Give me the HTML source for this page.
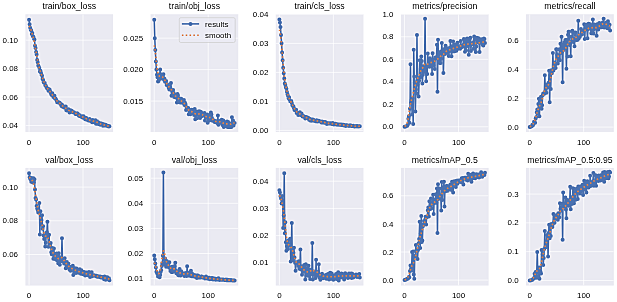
<!DOCTYPE html>
<html lang="en"><head><meta charset="utf-8"><title>results</title>
<style>html,body{margin:0;padding:0;background:#fff}svg{display:block}</style></head>
<body>
<svg width="617" height="302" viewBox="0 0 617 302" font-family="'Liberation Sans', Arial, sans-serif" fill="#303030">
<filter id="sh" x="0" y="0" width="617" height="302" filterUnits="userSpaceOnUse" color-interpolation-filters="sRGB"><feGaussianBlur in="SourceGraphic" stdDeviation="0.9" result="b"/><feComposite in="SourceGraphic" in2="b" operator="arithmetic" k1="0" k2="1.55" k3="-0.55" k4="0"/></filter>
<g filter="url(#sh)">
<rect width="617" height="302" fill="#fff"/>
<clipPath id="c0"><rect x="25.4" y="14.25" width="87.75" height="117.7"/></clipPath>
<rect x="25.4" y="14.25" width="87.75" height="117.7" fill="#eaeaf2"/>
<path d="M29.08 14.25V131.95M83.03 14.25V131.95M25.4 40.15H113.15M25.4 68.59H113.15M25.4 97.03H113.15M25.4 125.47H113.15" stroke="#fff" stroke-width="0.6" fill="none" clip-path="url(#c0)"/>
<polyline points="29.08,19.82 29.62,24.16 30.16,27.67 30.7,29.81 31.24,30.17 31.78,34.03 32.32,32.96 32.86,36.2 33.4,36.77 33.94,38.75 34.48,39.51 35.01,45.75 35.55,48.12 36.09,52.1 36.63,54.52 37.17,60.1 37.71,62.33 38.25,65.41 38.79,66.64 39.33,68.02 39.87,71.46 40.41,70.87 40.95,72.68 41.49,74.63 42.03,75.85 42.57,79.05 43.11,80.06 43.65,82.27 44.19,82.79 44.73,83.07 45.27,85.25 45.81,85.87 46.34,87.02 46.88,88 47.42,88.64 47.96,88.81 48.5,90.71 49.04,90.2 49.58,89.6 50.12,91.26 50.66,92.93 51.2,94.35 51.74,94.95 52.28,93.31 52.82,95.63 53.36,97.01 53.9,96.93 54.44,95.81 54.98,98.42 55.52,98.62 56.06,99.57 56.6,100.79 57.14,102.14 57.68,101.96 58.21,102.39 58.75,102.19 59.29,102.5 59.83,102.95 60.37,104.08 60.91,104.02 61.45,106.07 61.99,104.63 62.53,105.79 63.07,106.99 63.61,106.66 64.15,107.58 64.69,106.81 65.23,106.79 65.77,106.49 66.31,110.18 66.85,110.52 67.39,109.93 67.93,109.59 68.47,109.19 69.01,109.98 69.54,112.43 70.08,111.08 70.62,110.28 71.16,111.1 71.7,110.87 72.24,112.04 72.78,112.29 73.32,112.21 73.86,112.28 74.4,112.76 74.94,113.11 75.48,114.12 76.02,113.44 76.56,113.96 77.1,113.31 77.64,113.53 78.18,114.74 78.72,115.53 79.26,116.04 79.8,115.34 80.34,115.92 80.87,116.56 81.41,116.47 81.95,117.32 82.49,116.37 83.03,117.65 83.57,116.37 84.11,117.34 84.65,117.4 85.19,119.14 85.73,118.21 86.27,117.91 86.81,119.64 87.35,119.23 87.89,119.16 88.43,120.62 88.97,119.31 89.51,119.04 90.05,120.76 90.59,119.88 91.13,121.56 91.67,120.63 92.21,122.23 92.74,120 93.28,120.83 93.82,121.41 94.36,122.27 94.9,120.66 95.44,120.25 95.98,123.81 96.52,121.28 97.06,121.14 97.6,122.46 98.14,124 98.68,122.39 99.22,123.49 99.76,124.05 100.3,124.79 100.84,123.43 101.38,123.41 101.92,124.83 102.46,124.03 103,125.66 103.54,124.16 104.07,125 104.61,125.39 105.15,125.5 105.69,124.86 106.23,125.14 106.77,125.52 107.31,126.04 107.85,126.28 108.39,126 108.93,126.51 109.47,126.31" fill="none" stroke="#4c72b0" stroke-width="1.5" stroke-linejoin="round"/>
<path d="M27.08 19.82a2.0 2.0 0 1 0 4.0 0a2.0 2.0 0 1 0 -4.0 0zM27.62 24.16a2.0 2.0 0 1 0 4.0 0a2.0 2.0 0 1 0 -4.0 0zM28.16 27.67a2.0 2.0 0 1 0 4.0 0a2.0 2.0 0 1 0 -4.0 0zM28.7 29.81a2.0 2.0 0 1 0 4.0 0a2.0 2.0 0 1 0 -4.0 0zM29.24 30.17a2.0 2.0 0 1 0 4.0 0a2.0 2.0 0 1 0 -4.0 0zM29.78 34.03a2.0 2.0 0 1 0 4.0 0a2.0 2.0 0 1 0 -4.0 0zM30.32 32.96a2.0 2.0 0 1 0 4.0 0a2.0 2.0 0 1 0 -4.0 0zM30.86 36.2a2.0 2.0 0 1 0 4.0 0a2.0 2.0 0 1 0 -4.0 0zM31.4 36.77a2.0 2.0 0 1 0 4.0 0a2.0 2.0 0 1 0 -4.0 0zM31.94 38.75a2.0 2.0 0 1 0 4.0 0a2.0 2.0 0 1 0 -4.0 0zM32.48 39.51a2.0 2.0 0 1 0 4.0 0a2.0 2.0 0 1 0 -4.0 0zM33.01 45.75a2.0 2.0 0 1 0 4.0 0a2.0 2.0 0 1 0 -4.0 0zM33.55 48.12a2.0 2.0 0 1 0 4.0 0a2.0 2.0 0 1 0 -4.0 0zM34.09 52.1a2.0 2.0 0 1 0 4.0 0a2.0 2.0 0 1 0 -4.0 0zM34.63 54.52a2.0 2.0 0 1 0 4.0 0a2.0 2.0 0 1 0 -4.0 0zM35.17 60.1a2.0 2.0 0 1 0 4.0 0a2.0 2.0 0 1 0 -4.0 0zM35.71 62.33a2.0 2.0 0 1 0 4.0 0a2.0 2.0 0 1 0 -4.0 0zM36.25 65.41a2.0 2.0 0 1 0 4.0 0a2.0 2.0 0 1 0 -4.0 0zM36.79 66.64a2.0 2.0 0 1 0 4.0 0a2.0 2.0 0 1 0 -4.0 0zM37.33 68.02a2.0 2.0 0 1 0 4.0 0a2.0 2.0 0 1 0 -4.0 0zM37.87 71.46a2.0 2.0 0 1 0 4.0 0a2.0 2.0 0 1 0 -4.0 0zM38.41 70.87a2.0 2.0 0 1 0 4.0 0a2.0 2.0 0 1 0 -4.0 0zM38.95 72.68a2.0 2.0 0 1 0 4.0 0a2.0 2.0 0 1 0 -4.0 0zM39.49 74.63a2.0 2.0 0 1 0 4.0 0a2.0 2.0 0 1 0 -4.0 0zM40.03 75.85a2.0 2.0 0 1 0 4.0 0a2.0 2.0 0 1 0 -4.0 0zM40.57 79.05a2.0 2.0 0 1 0 4.0 0a2.0 2.0 0 1 0 -4.0 0zM41.11 80.06a2.0 2.0 0 1 0 4.0 0a2.0 2.0 0 1 0 -4.0 0zM41.65 82.27a2.0 2.0 0 1 0 4.0 0a2.0 2.0 0 1 0 -4.0 0zM42.19 82.79a2.0 2.0 0 1 0 4.0 0a2.0 2.0 0 1 0 -4.0 0zM42.73 83.07a2.0 2.0 0 1 0 4.0 0a2.0 2.0 0 1 0 -4.0 0zM43.27 85.25a2.0 2.0 0 1 0 4.0 0a2.0 2.0 0 1 0 -4.0 0zM43.81 85.87a2.0 2.0 0 1 0 4.0 0a2.0 2.0 0 1 0 -4.0 0zM44.34 87.02a2.0 2.0 0 1 0 4.0 0a2.0 2.0 0 1 0 -4.0 0zM44.88 88a2.0 2.0 0 1 0 4.0 0a2.0 2.0 0 1 0 -4.0 0zM45.42 88.64a2.0 2.0 0 1 0 4.0 0a2.0 2.0 0 1 0 -4.0 0zM45.96 88.81a2.0 2.0 0 1 0 4.0 0a2.0 2.0 0 1 0 -4.0 0zM46.5 90.71a2.0 2.0 0 1 0 4.0 0a2.0 2.0 0 1 0 -4.0 0zM47.04 90.2a2.0 2.0 0 1 0 4.0 0a2.0 2.0 0 1 0 -4.0 0zM47.58 89.6a2.0 2.0 0 1 0 4.0 0a2.0 2.0 0 1 0 -4.0 0zM48.12 91.26a2.0 2.0 0 1 0 4.0 0a2.0 2.0 0 1 0 -4.0 0zM48.66 92.93a2.0 2.0 0 1 0 4.0 0a2.0 2.0 0 1 0 -4.0 0zM49.2 94.35a2.0 2.0 0 1 0 4.0 0a2.0 2.0 0 1 0 -4.0 0zM49.74 94.95a2.0 2.0 0 1 0 4.0 0a2.0 2.0 0 1 0 -4.0 0zM50.28 93.31a2.0 2.0 0 1 0 4.0 0a2.0 2.0 0 1 0 -4.0 0zM50.82 95.63a2.0 2.0 0 1 0 4.0 0a2.0 2.0 0 1 0 -4.0 0zM51.36 97.01a2.0 2.0 0 1 0 4.0 0a2.0 2.0 0 1 0 -4.0 0zM51.9 96.93a2.0 2.0 0 1 0 4.0 0a2.0 2.0 0 1 0 -4.0 0zM52.44 95.81a2.0 2.0 0 1 0 4.0 0a2.0 2.0 0 1 0 -4.0 0zM52.98 98.42a2.0 2.0 0 1 0 4.0 0a2.0 2.0 0 1 0 -4.0 0zM53.52 98.62a2.0 2.0 0 1 0 4.0 0a2.0 2.0 0 1 0 -4.0 0zM54.06 99.57a2.0 2.0 0 1 0 4.0 0a2.0 2.0 0 1 0 -4.0 0zM54.6 100.79a2.0 2.0 0 1 0 4.0 0a2.0 2.0 0 1 0 -4.0 0zM55.14 102.14a2.0 2.0 0 1 0 4.0 0a2.0 2.0 0 1 0 -4.0 0zM55.68 101.96a2.0 2.0 0 1 0 4.0 0a2.0 2.0 0 1 0 -4.0 0zM56.21 102.39a2.0 2.0 0 1 0 4.0 0a2.0 2.0 0 1 0 -4.0 0zM56.75 102.19a2.0 2.0 0 1 0 4.0 0a2.0 2.0 0 1 0 -4.0 0zM57.29 102.5a2.0 2.0 0 1 0 4.0 0a2.0 2.0 0 1 0 -4.0 0zM57.83 102.95a2.0 2.0 0 1 0 4.0 0a2.0 2.0 0 1 0 -4.0 0zM58.37 104.08a2.0 2.0 0 1 0 4.0 0a2.0 2.0 0 1 0 -4.0 0zM58.91 104.02a2.0 2.0 0 1 0 4.0 0a2.0 2.0 0 1 0 -4.0 0zM59.45 106.07a2.0 2.0 0 1 0 4.0 0a2.0 2.0 0 1 0 -4.0 0zM59.99 104.63a2.0 2.0 0 1 0 4.0 0a2.0 2.0 0 1 0 -4.0 0zM60.53 105.79a2.0 2.0 0 1 0 4.0 0a2.0 2.0 0 1 0 -4.0 0zM61.07 106.99a2.0 2.0 0 1 0 4.0 0a2.0 2.0 0 1 0 -4.0 0zM61.61 106.66a2.0 2.0 0 1 0 4.0 0a2.0 2.0 0 1 0 -4.0 0zM62.15 107.58a2.0 2.0 0 1 0 4.0 0a2.0 2.0 0 1 0 -4.0 0zM62.69 106.81a2.0 2.0 0 1 0 4.0 0a2.0 2.0 0 1 0 -4.0 0zM63.23 106.79a2.0 2.0 0 1 0 4.0 0a2.0 2.0 0 1 0 -4.0 0zM63.77 106.49a2.0 2.0 0 1 0 4.0 0a2.0 2.0 0 1 0 -4.0 0zM64.31 110.18a2.0 2.0 0 1 0 4.0 0a2.0 2.0 0 1 0 -4.0 0zM64.85 110.52a2.0 2.0 0 1 0 4.0 0a2.0 2.0 0 1 0 -4.0 0zM65.39 109.93a2.0 2.0 0 1 0 4.0 0a2.0 2.0 0 1 0 -4.0 0zM65.93 109.59a2.0 2.0 0 1 0 4.0 0a2.0 2.0 0 1 0 -4.0 0zM66.47 109.19a2.0 2.0 0 1 0 4.0 0a2.0 2.0 0 1 0 -4.0 0zM67.01 109.98a2.0 2.0 0 1 0 4.0 0a2.0 2.0 0 1 0 -4.0 0zM67.54 112.43a2.0 2.0 0 1 0 4.0 0a2.0 2.0 0 1 0 -4.0 0zM68.08 111.08a2.0 2.0 0 1 0 4.0 0a2.0 2.0 0 1 0 -4.0 0zM68.62 110.28a2.0 2.0 0 1 0 4.0 0a2.0 2.0 0 1 0 -4.0 0zM69.16 111.1a2.0 2.0 0 1 0 4.0 0a2.0 2.0 0 1 0 -4.0 0zM69.7 110.87a2.0 2.0 0 1 0 4.0 0a2.0 2.0 0 1 0 -4.0 0zM70.24 112.04a2.0 2.0 0 1 0 4.0 0a2.0 2.0 0 1 0 -4.0 0zM70.78 112.29a2.0 2.0 0 1 0 4.0 0a2.0 2.0 0 1 0 -4.0 0zM71.32 112.21a2.0 2.0 0 1 0 4.0 0a2.0 2.0 0 1 0 -4.0 0zM71.86 112.28a2.0 2.0 0 1 0 4.0 0a2.0 2.0 0 1 0 -4.0 0zM72.4 112.76a2.0 2.0 0 1 0 4.0 0a2.0 2.0 0 1 0 -4.0 0zM72.94 113.11a2.0 2.0 0 1 0 4.0 0a2.0 2.0 0 1 0 -4.0 0zM73.48 114.12a2.0 2.0 0 1 0 4.0 0a2.0 2.0 0 1 0 -4.0 0zM74.02 113.44a2.0 2.0 0 1 0 4.0 0a2.0 2.0 0 1 0 -4.0 0zM74.56 113.96a2.0 2.0 0 1 0 4.0 0a2.0 2.0 0 1 0 -4.0 0zM75.1 113.31a2.0 2.0 0 1 0 4.0 0a2.0 2.0 0 1 0 -4.0 0zM75.64 113.53a2.0 2.0 0 1 0 4.0 0a2.0 2.0 0 1 0 -4.0 0zM76.18 114.74a2.0 2.0 0 1 0 4.0 0a2.0 2.0 0 1 0 -4.0 0zM76.72 115.53a2.0 2.0 0 1 0 4.0 0a2.0 2.0 0 1 0 -4.0 0zM77.26 116.04a2.0 2.0 0 1 0 4.0 0a2.0 2.0 0 1 0 -4.0 0zM77.8 115.34a2.0 2.0 0 1 0 4.0 0a2.0 2.0 0 1 0 -4.0 0zM78.34 115.92a2.0 2.0 0 1 0 4.0 0a2.0 2.0 0 1 0 -4.0 0zM78.87 116.56a2.0 2.0 0 1 0 4.0 0a2.0 2.0 0 1 0 -4.0 0zM79.41 116.47a2.0 2.0 0 1 0 4.0 0a2.0 2.0 0 1 0 -4.0 0zM79.95 117.32a2.0 2.0 0 1 0 4.0 0a2.0 2.0 0 1 0 -4.0 0zM80.49 116.37a2.0 2.0 0 1 0 4.0 0a2.0 2.0 0 1 0 -4.0 0zM81.03 117.65a2.0 2.0 0 1 0 4.0 0a2.0 2.0 0 1 0 -4.0 0zM81.57 116.37a2.0 2.0 0 1 0 4.0 0a2.0 2.0 0 1 0 -4.0 0zM82.11 117.34a2.0 2.0 0 1 0 4.0 0a2.0 2.0 0 1 0 -4.0 0zM82.65 117.4a2.0 2.0 0 1 0 4.0 0a2.0 2.0 0 1 0 -4.0 0zM83.19 119.14a2.0 2.0 0 1 0 4.0 0a2.0 2.0 0 1 0 -4.0 0zM83.73 118.21a2.0 2.0 0 1 0 4.0 0a2.0 2.0 0 1 0 -4.0 0zM84.27 117.91a2.0 2.0 0 1 0 4.0 0a2.0 2.0 0 1 0 -4.0 0zM84.81 119.64a2.0 2.0 0 1 0 4.0 0a2.0 2.0 0 1 0 -4.0 0zM85.35 119.23a2.0 2.0 0 1 0 4.0 0a2.0 2.0 0 1 0 -4.0 0zM85.89 119.16a2.0 2.0 0 1 0 4.0 0a2.0 2.0 0 1 0 -4.0 0zM86.43 120.62a2.0 2.0 0 1 0 4.0 0a2.0 2.0 0 1 0 -4.0 0zM86.97 119.31a2.0 2.0 0 1 0 4.0 0a2.0 2.0 0 1 0 -4.0 0zM87.51 119.04a2.0 2.0 0 1 0 4.0 0a2.0 2.0 0 1 0 -4.0 0zM88.05 120.76a2.0 2.0 0 1 0 4.0 0a2.0 2.0 0 1 0 -4.0 0zM88.59 119.88a2.0 2.0 0 1 0 4.0 0a2.0 2.0 0 1 0 -4.0 0zM89.13 121.56a2.0 2.0 0 1 0 4.0 0a2.0 2.0 0 1 0 -4.0 0zM89.67 120.63a2.0 2.0 0 1 0 4.0 0a2.0 2.0 0 1 0 -4.0 0zM90.21 122.23a2.0 2.0 0 1 0 4.0 0a2.0 2.0 0 1 0 -4.0 0zM90.74 120a2.0 2.0 0 1 0 4.0 0a2.0 2.0 0 1 0 -4.0 0zM91.28 120.83a2.0 2.0 0 1 0 4.0 0a2.0 2.0 0 1 0 -4.0 0zM91.82 121.41a2.0 2.0 0 1 0 4.0 0a2.0 2.0 0 1 0 -4.0 0zM92.36 122.27a2.0 2.0 0 1 0 4.0 0a2.0 2.0 0 1 0 -4.0 0zM92.9 120.66a2.0 2.0 0 1 0 4.0 0a2.0 2.0 0 1 0 -4.0 0zM93.44 120.25a2.0 2.0 0 1 0 4.0 0a2.0 2.0 0 1 0 -4.0 0zM93.98 123.81a2.0 2.0 0 1 0 4.0 0a2.0 2.0 0 1 0 -4.0 0zM94.52 121.28a2.0 2.0 0 1 0 4.0 0a2.0 2.0 0 1 0 -4.0 0zM95.06 121.14a2.0 2.0 0 1 0 4.0 0a2.0 2.0 0 1 0 -4.0 0zM95.6 122.46a2.0 2.0 0 1 0 4.0 0a2.0 2.0 0 1 0 -4.0 0zM96.14 124a2.0 2.0 0 1 0 4.0 0a2.0 2.0 0 1 0 -4.0 0zM96.68 122.39a2.0 2.0 0 1 0 4.0 0a2.0 2.0 0 1 0 -4.0 0zM97.22 123.49a2.0 2.0 0 1 0 4.0 0a2.0 2.0 0 1 0 -4.0 0zM97.76 124.05a2.0 2.0 0 1 0 4.0 0a2.0 2.0 0 1 0 -4.0 0zM98.3 124.79a2.0 2.0 0 1 0 4.0 0a2.0 2.0 0 1 0 -4.0 0zM98.84 123.43a2.0 2.0 0 1 0 4.0 0a2.0 2.0 0 1 0 -4.0 0zM99.38 123.41a2.0 2.0 0 1 0 4.0 0a2.0 2.0 0 1 0 -4.0 0zM99.92 124.83a2.0 2.0 0 1 0 4.0 0a2.0 2.0 0 1 0 -4.0 0zM100.46 124.03a2.0 2.0 0 1 0 4.0 0a2.0 2.0 0 1 0 -4.0 0zM101 125.66a2.0 2.0 0 1 0 4.0 0a2.0 2.0 0 1 0 -4.0 0zM101.54 124.16a2.0 2.0 0 1 0 4.0 0a2.0 2.0 0 1 0 -4.0 0zM102.07 125a2.0 2.0 0 1 0 4.0 0a2.0 2.0 0 1 0 -4.0 0zM102.61 125.39a2.0 2.0 0 1 0 4.0 0a2.0 2.0 0 1 0 -4.0 0zM103.15 125.5a2.0 2.0 0 1 0 4.0 0a2.0 2.0 0 1 0 -4.0 0zM103.69 124.86a2.0 2.0 0 1 0 4.0 0a2.0 2.0 0 1 0 -4.0 0zM104.23 125.14a2.0 2.0 0 1 0 4.0 0a2.0 2.0 0 1 0 -4.0 0zM104.77 125.52a2.0 2.0 0 1 0 4.0 0a2.0 2.0 0 1 0 -4.0 0zM105.31 126.04a2.0 2.0 0 1 0 4.0 0a2.0 2.0 0 1 0 -4.0 0zM105.85 126.28a2.0 2.0 0 1 0 4.0 0a2.0 2.0 0 1 0 -4.0 0zM106.39 126a2.0 2.0 0 1 0 4.0 0a2.0 2.0 0 1 0 -4.0 0zM106.93 126.51a2.0 2.0 0 1 0 4.0 0a2.0 2.0 0 1 0 -4.0 0zM107.47 126.31a2.0 2.0 0 1 0 4.0 0a2.0 2.0 0 1 0 -4.0 0z" fill="#4c72b0"/>
<polyline points="29.08,25.99 29.62,26.57 30.16,27.64 30.7,29.05 31.24,30.68 31.78,32.41 32.32,34.22 32.86,36.12 33.4,38.19 33.94,40.47 34.48,43.01 35.01,45.79 35.55,48.77 36.09,51.86 36.63,54.96 37.17,57.95 37.71,60.76 38.25,63.34 38.79,65.66 39.33,67.74 39.87,69.65 40.41,71.43 40.95,73.13 41.49,74.79 42.03,76.42 42.57,78.01 43.11,79.53 43.65,80.95 44.19,82.27 44.73,83.49 45.27,84.61 45.81,85.64 46.34,86.58 46.88,87.45 47.42,88.25 47.96,88.99 48.5,89.69 49.04,90.39 49.58,91.09 50.12,91.82 50.66,92.57 51.2,93.31 51.74,94.04 52.28,94.74 52.82,95.41 53.36,96.08 53.9,96.75 54.44,97.44 54.98,98.15 55.52,98.88 56.06,99.61 56.6,100.31 57.14,100.94 57.68,101.51 58.21,102.02 58.75,102.49 59.29,102.95 59.83,103.42 60.37,103.89 60.91,104.38 61.45,104.87 61.99,105.34 62.53,105.79 63.07,106.2 63.61,106.59 64.15,106.97 64.69,107.36 65.23,107.77 65.77,108.21 66.31,108.66 66.85,109.08 67.39,109.47 67.93,109.81 68.47,110.11 69.01,110.38 69.54,110.61 70.08,110.84 70.62,111.05 71.16,111.27 71.7,111.49 72.24,111.74 72.78,112 73.32,112.28 73.86,112.55 74.4,112.82 74.94,113.08 75.48,113.32 76.02,113.56 76.56,113.81 77.1,114.08 77.64,114.37 78.18,114.7 78.72,115.03 79.26,115.37 79.8,115.68 80.34,115.97 80.87,116.23 81.41,116.47 81.95,116.68 82.49,116.89 83.03,117.09 83.57,117.31 84.11,117.55 84.65,117.81 85.19,118.09 85.73,118.37 86.27,118.65 86.81,118.91 87.35,119.15 87.89,119.38 88.43,119.59 88.97,119.79 89.51,120 90.05,120.21 90.59,120.42 91.13,120.61 91.67,120.78 92.21,120.92 92.74,121.04 93.28,121.15 93.82,121.25 94.36,121.36 94.9,121.49 95.44,121.64 95.98,121.82 96.52,122.04 97.06,122.28 97.6,122.55 98.14,122.83 98.68,123.1 99.22,123.36 99.76,123.6 100.3,123.8 100.84,123.98 101.38,124.15 101.92,124.32 102.46,124.48 103,124.64 103.54,124.8 104.07,124.94 104.61,125.07 105.15,125.21 105.69,125.34 106.23,125.48 106.77,125.64 107.31,125.79 107.85,125.93 108.39,126.05 108.93,126.13 109.47,126.17" fill="none" stroke="#dd8452" stroke-width="1.6" stroke-dasharray="1.5 2.33"/>
<clipPath id="c1"><rect x="150.56" y="14.25" width="87.75" height="117.7"/></clipPath>
<rect x="150.56" y="14.25" width="87.75" height="117.7" fill="#eaeaf2"/>
<path d="M154.24 14.25V131.95M208.19 14.25V131.95M150.56 38.15H238.31M150.56 69.6H238.31M150.56 101.05H238.31" stroke="#fff" stroke-width="0.6" fill="none" clip-path="url(#c1)"/>
<polyline points="154.24,19.66 154.78,38.15 155.32,50.1 155.86,61.42 156.4,69.6 156.94,74.63 157.48,77.14 158.02,81.38 158.56,81.07 159.1,79.54 159.64,74.52 160.17,69.51 160.71,75.26 161.25,78.4 161.79,74.54 162.33,77.71 162.87,76.68 163.41,74.22 163.95,79.72 164.49,78.72 165.03,81.85 165.57,81 166.11,80.98 166.65,85.04 167.19,84.28 167.73,84.71 168.27,86.3 168.81,88.22 169.35,89.39 169.89,86.96 170.43,88.14 170.97,83.05 171.5,95.74 172.04,90.7 172.58,91.28 173.12,89.98 173.66,93.05 174.2,97.11 174.74,95.7 175.28,94.97 175.82,97.61 176.36,95.47 176.9,102.4 177.44,94.09 177.98,95.2 178.52,100.04 179.06,98.17 179.6,99.93 180.14,102.44 180.68,100.57 181.22,98.72 181.76,102.42 182.3,102.78 182.84,102.43 183.37,101.61 183.91,100.01 184.45,105.09 184.99,102.87 185.53,104.22 186.07,109.95 186.61,107.31 187.15,107.46 187.69,108.06 188.23,107.97 188.77,114.33 189.31,109.94 189.85,112.1 190.39,114.25 190.93,109.88 191.47,109.65 192.01,113.21 192.55,109.89 193.09,113.01 193.63,112.15 194.17,115.1 194.7,108.93 195.24,119.15 195.78,113.26 196.32,111.59 196.86,118.22 197.4,114.08 197.94,114.02 198.48,112.11 199.02,111.33 199.56,115.41 200.1,117.91 200.64,111.67 201.18,112.22 201.72,116.35 202.26,114.65 202.8,114.78 203.34,114.54 203.88,115.58 204.42,112.98 204.96,120.49 205.5,114.23 206.03,115.95 206.57,117.53 207.11,114.51 207.65,122.83 208.19,114.92 208.73,116.91 209.27,120.6 209.81,117.18 210.35,119.07 210.89,112.62 211.43,114.55 211.97,117.95 212.51,120.81 213.05,120.71 213.59,120.33 214.13,121.08 214.67,122.08 215.21,121.58 215.75,121.08 216.29,121.85 216.83,122.48 217.37,123.22 217.9,115.53 218.44,124.87 218.98,124.04 219.52,120.95 220.06,122.85 220.6,121.35 221.14,120.68 221.68,119.81 222.22,121.12 222.76,125.19 223.3,120.6 223.84,126.96 224.38,123.59 224.92,124.54 225.46,125.9 226,122.3 226.54,124.12 227.08,121.53 227.62,126.96 228.16,122.09 228.7,122.95 229.23,123.86 229.77,126.96 230.31,124.84 230.85,126.96 231.39,126.96 231.93,117.21 232.47,122.37 233.01,120.6 233.55,125.53 234.09,123.08 234.63,123.1" fill="none" stroke="#4c72b0" stroke-width="1.5" stroke-linejoin="round"/>
<path d="M152.24 19.66a2.0 2.0 0 1 0 4.0 0a2.0 2.0 0 1 0 -4.0 0zM152.78 38.15a2.0 2.0 0 1 0 4.0 0a2.0 2.0 0 1 0 -4.0 0zM153.32 50.1a2.0 2.0 0 1 0 4.0 0a2.0 2.0 0 1 0 -4.0 0zM153.86 61.42a2.0 2.0 0 1 0 4.0 0a2.0 2.0 0 1 0 -4.0 0zM154.4 69.6a2.0 2.0 0 1 0 4.0 0a2.0 2.0 0 1 0 -4.0 0zM154.94 74.63a2.0 2.0 0 1 0 4.0 0a2.0 2.0 0 1 0 -4.0 0zM155.48 77.14a2.0 2.0 0 1 0 4.0 0a2.0 2.0 0 1 0 -4.0 0zM156.02 81.38a2.0 2.0 0 1 0 4.0 0a2.0 2.0 0 1 0 -4.0 0zM156.56 81.07a2.0 2.0 0 1 0 4.0 0a2.0 2.0 0 1 0 -4.0 0zM157.1 79.54a2.0 2.0 0 1 0 4.0 0a2.0 2.0 0 1 0 -4.0 0zM157.64 74.52a2.0 2.0 0 1 0 4.0 0a2.0 2.0 0 1 0 -4.0 0zM158.17 69.51a2.0 2.0 0 1 0 4.0 0a2.0 2.0 0 1 0 -4.0 0zM158.71 75.26a2.0 2.0 0 1 0 4.0 0a2.0 2.0 0 1 0 -4.0 0zM159.25 78.4a2.0 2.0 0 1 0 4.0 0a2.0 2.0 0 1 0 -4.0 0zM159.79 74.54a2.0 2.0 0 1 0 4.0 0a2.0 2.0 0 1 0 -4.0 0zM160.33 77.71a2.0 2.0 0 1 0 4.0 0a2.0 2.0 0 1 0 -4.0 0zM160.87 76.68a2.0 2.0 0 1 0 4.0 0a2.0 2.0 0 1 0 -4.0 0zM161.41 74.22a2.0 2.0 0 1 0 4.0 0a2.0 2.0 0 1 0 -4.0 0zM161.95 79.72a2.0 2.0 0 1 0 4.0 0a2.0 2.0 0 1 0 -4.0 0zM162.49 78.72a2.0 2.0 0 1 0 4.0 0a2.0 2.0 0 1 0 -4.0 0zM163.03 81.85a2.0 2.0 0 1 0 4.0 0a2.0 2.0 0 1 0 -4.0 0zM163.57 81a2.0 2.0 0 1 0 4.0 0a2.0 2.0 0 1 0 -4.0 0zM164.11 80.98a2.0 2.0 0 1 0 4.0 0a2.0 2.0 0 1 0 -4.0 0zM164.65 85.04a2.0 2.0 0 1 0 4.0 0a2.0 2.0 0 1 0 -4.0 0zM165.19 84.28a2.0 2.0 0 1 0 4.0 0a2.0 2.0 0 1 0 -4.0 0zM165.73 84.71a2.0 2.0 0 1 0 4.0 0a2.0 2.0 0 1 0 -4.0 0zM166.27 86.3a2.0 2.0 0 1 0 4.0 0a2.0 2.0 0 1 0 -4.0 0zM166.81 88.22a2.0 2.0 0 1 0 4.0 0a2.0 2.0 0 1 0 -4.0 0zM167.35 89.39a2.0 2.0 0 1 0 4.0 0a2.0 2.0 0 1 0 -4.0 0zM167.89 86.96a2.0 2.0 0 1 0 4.0 0a2.0 2.0 0 1 0 -4.0 0zM168.43 88.14a2.0 2.0 0 1 0 4.0 0a2.0 2.0 0 1 0 -4.0 0zM168.97 83.05a2.0 2.0 0 1 0 4.0 0a2.0 2.0 0 1 0 -4.0 0zM169.5 95.74a2.0 2.0 0 1 0 4.0 0a2.0 2.0 0 1 0 -4.0 0zM170.04 90.7a2.0 2.0 0 1 0 4.0 0a2.0 2.0 0 1 0 -4.0 0zM170.58 91.28a2.0 2.0 0 1 0 4.0 0a2.0 2.0 0 1 0 -4.0 0zM171.12 89.98a2.0 2.0 0 1 0 4.0 0a2.0 2.0 0 1 0 -4.0 0zM171.66 93.05a2.0 2.0 0 1 0 4.0 0a2.0 2.0 0 1 0 -4.0 0zM172.2 97.11a2.0 2.0 0 1 0 4.0 0a2.0 2.0 0 1 0 -4.0 0zM172.74 95.7a2.0 2.0 0 1 0 4.0 0a2.0 2.0 0 1 0 -4.0 0zM173.28 94.97a2.0 2.0 0 1 0 4.0 0a2.0 2.0 0 1 0 -4.0 0zM173.82 97.61a2.0 2.0 0 1 0 4.0 0a2.0 2.0 0 1 0 -4.0 0zM174.36 95.47a2.0 2.0 0 1 0 4.0 0a2.0 2.0 0 1 0 -4.0 0zM174.9 102.4a2.0 2.0 0 1 0 4.0 0a2.0 2.0 0 1 0 -4.0 0zM175.44 94.09a2.0 2.0 0 1 0 4.0 0a2.0 2.0 0 1 0 -4.0 0zM175.98 95.2a2.0 2.0 0 1 0 4.0 0a2.0 2.0 0 1 0 -4.0 0zM176.52 100.04a2.0 2.0 0 1 0 4.0 0a2.0 2.0 0 1 0 -4.0 0zM177.06 98.17a2.0 2.0 0 1 0 4.0 0a2.0 2.0 0 1 0 -4.0 0zM177.6 99.93a2.0 2.0 0 1 0 4.0 0a2.0 2.0 0 1 0 -4.0 0zM178.14 102.44a2.0 2.0 0 1 0 4.0 0a2.0 2.0 0 1 0 -4.0 0zM178.68 100.57a2.0 2.0 0 1 0 4.0 0a2.0 2.0 0 1 0 -4.0 0zM179.22 98.72a2.0 2.0 0 1 0 4.0 0a2.0 2.0 0 1 0 -4.0 0zM179.76 102.42a2.0 2.0 0 1 0 4.0 0a2.0 2.0 0 1 0 -4.0 0zM180.3 102.78a2.0 2.0 0 1 0 4.0 0a2.0 2.0 0 1 0 -4.0 0zM180.84 102.43a2.0 2.0 0 1 0 4.0 0a2.0 2.0 0 1 0 -4.0 0zM181.37 101.61a2.0 2.0 0 1 0 4.0 0a2.0 2.0 0 1 0 -4.0 0zM181.91 100.01a2.0 2.0 0 1 0 4.0 0a2.0 2.0 0 1 0 -4.0 0zM182.45 105.09a2.0 2.0 0 1 0 4.0 0a2.0 2.0 0 1 0 -4.0 0zM182.99 102.87a2.0 2.0 0 1 0 4.0 0a2.0 2.0 0 1 0 -4.0 0zM183.53 104.22a2.0 2.0 0 1 0 4.0 0a2.0 2.0 0 1 0 -4.0 0zM184.07 109.95a2.0 2.0 0 1 0 4.0 0a2.0 2.0 0 1 0 -4.0 0zM184.61 107.31a2.0 2.0 0 1 0 4.0 0a2.0 2.0 0 1 0 -4.0 0zM185.15 107.46a2.0 2.0 0 1 0 4.0 0a2.0 2.0 0 1 0 -4.0 0zM185.69 108.06a2.0 2.0 0 1 0 4.0 0a2.0 2.0 0 1 0 -4.0 0zM186.23 107.97a2.0 2.0 0 1 0 4.0 0a2.0 2.0 0 1 0 -4.0 0zM186.77 114.33a2.0 2.0 0 1 0 4.0 0a2.0 2.0 0 1 0 -4.0 0zM187.31 109.94a2.0 2.0 0 1 0 4.0 0a2.0 2.0 0 1 0 -4.0 0zM187.85 112.1a2.0 2.0 0 1 0 4.0 0a2.0 2.0 0 1 0 -4.0 0zM188.39 114.25a2.0 2.0 0 1 0 4.0 0a2.0 2.0 0 1 0 -4.0 0zM188.93 109.88a2.0 2.0 0 1 0 4.0 0a2.0 2.0 0 1 0 -4.0 0zM189.47 109.65a2.0 2.0 0 1 0 4.0 0a2.0 2.0 0 1 0 -4.0 0zM190.01 113.21a2.0 2.0 0 1 0 4.0 0a2.0 2.0 0 1 0 -4.0 0zM190.55 109.89a2.0 2.0 0 1 0 4.0 0a2.0 2.0 0 1 0 -4.0 0zM191.09 113.01a2.0 2.0 0 1 0 4.0 0a2.0 2.0 0 1 0 -4.0 0zM191.63 112.15a2.0 2.0 0 1 0 4.0 0a2.0 2.0 0 1 0 -4.0 0zM192.17 115.1a2.0 2.0 0 1 0 4.0 0a2.0 2.0 0 1 0 -4.0 0zM192.7 108.93a2.0 2.0 0 1 0 4.0 0a2.0 2.0 0 1 0 -4.0 0zM193.24 119.15a2.0 2.0 0 1 0 4.0 0a2.0 2.0 0 1 0 -4.0 0zM193.78 113.26a2.0 2.0 0 1 0 4.0 0a2.0 2.0 0 1 0 -4.0 0zM194.32 111.59a2.0 2.0 0 1 0 4.0 0a2.0 2.0 0 1 0 -4.0 0zM194.86 118.22a2.0 2.0 0 1 0 4.0 0a2.0 2.0 0 1 0 -4.0 0zM195.4 114.08a2.0 2.0 0 1 0 4.0 0a2.0 2.0 0 1 0 -4.0 0zM195.94 114.02a2.0 2.0 0 1 0 4.0 0a2.0 2.0 0 1 0 -4.0 0zM196.48 112.11a2.0 2.0 0 1 0 4.0 0a2.0 2.0 0 1 0 -4.0 0zM197.02 111.33a2.0 2.0 0 1 0 4.0 0a2.0 2.0 0 1 0 -4.0 0zM197.56 115.41a2.0 2.0 0 1 0 4.0 0a2.0 2.0 0 1 0 -4.0 0zM198.1 117.91a2.0 2.0 0 1 0 4.0 0a2.0 2.0 0 1 0 -4.0 0zM198.64 111.67a2.0 2.0 0 1 0 4.0 0a2.0 2.0 0 1 0 -4.0 0zM199.18 112.22a2.0 2.0 0 1 0 4.0 0a2.0 2.0 0 1 0 -4.0 0zM199.72 116.35a2.0 2.0 0 1 0 4.0 0a2.0 2.0 0 1 0 -4.0 0zM200.26 114.65a2.0 2.0 0 1 0 4.0 0a2.0 2.0 0 1 0 -4.0 0zM200.8 114.78a2.0 2.0 0 1 0 4.0 0a2.0 2.0 0 1 0 -4.0 0zM201.34 114.54a2.0 2.0 0 1 0 4.0 0a2.0 2.0 0 1 0 -4.0 0zM201.88 115.58a2.0 2.0 0 1 0 4.0 0a2.0 2.0 0 1 0 -4.0 0zM202.42 112.98a2.0 2.0 0 1 0 4.0 0a2.0 2.0 0 1 0 -4.0 0zM202.96 120.49a2.0 2.0 0 1 0 4.0 0a2.0 2.0 0 1 0 -4.0 0zM203.5 114.23a2.0 2.0 0 1 0 4.0 0a2.0 2.0 0 1 0 -4.0 0zM204.03 115.95a2.0 2.0 0 1 0 4.0 0a2.0 2.0 0 1 0 -4.0 0zM204.57 117.53a2.0 2.0 0 1 0 4.0 0a2.0 2.0 0 1 0 -4.0 0zM205.11 114.51a2.0 2.0 0 1 0 4.0 0a2.0 2.0 0 1 0 -4.0 0zM205.65 122.83a2.0 2.0 0 1 0 4.0 0a2.0 2.0 0 1 0 -4.0 0zM206.19 114.92a2.0 2.0 0 1 0 4.0 0a2.0 2.0 0 1 0 -4.0 0zM206.73 116.91a2.0 2.0 0 1 0 4.0 0a2.0 2.0 0 1 0 -4.0 0zM207.27 120.6a2.0 2.0 0 1 0 4.0 0a2.0 2.0 0 1 0 -4.0 0zM207.81 117.18a2.0 2.0 0 1 0 4.0 0a2.0 2.0 0 1 0 -4.0 0zM208.35 119.07a2.0 2.0 0 1 0 4.0 0a2.0 2.0 0 1 0 -4.0 0zM208.89 112.62a2.0 2.0 0 1 0 4.0 0a2.0 2.0 0 1 0 -4.0 0zM209.43 114.55a2.0 2.0 0 1 0 4.0 0a2.0 2.0 0 1 0 -4.0 0zM209.97 117.95a2.0 2.0 0 1 0 4.0 0a2.0 2.0 0 1 0 -4.0 0zM210.51 120.81a2.0 2.0 0 1 0 4.0 0a2.0 2.0 0 1 0 -4.0 0zM211.05 120.71a2.0 2.0 0 1 0 4.0 0a2.0 2.0 0 1 0 -4.0 0zM211.59 120.33a2.0 2.0 0 1 0 4.0 0a2.0 2.0 0 1 0 -4.0 0zM212.13 121.08a2.0 2.0 0 1 0 4.0 0a2.0 2.0 0 1 0 -4.0 0zM212.67 122.08a2.0 2.0 0 1 0 4.0 0a2.0 2.0 0 1 0 -4.0 0zM213.21 121.58a2.0 2.0 0 1 0 4.0 0a2.0 2.0 0 1 0 -4.0 0zM213.75 121.08a2.0 2.0 0 1 0 4.0 0a2.0 2.0 0 1 0 -4.0 0zM214.29 121.85a2.0 2.0 0 1 0 4.0 0a2.0 2.0 0 1 0 -4.0 0zM214.83 122.48a2.0 2.0 0 1 0 4.0 0a2.0 2.0 0 1 0 -4.0 0zM215.37 123.22a2.0 2.0 0 1 0 4.0 0a2.0 2.0 0 1 0 -4.0 0zM215.9 115.53a2.0 2.0 0 1 0 4.0 0a2.0 2.0 0 1 0 -4.0 0zM216.44 124.87a2.0 2.0 0 1 0 4.0 0a2.0 2.0 0 1 0 -4.0 0zM216.98 124.04a2.0 2.0 0 1 0 4.0 0a2.0 2.0 0 1 0 -4.0 0zM217.52 120.95a2.0 2.0 0 1 0 4.0 0a2.0 2.0 0 1 0 -4.0 0zM218.06 122.85a2.0 2.0 0 1 0 4.0 0a2.0 2.0 0 1 0 -4.0 0zM218.6 121.35a2.0 2.0 0 1 0 4.0 0a2.0 2.0 0 1 0 -4.0 0zM219.14 120.68a2.0 2.0 0 1 0 4.0 0a2.0 2.0 0 1 0 -4.0 0zM219.68 119.81a2.0 2.0 0 1 0 4.0 0a2.0 2.0 0 1 0 -4.0 0zM220.22 121.12a2.0 2.0 0 1 0 4.0 0a2.0 2.0 0 1 0 -4.0 0zM220.76 125.19a2.0 2.0 0 1 0 4.0 0a2.0 2.0 0 1 0 -4.0 0zM221.3 120.6a2.0 2.0 0 1 0 4.0 0a2.0 2.0 0 1 0 -4.0 0zM221.84 126.96a2.0 2.0 0 1 0 4.0 0a2.0 2.0 0 1 0 -4.0 0zM222.38 123.59a2.0 2.0 0 1 0 4.0 0a2.0 2.0 0 1 0 -4.0 0zM222.92 124.54a2.0 2.0 0 1 0 4.0 0a2.0 2.0 0 1 0 -4.0 0zM223.46 125.9a2.0 2.0 0 1 0 4.0 0a2.0 2.0 0 1 0 -4.0 0zM224 122.3a2.0 2.0 0 1 0 4.0 0a2.0 2.0 0 1 0 -4.0 0zM224.54 124.12a2.0 2.0 0 1 0 4.0 0a2.0 2.0 0 1 0 -4.0 0zM225.08 121.53a2.0 2.0 0 1 0 4.0 0a2.0 2.0 0 1 0 -4.0 0zM225.62 126.96a2.0 2.0 0 1 0 4.0 0a2.0 2.0 0 1 0 -4.0 0zM226.16 122.09a2.0 2.0 0 1 0 4.0 0a2.0 2.0 0 1 0 -4.0 0zM226.7 122.95a2.0 2.0 0 1 0 4.0 0a2.0 2.0 0 1 0 -4.0 0zM227.23 123.86a2.0 2.0 0 1 0 4.0 0a2.0 2.0 0 1 0 -4.0 0zM227.77 126.96a2.0 2.0 0 1 0 4.0 0a2.0 2.0 0 1 0 -4.0 0zM228.31 124.84a2.0 2.0 0 1 0 4.0 0a2.0 2.0 0 1 0 -4.0 0zM228.85 126.96a2.0 2.0 0 1 0 4.0 0a2.0 2.0 0 1 0 -4.0 0zM229.39 126.96a2.0 2.0 0 1 0 4.0 0a2.0 2.0 0 1 0 -4.0 0zM229.93 117.21a2.0 2.0 0 1 0 4.0 0a2.0 2.0 0 1 0 -4.0 0zM230.47 122.37a2.0 2.0 0 1 0 4.0 0a2.0 2.0 0 1 0 -4.0 0zM231.01 120.6a2.0 2.0 0 1 0 4.0 0a2.0 2.0 0 1 0 -4.0 0zM231.55 125.53a2.0 2.0 0 1 0 4.0 0a2.0 2.0 0 1 0 -4.0 0zM232.09 123.08a2.0 2.0 0 1 0 4.0 0a2.0 2.0 0 1 0 -4.0 0zM232.63 123.1a2.0 2.0 0 1 0 4.0 0a2.0 2.0 0 1 0 -4.0 0z" fill="#4c72b0"/>
<polyline points="154.24,45.31 154.78,47.6 155.32,51.73 155.86,56.9 156.4,62.28 156.94,67.12 157.48,70.97 158.02,73.64 158.56,75.21 159.1,75.92 159.64,76.1 160.17,76.05 160.71,76 161.25,76.07 161.79,76.3 162.33,76.69 162.87,77.22 163.41,77.87 163.95,78.64 164.49,79.51 165.03,80.45 165.57,81.42 166.11,82.4 166.65,83.36 167.19,84.3 167.73,85.17 168.27,85.97 168.81,86.69 169.35,87.34 169.89,87.96 170.43,88.6 170.97,89.28 171.5,90.02 172.04,90.82 172.58,91.67 173.12,92.54 173.66,93.41 174.2,94.25 174.74,95.03 175.28,95.71 175.82,96.28 176.36,96.77 176.9,97.19 177.44,97.6 177.98,98.03 178.52,98.51 179.06,99.03 179.6,99.56 180.14,100.07 180.68,100.54 181.22,100.96 181.76,101.34 182.3,101.72 182.84,102.11 183.37,102.58 183.91,103.14 184.45,103.82 184.99,104.61 185.53,105.46 186.07,106.34 186.61,107.2 187.15,108.04 187.69,108.82 188.23,109.54 188.77,110.17 189.31,110.68 189.85,111.05 190.39,111.31 190.93,111.48 191.47,111.63 192.01,111.81 192.55,112.04 193.09,112.34 193.63,112.69 194.17,113.05 194.7,113.4 195.24,113.7 195.78,113.93 196.32,114.06 196.86,114.1 197.4,114.08 197.94,114.03 198.48,113.99 199.02,113.99 199.56,114.03 200.1,114.12 200.64,114.23 201.18,114.36 201.72,114.51 202.26,114.68 202.8,114.89 203.34,115.12 203.88,115.38 204.42,115.66 204.96,115.95 205.5,116.25 206.03,116.55 206.57,116.84 207.11,117.1 207.65,117.31 208.19,117.44 208.73,117.49 209.27,117.47 209.81,117.43 210.35,117.43 210.89,117.55 211.43,117.86 211.97,118.33 212.51,118.92 213.05,119.55 213.59,120.14 214.13,120.62 214.67,121 215.21,121.26 215.75,121.42 216.29,121.53 216.83,121.6 217.37,121.67 217.9,121.73 218.44,121.78 218.98,121.82 219.52,121.82 220.06,121.81 220.6,121.82 221.14,121.89 221.68,122.08 222.22,122.37 222.76,122.75 223.3,123.14 223.84,123.49 224.38,123.76 224.92,123.91 225.46,123.96 226,123.94 226.54,123.92 227.08,123.91 227.62,123.96 228.16,124.07 228.7,124.21 229.23,124.33 229.77,124.37 230.31,124.29 230.85,124.07 231.39,123.76 231.93,123.43 232.47,123.17 233.01,123.02 233.55,122.98 234.09,122.99 234.63,123.02" fill="none" stroke="#dd8452" stroke-width="1.6" stroke-dasharray="1.5 2.33"/>
<clipPath id="c2"><rect x="275.72" y="14.25" width="87.75" height="117.7"/></clipPath>
<rect x="275.72" y="14.25" width="87.75" height="117.7" fill="#eaeaf2"/>
<path d="M279.4 14.25V131.95M333.35 14.25V131.95M275.72 14.4H363.47M275.72 43.4H363.47M275.72 72.4H363.47M275.72 101.4H363.47M275.72 130.4H363.47" stroke="#fff" stroke-width="0.6" fill="none" clip-path="url(#c2)"/>
<polyline points="279.4,19.62 279.94,22.44 280.48,27.12 281.02,34.99 281.56,43.14 282.1,52.38 282.64,60.16 283.18,67.64 283.72,73.32 284.26,78.62 284.8,83.5 285.33,84.98 285.87,87.5 286.41,88.8 286.95,92.12 287.49,94.26 288.03,95.95 288.57,98.18 289.11,97.16 289.65,100.06 290.19,101.16 290.73,101.33 291.27,100.94 291.81,103.08 292.35,105.24 292.89,106.08 293.43,106.22 293.97,108.31 294.51,110.04 295.05,110.36 295.59,110.17 296.13,109.67 296.66,112.96 297.2,112.82 297.74,113.29 298.28,114.91 298.82,113.75 299.36,113.95 299.9,112.22 300.44,113.52 300.98,115.15 301.52,113.61 302.06,114.92 302.6,116.52 303.14,116.05 303.68,116.46 304.22,117.01 304.76,116.67 305.3,118.59 305.84,117.54 306.38,117.01 306.92,117.45 307.46,117.61 308,117.91 308.53,117.99 309.07,119.69 309.61,118.87 310.15,120.45 310.69,119.99 311.23,120.74 311.77,119.55 312.31,119.57 312.85,120.36 313.39,119.63 313.93,120.79 314.47,120.54 315.01,120.64 315.55,121.25 316.09,120.71 316.63,120.17 317.17,121.51 317.71,120.8 318.25,121.33 318.79,120.63 319.33,121.26 319.86,121.28 320.4,121.4 320.94,121.66 321.48,122.43 322.02,121.4 322.56,122.61 323.1,122.07 323.64,122.02 324.18,122.69 324.72,122.4 325.26,122.09 325.8,122.66 326.34,123.09 326.88,123.97 327.42,123.31 327.96,123.25 328.5,123.31 329.04,123.57 329.58,123.15 330.12,123.6 330.66,123.51 331.19,123.29 331.73,123.95 332.27,123.82 332.81,122.99 333.35,123.54 333.89,124.42 334.43,124.04 334.97,123.88 335.51,123.71 336.05,124.18 336.59,124.49 337.13,124.63 337.67,124.21 338.21,124.39 338.75,124.75 339.29,124.7 339.83,124.84 340.37,124.51 340.91,125.06 341.45,124.72 341.99,124.65 342.53,124.84 343.06,125.35 343.6,124.67 344.14,125.4 344.68,125.09 345.22,125.54 345.76,125.92 346.3,125.32 346.84,125.35 347.38,125.52 347.92,125.46 348.46,125.8 349,125.88 349.54,125.75 350.08,125.13 350.62,125.53 351.16,126 351.7,125.7 352.24,126.07 352.78,126.11 353.32,125.75 353.86,126.22 354.39,126.61 354.93,126.41 355.47,126.15 356.01,126.18 356.55,125.89 357.09,126.51 357.63,126.12 358.17,126.24 358.71,126.45 359.25,126.2 359.79,126.33" fill="none" stroke="#4c72b0" stroke-width="1.5" stroke-linejoin="round"/>
<path d="M277.4 19.62a2.0 2.0 0 1 0 4.0 0a2.0 2.0 0 1 0 -4.0 0zM277.94 22.44a2.0 2.0 0 1 0 4.0 0a2.0 2.0 0 1 0 -4.0 0zM278.48 27.12a2.0 2.0 0 1 0 4.0 0a2.0 2.0 0 1 0 -4.0 0zM279.02 34.99a2.0 2.0 0 1 0 4.0 0a2.0 2.0 0 1 0 -4.0 0zM279.56 43.14a2.0 2.0 0 1 0 4.0 0a2.0 2.0 0 1 0 -4.0 0zM280.1 52.38a2.0 2.0 0 1 0 4.0 0a2.0 2.0 0 1 0 -4.0 0zM280.64 60.16a2.0 2.0 0 1 0 4.0 0a2.0 2.0 0 1 0 -4.0 0zM281.18 67.64a2.0 2.0 0 1 0 4.0 0a2.0 2.0 0 1 0 -4.0 0zM281.72 73.32a2.0 2.0 0 1 0 4.0 0a2.0 2.0 0 1 0 -4.0 0zM282.26 78.62a2.0 2.0 0 1 0 4.0 0a2.0 2.0 0 1 0 -4.0 0zM282.8 83.5a2.0 2.0 0 1 0 4.0 0a2.0 2.0 0 1 0 -4.0 0zM283.33 84.98a2.0 2.0 0 1 0 4.0 0a2.0 2.0 0 1 0 -4.0 0zM283.87 87.5a2.0 2.0 0 1 0 4.0 0a2.0 2.0 0 1 0 -4.0 0zM284.41 88.8a2.0 2.0 0 1 0 4.0 0a2.0 2.0 0 1 0 -4.0 0zM284.95 92.12a2.0 2.0 0 1 0 4.0 0a2.0 2.0 0 1 0 -4.0 0zM285.49 94.26a2.0 2.0 0 1 0 4.0 0a2.0 2.0 0 1 0 -4.0 0zM286.03 95.95a2.0 2.0 0 1 0 4.0 0a2.0 2.0 0 1 0 -4.0 0zM286.57 98.18a2.0 2.0 0 1 0 4.0 0a2.0 2.0 0 1 0 -4.0 0zM287.11 97.16a2.0 2.0 0 1 0 4.0 0a2.0 2.0 0 1 0 -4.0 0zM287.65 100.06a2.0 2.0 0 1 0 4.0 0a2.0 2.0 0 1 0 -4.0 0zM288.19 101.16a2.0 2.0 0 1 0 4.0 0a2.0 2.0 0 1 0 -4.0 0zM288.73 101.33a2.0 2.0 0 1 0 4.0 0a2.0 2.0 0 1 0 -4.0 0zM289.27 100.94a2.0 2.0 0 1 0 4.0 0a2.0 2.0 0 1 0 -4.0 0zM289.81 103.08a2.0 2.0 0 1 0 4.0 0a2.0 2.0 0 1 0 -4.0 0zM290.35 105.24a2.0 2.0 0 1 0 4.0 0a2.0 2.0 0 1 0 -4.0 0zM290.89 106.08a2.0 2.0 0 1 0 4.0 0a2.0 2.0 0 1 0 -4.0 0zM291.43 106.22a2.0 2.0 0 1 0 4.0 0a2.0 2.0 0 1 0 -4.0 0zM291.97 108.31a2.0 2.0 0 1 0 4.0 0a2.0 2.0 0 1 0 -4.0 0zM292.51 110.04a2.0 2.0 0 1 0 4.0 0a2.0 2.0 0 1 0 -4.0 0zM293.05 110.36a2.0 2.0 0 1 0 4.0 0a2.0 2.0 0 1 0 -4.0 0zM293.59 110.17a2.0 2.0 0 1 0 4.0 0a2.0 2.0 0 1 0 -4.0 0zM294.13 109.67a2.0 2.0 0 1 0 4.0 0a2.0 2.0 0 1 0 -4.0 0zM294.66 112.96a2.0 2.0 0 1 0 4.0 0a2.0 2.0 0 1 0 -4.0 0zM295.2 112.82a2.0 2.0 0 1 0 4.0 0a2.0 2.0 0 1 0 -4.0 0zM295.74 113.29a2.0 2.0 0 1 0 4.0 0a2.0 2.0 0 1 0 -4.0 0zM296.28 114.91a2.0 2.0 0 1 0 4.0 0a2.0 2.0 0 1 0 -4.0 0zM296.82 113.75a2.0 2.0 0 1 0 4.0 0a2.0 2.0 0 1 0 -4.0 0zM297.36 113.95a2.0 2.0 0 1 0 4.0 0a2.0 2.0 0 1 0 -4.0 0zM297.9 112.22a2.0 2.0 0 1 0 4.0 0a2.0 2.0 0 1 0 -4.0 0zM298.44 113.52a2.0 2.0 0 1 0 4.0 0a2.0 2.0 0 1 0 -4.0 0zM298.98 115.15a2.0 2.0 0 1 0 4.0 0a2.0 2.0 0 1 0 -4.0 0zM299.52 113.61a2.0 2.0 0 1 0 4.0 0a2.0 2.0 0 1 0 -4.0 0zM300.06 114.92a2.0 2.0 0 1 0 4.0 0a2.0 2.0 0 1 0 -4.0 0zM300.6 116.52a2.0 2.0 0 1 0 4.0 0a2.0 2.0 0 1 0 -4.0 0zM301.14 116.05a2.0 2.0 0 1 0 4.0 0a2.0 2.0 0 1 0 -4.0 0zM301.68 116.46a2.0 2.0 0 1 0 4.0 0a2.0 2.0 0 1 0 -4.0 0zM302.22 117.01a2.0 2.0 0 1 0 4.0 0a2.0 2.0 0 1 0 -4.0 0zM302.76 116.67a2.0 2.0 0 1 0 4.0 0a2.0 2.0 0 1 0 -4.0 0zM303.3 118.59a2.0 2.0 0 1 0 4.0 0a2.0 2.0 0 1 0 -4.0 0zM303.84 117.54a2.0 2.0 0 1 0 4.0 0a2.0 2.0 0 1 0 -4.0 0zM304.38 117.01a2.0 2.0 0 1 0 4.0 0a2.0 2.0 0 1 0 -4.0 0zM304.92 117.45a2.0 2.0 0 1 0 4.0 0a2.0 2.0 0 1 0 -4.0 0zM305.46 117.61a2.0 2.0 0 1 0 4.0 0a2.0 2.0 0 1 0 -4.0 0zM306 117.91a2.0 2.0 0 1 0 4.0 0a2.0 2.0 0 1 0 -4.0 0zM306.53 117.99a2.0 2.0 0 1 0 4.0 0a2.0 2.0 0 1 0 -4.0 0zM307.07 119.69a2.0 2.0 0 1 0 4.0 0a2.0 2.0 0 1 0 -4.0 0zM307.61 118.87a2.0 2.0 0 1 0 4.0 0a2.0 2.0 0 1 0 -4.0 0zM308.15 120.45a2.0 2.0 0 1 0 4.0 0a2.0 2.0 0 1 0 -4.0 0zM308.69 119.99a2.0 2.0 0 1 0 4.0 0a2.0 2.0 0 1 0 -4.0 0zM309.23 120.74a2.0 2.0 0 1 0 4.0 0a2.0 2.0 0 1 0 -4.0 0zM309.77 119.55a2.0 2.0 0 1 0 4.0 0a2.0 2.0 0 1 0 -4.0 0zM310.31 119.57a2.0 2.0 0 1 0 4.0 0a2.0 2.0 0 1 0 -4.0 0zM310.85 120.36a2.0 2.0 0 1 0 4.0 0a2.0 2.0 0 1 0 -4.0 0zM311.39 119.63a2.0 2.0 0 1 0 4.0 0a2.0 2.0 0 1 0 -4.0 0zM311.93 120.79a2.0 2.0 0 1 0 4.0 0a2.0 2.0 0 1 0 -4.0 0zM312.47 120.54a2.0 2.0 0 1 0 4.0 0a2.0 2.0 0 1 0 -4.0 0zM313.01 120.64a2.0 2.0 0 1 0 4.0 0a2.0 2.0 0 1 0 -4.0 0zM313.55 121.25a2.0 2.0 0 1 0 4.0 0a2.0 2.0 0 1 0 -4.0 0zM314.09 120.71a2.0 2.0 0 1 0 4.0 0a2.0 2.0 0 1 0 -4.0 0zM314.63 120.17a2.0 2.0 0 1 0 4.0 0a2.0 2.0 0 1 0 -4.0 0zM315.17 121.51a2.0 2.0 0 1 0 4.0 0a2.0 2.0 0 1 0 -4.0 0zM315.71 120.8a2.0 2.0 0 1 0 4.0 0a2.0 2.0 0 1 0 -4.0 0zM316.25 121.33a2.0 2.0 0 1 0 4.0 0a2.0 2.0 0 1 0 -4.0 0zM316.79 120.63a2.0 2.0 0 1 0 4.0 0a2.0 2.0 0 1 0 -4.0 0zM317.33 121.26a2.0 2.0 0 1 0 4.0 0a2.0 2.0 0 1 0 -4.0 0zM317.86 121.28a2.0 2.0 0 1 0 4.0 0a2.0 2.0 0 1 0 -4.0 0zM318.4 121.4a2.0 2.0 0 1 0 4.0 0a2.0 2.0 0 1 0 -4.0 0zM318.94 121.66a2.0 2.0 0 1 0 4.0 0a2.0 2.0 0 1 0 -4.0 0zM319.48 122.43a2.0 2.0 0 1 0 4.0 0a2.0 2.0 0 1 0 -4.0 0zM320.02 121.4a2.0 2.0 0 1 0 4.0 0a2.0 2.0 0 1 0 -4.0 0zM320.56 122.61a2.0 2.0 0 1 0 4.0 0a2.0 2.0 0 1 0 -4.0 0zM321.1 122.07a2.0 2.0 0 1 0 4.0 0a2.0 2.0 0 1 0 -4.0 0zM321.64 122.02a2.0 2.0 0 1 0 4.0 0a2.0 2.0 0 1 0 -4.0 0zM322.18 122.69a2.0 2.0 0 1 0 4.0 0a2.0 2.0 0 1 0 -4.0 0zM322.72 122.4a2.0 2.0 0 1 0 4.0 0a2.0 2.0 0 1 0 -4.0 0zM323.26 122.09a2.0 2.0 0 1 0 4.0 0a2.0 2.0 0 1 0 -4.0 0zM323.8 122.66a2.0 2.0 0 1 0 4.0 0a2.0 2.0 0 1 0 -4.0 0zM324.34 123.09a2.0 2.0 0 1 0 4.0 0a2.0 2.0 0 1 0 -4.0 0zM324.88 123.97a2.0 2.0 0 1 0 4.0 0a2.0 2.0 0 1 0 -4.0 0zM325.42 123.31a2.0 2.0 0 1 0 4.0 0a2.0 2.0 0 1 0 -4.0 0zM325.96 123.25a2.0 2.0 0 1 0 4.0 0a2.0 2.0 0 1 0 -4.0 0zM326.5 123.31a2.0 2.0 0 1 0 4.0 0a2.0 2.0 0 1 0 -4.0 0zM327.04 123.57a2.0 2.0 0 1 0 4.0 0a2.0 2.0 0 1 0 -4.0 0zM327.58 123.15a2.0 2.0 0 1 0 4.0 0a2.0 2.0 0 1 0 -4.0 0zM328.12 123.6a2.0 2.0 0 1 0 4.0 0a2.0 2.0 0 1 0 -4.0 0zM328.66 123.51a2.0 2.0 0 1 0 4.0 0a2.0 2.0 0 1 0 -4.0 0zM329.19 123.29a2.0 2.0 0 1 0 4.0 0a2.0 2.0 0 1 0 -4.0 0zM329.73 123.95a2.0 2.0 0 1 0 4.0 0a2.0 2.0 0 1 0 -4.0 0zM330.27 123.82a2.0 2.0 0 1 0 4.0 0a2.0 2.0 0 1 0 -4.0 0zM330.81 122.99a2.0 2.0 0 1 0 4.0 0a2.0 2.0 0 1 0 -4.0 0zM331.35 123.54a2.0 2.0 0 1 0 4.0 0a2.0 2.0 0 1 0 -4.0 0zM331.89 124.42a2.0 2.0 0 1 0 4.0 0a2.0 2.0 0 1 0 -4.0 0zM332.43 124.04a2.0 2.0 0 1 0 4.0 0a2.0 2.0 0 1 0 -4.0 0zM332.97 123.88a2.0 2.0 0 1 0 4.0 0a2.0 2.0 0 1 0 -4.0 0zM333.51 123.71a2.0 2.0 0 1 0 4.0 0a2.0 2.0 0 1 0 -4.0 0zM334.05 124.18a2.0 2.0 0 1 0 4.0 0a2.0 2.0 0 1 0 -4.0 0zM334.59 124.49a2.0 2.0 0 1 0 4.0 0a2.0 2.0 0 1 0 -4.0 0zM335.13 124.63a2.0 2.0 0 1 0 4.0 0a2.0 2.0 0 1 0 -4.0 0zM335.67 124.21a2.0 2.0 0 1 0 4.0 0a2.0 2.0 0 1 0 -4.0 0zM336.21 124.39a2.0 2.0 0 1 0 4.0 0a2.0 2.0 0 1 0 -4.0 0zM336.75 124.75a2.0 2.0 0 1 0 4.0 0a2.0 2.0 0 1 0 -4.0 0zM337.29 124.7a2.0 2.0 0 1 0 4.0 0a2.0 2.0 0 1 0 -4.0 0zM337.83 124.84a2.0 2.0 0 1 0 4.0 0a2.0 2.0 0 1 0 -4.0 0zM338.37 124.51a2.0 2.0 0 1 0 4.0 0a2.0 2.0 0 1 0 -4.0 0zM338.91 125.06a2.0 2.0 0 1 0 4.0 0a2.0 2.0 0 1 0 -4.0 0zM339.45 124.72a2.0 2.0 0 1 0 4.0 0a2.0 2.0 0 1 0 -4.0 0zM339.99 124.65a2.0 2.0 0 1 0 4.0 0a2.0 2.0 0 1 0 -4.0 0zM340.53 124.84a2.0 2.0 0 1 0 4.0 0a2.0 2.0 0 1 0 -4.0 0zM341.06 125.35a2.0 2.0 0 1 0 4.0 0a2.0 2.0 0 1 0 -4.0 0zM341.6 124.67a2.0 2.0 0 1 0 4.0 0a2.0 2.0 0 1 0 -4.0 0zM342.14 125.4a2.0 2.0 0 1 0 4.0 0a2.0 2.0 0 1 0 -4.0 0zM342.68 125.09a2.0 2.0 0 1 0 4.0 0a2.0 2.0 0 1 0 -4.0 0zM343.22 125.54a2.0 2.0 0 1 0 4.0 0a2.0 2.0 0 1 0 -4.0 0zM343.76 125.92a2.0 2.0 0 1 0 4.0 0a2.0 2.0 0 1 0 -4.0 0zM344.3 125.32a2.0 2.0 0 1 0 4.0 0a2.0 2.0 0 1 0 -4.0 0zM344.84 125.35a2.0 2.0 0 1 0 4.0 0a2.0 2.0 0 1 0 -4.0 0zM345.38 125.52a2.0 2.0 0 1 0 4.0 0a2.0 2.0 0 1 0 -4.0 0zM345.92 125.46a2.0 2.0 0 1 0 4.0 0a2.0 2.0 0 1 0 -4.0 0zM346.46 125.8a2.0 2.0 0 1 0 4.0 0a2.0 2.0 0 1 0 -4.0 0zM347 125.88a2.0 2.0 0 1 0 4.0 0a2.0 2.0 0 1 0 -4.0 0zM347.54 125.75a2.0 2.0 0 1 0 4.0 0a2.0 2.0 0 1 0 -4.0 0zM348.08 125.13a2.0 2.0 0 1 0 4.0 0a2.0 2.0 0 1 0 -4.0 0zM348.62 125.53a2.0 2.0 0 1 0 4.0 0a2.0 2.0 0 1 0 -4.0 0zM349.16 126a2.0 2.0 0 1 0 4.0 0a2.0 2.0 0 1 0 -4.0 0zM349.7 125.7a2.0 2.0 0 1 0 4.0 0a2.0 2.0 0 1 0 -4.0 0zM350.24 126.07a2.0 2.0 0 1 0 4.0 0a2.0 2.0 0 1 0 -4.0 0zM350.78 126.11a2.0 2.0 0 1 0 4.0 0a2.0 2.0 0 1 0 -4.0 0zM351.32 125.75a2.0 2.0 0 1 0 4.0 0a2.0 2.0 0 1 0 -4.0 0zM351.86 126.22a2.0 2.0 0 1 0 4.0 0a2.0 2.0 0 1 0 -4.0 0zM352.39 126.61a2.0 2.0 0 1 0 4.0 0a2.0 2.0 0 1 0 -4.0 0zM352.93 126.41a2.0 2.0 0 1 0 4.0 0a2.0 2.0 0 1 0 -4.0 0zM353.47 126.15a2.0 2.0 0 1 0 4.0 0a2.0 2.0 0 1 0 -4.0 0zM354.01 126.18a2.0 2.0 0 1 0 4.0 0a2.0 2.0 0 1 0 -4.0 0zM354.55 125.89a2.0 2.0 0 1 0 4.0 0a2.0 2.0 0 1 0 -4.0 0zM355.09 126.51a2.0 2.0 0 1 0 4.0 0a2.0 2.0 0 1 0 -4.0 0zM355.63 126.12a2.0 2.0 0 1 0 4.0 0a2.0 2.0 0 1 0 -4.0 0zM356.17 126.24a2.0 2.0 0 1 0 4.0 0a2.0 2.0 0 1 0 -4.0 0zM356.71 126.45a2.0 2.0 0 1 0 4.0 0a2.0 2.0 0 1 0 -4.0 0zM357.25 126.2a2.0 2.0 0 1 0 4.0 0a2.0 2.0 0 1 0 -4.0 0zM357.79 126.33a2.0 2.0 0 1 0 4.0 0a2.0 2.0 0 1 0 -4.0 0z" fill="#4c72b0"/>
<polyline points="279.4,29.65 279.94,31.43 280.48,34.84 281.02,39.58 281.56,45.28 282.1,51.51 282.64,57.86 283.18,63.99 283.72,69.64 284.26,74.67 284.8,79.02 285.33,82.74 285.87,85.9 286.41,88.61 286.95,90.95 287.49,93.01 288.03,94.81 288.57,96.4 289.11,97.81 289.65,99.07 290.19,100.23 290.73,101.33 291.27,102.41 291.81,103.5 292.35,104.59 292.89,105.69 293.43,106.75 293.97,107.76 294.51,108.7 295.05,109.57 295.59,110.36 296.13,111.09 296.66,111.74 297.2,112.32 297.74,112.79 298.28,113.17 298.82,113.45 299.36,113.67 299.9,113.89 300.44,114.13 300.98,114.43 301.52,114.78 302.06,115.17 302.6,115.59 303.14,115.99 303.68,116.36 304.22,116.69 304.76,116.97 305.3,117.2 305.84,117.4 306.38,117.58 306.92,117.77 307.46,118 308,118.27 308.53,118.58 309.07,118.9 309.61,119.21 310.15,119.48 310.69,119.69 311.23,119.85 311.77,119.97 312.31,120.07 312.85,120.16 313.39,120.27 313.93,120.38 314.47,120.5 315.01,120.6 315.55,120.7 316.09,120.78 316.63,120.85 317.17,120.92 317.71,120.99 318.25,121.07 318.79,121.16 319.33,121.27 319.86,121.39 320.4,121.53 320.94,121.67 321.48,121.81 322.02,121.94 322.56,122.06 323.1,122.17 323.64,122.28 324.18,122.4 324.72,122.53 325.26,122.67 325.8,122.82 326.34,122.97 326.88,123.1 327.42,123.21 327.96,123.29 328.5,123.35 329.04,123.4 329.58,123.43 330.12,123.47 330.66,123.51 331.19,123.55 331.73,123.59 332.27,123.64 332.81,123.7 333.35,123.77 333.89,123.85 334.43,123.92 334.97,124.01 335.51,124.09 336.05,124.18 336.59,124.27 337.13,124.35 337.67,124.43 338.21,124.51 338.75,124.58 339.29,124.64 339.83,124.69 340.37,124.74 340.91,124.78 341.45,124.83 341.99,124.89 342.53,124.95 343.06,125.03 343.6,125.11 344.14,125.19 344.68,125.28 345.22,125.35 345.76,125.41 346.3,125.46 346.84,125.51 347.38,125.54 347.92,125.57 348.46,125.6 349,125.62 349.54,125.65 350.08,125.68 350.62,125.73 351.16,125.79 351.7,125.85 352.24,125.93 352.78,126 353.32,126.07 353.86,126.13 354.39,126.18 354.93,126.21 355.47,126.22 356.01,126.23 356.55,126.23 357.09,126.24 357.63,126.25 358.17,126.26 358.71,126.27 359.25,126.28 359.79,126.29" fill="none" stroke="#dd8452" stroke-width="1.6" stroke-dasharray="1.5 2.33"/>
<clipPath id="c3"><rect x="400.88" y="14.25" width="87.75" height="117.7"/></clipPath>
<rect x="400.88" y="14.25" width="87.75" height="117.7" fill="#eaeaf2"/>
<path d="M404.56 14.25V131.95M458.51 14.25V131.95M400.88 14.3H488.63M400.88 36.8H488.63M400.88 59.3H488.63M400.88 81.8H488.63M400.88 104.3H488.63M400.88 126.8H488.63" stroke="#fff" stroke-width="0.6" fill="none" clip-path="url(#c3)"/>
<polyline points="404.56,126.8 405.1,126.69 405.64,126.58 406.18,126.35 406.72,125.9 407.26,125.76 407.8,124.76 408.34,118.77 408.88,116.2 409.42,122.85 409.96,108.87 410.49,64.14 411.03,102.76 411.57,100.2 412.11,114.39 412.65,98.22 413.19,123.88 413.73,49.74 414.27,76.47 414.81,82.18 415.35,111.5 415.89,89.58 416.43,93.42 416.97,35.11 417.51,84.49 418.05,78.15 418.59,96.42 419.13,80.86 419.67,60.16 420.21,77.62 420.75,69.09 421.29,56.49 421.82,60.97 422.36,83.49 422.9,74.69 423.44,66.26 423.98,71.73 424.52,68.3 425.06,18.8 425.6,70.55 426.14,81.24 426.68,66.26 427.22,73.89 427.76,53.45 428.3,64.58 428.84,59.57 429.38,66.86 429.92,58.3 430.46,66.49 431,59.91 431.54,59.47 432.08,73.94 432.62,53.22 433.16,61.32 433.69,65.42 434.23,59.62 434.77,68.98 435.31,57.53 435.85,57.55 436.39,58 436.93,44.65 437.47,91.7 438.01,39.72 438.55,60.61 439.09,55.37 439.63,62.93 440.17,52.06 440.71,62.91 441.25,58.69 441.79,43.1 442.33,50.61 442.87,53.12 443.41,72.91 443.95,52.47 444.49,49.04 445.02,53.99 445.56,45.8 446.1,52.47 446.64,48.55 447.18,52.04 447.72,53 448.26,48.58 448.8,55.96 449.34,48.08 449.88,50.93 450.42,41.01 450.96,50.81 451.5,56.15 452.04,46.27 452.58,51.49 453.12,41.52 453.66,49.94 454.2,49.34 454.74,51.23 455.28,44.78 455.82,46.31 456.35,50.71 456.89,49.5 457.43,42.65 457.97,48.18 458.51,46.31 459.05,46.51 459.59,46.19 460.13,48.67 460.67,41.1 461.21,47.37 461.75,45.74 462.29,46.95 462.83,45.01 463.37,46.3 463.91,38.93 464.45,43.08 464.99,51.79 465.53,39.84 466.07,50.56 466.61,40.87 467.15,38.61 467.69,45.99 468.22,41.31 468.76,54.8 469.3,42.67 469.84,38.78 470.38,37.7 470.92,51.01 471.46,43.17 472,44.2 472.54,43.7 473.08,42.18 473.62,48.72 474.16,36.46 474.7,39.37 475.24,44.07 475.78,51.99 476.32,46.55 476.86,37.78 477.4,42.07 477.94,41.39 478.48,38.17 479.02,42.78 479.55,51.99 480.09,41.03 480.63,41.91 481.17,39.32 481.71,42.96 482.25,40.94 482.79,44.97 483.33,45.47 483.87,38.49 484.41,39.05 484.95,42.9" fill="none" stroke="#4c72b0" stroke-width="1.5" stroke-linejoin="round"/>
<path d="M402.56 126.8a2.0 2.0 0 1 0 4.0 0a2.0 2.0 0 1 0 -4.0 0zM403.1 126.69a2.0 2.0 0 1 0 4.0 0a2.0 2.0 0 1 0 -4.0 0zM403.64 126.58a2.0 2.0 0 1 0 4.0 0a2.0 2.0 0 1 0 -4.0 0zM404.18 126.35a2.0 2.0 0 1 0 4.0 0a2.0 2.0 0 1 0 -4.0 0zM404.72 125.9a2.0 2.0 0 1 0 4.0 0a2.0 2.0 0 1 0 -4.0 0zM405.26 125.76a2.0 2.0 0 1 0 4.0 0a2.0 2.0 0 1 0 -4.0 0zM405.8 124.76a2.0 2.0 0 1 0 4.0 0a2.0 2.0 0 1 0 -4.0 0zM406.34 118.77a2.0 2.0 0 1 0 4.0 0a2.0 2.0 0 1 0 -4.0 0zM406.88 116.2a2.0 2.0 0 1 0 4.0 0a2.0 2.0 0 1 0 -4.0 0zM407.42 122.85a2.0 2.0 0 1 0 4.0 0a2.0 2.0 0 1 0 -4.0 0zM407.96 108.87a2.0 2.0 0 1 0 4.0 0a2.0 2.0 0 1 0 -4.0 0zM408.49 64.14a2.0 2.0 0 1 0 4.0 0a2.0 2.0 0 1 0 -4.0 0zM409.03 102.76a2.0 2.0 0 1 0 4.0 0a2.0 2.0 0 1 0 -4.0 0zM409.57 100.2a2.0 2.0 0 1 0 4.0 0a2.0 2.0 0 1 0 -4.0 0zM410.11 114.39a2.0 2.0 0 1 0 4.0 0a2.0 2.0 0 1 0 -4.0 0zM410.65 98.22a2.0 2.0 0 1 0 4.0 0a2.0 2.0 0 1 0 -4.0 0zM411.19 123.88a2.0 2.0 0 1 0 4.0 0a2.0 2.0 0 1 0 -4.0 0zM411.73 49.74a2.0 2.0 0 1 0 4.0 0a2.0 2.0 0 1 0 -4.0 0zM412.27 76.47a2.0 2.0 0 1 0 4.0 0a2.0 2.0 0 1 0 -4.0 0zM412.81 82.18a2.0 2.0 0 1 0 4.0 0a2.0 2.0 0 1 0 -4.0 0zM413.35 111.5a2.0 2.0 0 1 0 4.0 0a2.0 2.0 0 1 0 -4.0 0zM413.89 89.58a2.0 2.0 0 1 0 4.0 0a2.0 2.0 0 1 0 -4.0 0zM414.43 93.42a2.0 2.0 0 1 0 4.0 0a2.0 2.0 0 1 0 -4.0 0zM414.97 35.11a2.0 2.0 0 1 0 4.0 0a2.0 2.0 0 1 0 -4.0 0zM415.51 84.49a2.0 2.0 0 1 0 4.0 0a2.0 2.0 0 1 0 -4.0 0zM416.05 78.15a2.0 2.0 0 1 0 4.0 0a2.0 2.0 0 1 0 -4.0 0zM416.59 96.42a2.0 2.0 0 1 0 4.0 0a2.0 2.0 0 1 0 -4.0 0zM417.13 80.86a2.0 2.0 0 1 0 4.0 0a2.0 2.0 0 1 0 -4.0 0zM417.67 60.16a2.0 2.0 0 1 0 4.0 0a2.0 2.0 0 1 0 -4.0 0zM418.21 77.62a2.0 2.0 0 1 0 4.0 0a2.0 2.0 0 1 0 -4.0 0zM418.75 69.09a2.0 2.0 0 1 0 4.0 0a2.0 2.0 0 1 0 -4.0 0zM419.29 56.49a2.0 2.0 0 1 0 4.0 0a2.0 2.0 0 1 0 -4.0 0zM419.82 60.97a2.0 2.0 0 1 0 4.0 0a2.0 2.0 0 1 0 -4.0 0zM420.36 83.49a2.0 2.0 0 1 0 4.0 0a2.0 2.0 0 1 0 -4.0 0zM420.9 74.69a2.0 2.0 0 1 0 4.0 0a2.0 2.0 0 1 0 -4.0 0zM421.44 66.26a2.0 2.0 0 1 0 4.0 0a2.0 2.0 0 1 0 -4.0 0zM421.98 71.73a2.0 2.0 0 1 0 4.0 0a2.0 2.0 0 1 0 -4.0 0zM422.52 68.3a2.0 2.0 0 1 0 4.0 0a2.0 2.0 0 1 0 -4.0 0zM423.06 18.8a2.0 2.0 0 1 0 4.0 0a2.0 2.0 0 1 0 -4.0 0zM423.6 70.55a2.0 2.0 0 1 0 4.0 0a2.0 2.0 0 1 0 -4.0 0zM424.14 81.24a2.0 2.0 0 1 0 4.0 0a2.0 2.0 0 1 0 -4.0 0zM424.68 66.26a2.0 2.0 0 1 0 4.0 0a2.0 2.0 0 1 0 -4.0 0zM425.22 73.89a2.0 2.0 0 1 0 4.0 0a2.0 2.0 0 1 0 -4.0 0zM425.76 53.45a2.0 2.0 0 1 0 4.0 0a2.0 2.0 0 1 0 -4.0 0zM426.3 64.58a2.0 2.0 0 1 0 4.0 0a2.0 2.0 0 1 0 -4.0 0zM426.84 59.57a2.0 2.0 0 1 0 4.0 0a2.0 2.0 0 1 0 -4.0 0zM427.38 66.86a2.0 2.0 0 1 0 4.0 0a2.0 2.0 0 1 0 -4.0 0zM427.92 58.3a2.0 2.0 0 1 0 4.0 0a2.0 2.0 0 1 0 -4.0 0zM428.46 66.49a2.0 2.0 0 1 0 4.0 0a2.0 2.0 0 1 0 -4.0 0zM429 59.91a2.0 2.0 0 1 0 4.0 0a2.0 2.0 0 1 0 -4.0 0zM429.54 59.47a2.0 2.0 0 1 0 4.0 0a2.0 2.0 0 1 0 -4.0 0zM430.08 73.94a2.0 2.0 0 1 0 4.0 0a2.0 2.0 0 1 0 -4.0 0zM430.62 53.22a2.0 2.0 0 1 0 4.0 0a2.0 2.0 0 1 0 -4.0 0zM431.16 61.32a2.0 2.0 0 1 0 4.0 0a2.0 2.0 0 1 0 -4.0 0zM431.69 65.42a2.0 2.0 0 1 0 4.0 0a2.0 2.0 0 1 0 -4.0 0zM432.23 59.62a2.0 2.0 0 1 0 4.0 0a2.0 2.0 0 1 0 -4.0 0zM432.77 68.98a2.0 2.0 0 1 0 4.0 0a2.0 2.0 0 1 0 -4.0 0zM433.31 57.53a2.0 2.0 0 1 0 4.0 0a2.0 2.0 0 1 0 -4.0 0zM433.85 57.55a2.0 2.0 0 1 0 4.0 0a2.0 2.0 0 1 0 -4.0 0zM434.39 58a2.0 2.0 0 1 0 4.0 0a2.0 2.0 0 1 0 -4.0 0zM434.93 44.65a2.0 2.0 0 1 0 4.0 0a2.0 2.0 0 1 0 -4.0 0zM435.47 91.7a2.0 2.0 0 1 0 4.0 0a2.0 2.0 0 1 0 -4.0 0zM436.01 39.72a2.0 2.0 0 1 0 4.0 0a2.0 2.0 0 1 0 -4.0 0zM436.55 60.61a2.0 2.0 0 1 0 4.0 0a2.0 2.0 0 1 0 -4.0 0zM437.09 55.37a2.0 2.0 0 1 0 4.0 0a2.0 2.0 0 1 0 -4.0 0zM437.63 62.93a2.0 2.0 0 1 0 4.0 0a2.0 2.0 0 1 0 -4.0 0zM438.17 52.06a2.0 2.0 0 1 0 4.0 0a2.0 2.0 0 1 0 -4.0 0zM438.71 62.91a2.0 2.0 0 1 0 4.0 0a2.0 2.0 0 1 0 -4.0 0zM439.25 58.69a2.0 2.0 0 1 0 4.0 0a2.0 2.0 0 1 0 -4.0 0zM439.79 43.1a2.0 2.0 0 1 0 4.0 0a2.0 2.0 0 1 0 -4.0 0zM440.33 50.61a2.0 2.0 0 1 0 4.0 0a2.0 2.0 0 1 0 -4.0 0zM440.87 53.12a2.0 2.0 0 1 0 4.0 0a2.0 2.0 0 1 0 -4.0 0zM441.41 72.91a2.0 2.0 0 1 0 4.0 0a2.0 2.0 0 1 0 -4.0 0zM441.95 52.47a2.0 2.0 0 1 0 4.0 0a2.0 2.0 0 1 0 -4.0 0zM442.49 49.04a2.0 2.0 0 1 0 4.0 0a2.0 2.0 0 1 0 -4.0 0zM443.02 53.99a2.0 2.0 0 1 0 4.0 0a2.0 2.0 0 1 0 -4.0 0zM443.56 45.8a2.0 2.0 0 1 0 4.0 0a2.0 2.0 0 1 0 -4.0 0zM444.1 52.47a2.0 2.0 0 1 0 4.0 0a2.0 2.0 0 1 0 -4.0 0zM444.64 48.55a2.0 2.0 0 1 0 4.0 0a2.0 2.0 0 1 0 -4.0 0zM445.18 52.04a2.0 2.0 0 1 0 4.0 0a2.0 2.0 0 1 0 -4.0 0zM445.72 53a2.0 2.0 0 1 0 4.0 0a2.0 2.0 0 1 0 -4.0 0zM446.26 48.58a2.0 2.0 0 1 0 4.0 0a2.0 2.0 0 1 0 -4.0 0zM446.8 55.96a2.0 2.0 0 1 0 4.0 0a2.0 2.0 0 1 0 -4.0 0zM447.34 48.08a2.0 2.0 0 1 0 4.0 0a2.0 2.0 0 1 0 -4.0 0zM447.88 50.93a2.0 2.0 0 1 0 4.0 0a2.0 2.0 0 1 0 -4.0 0zM448.42 41.01a2.0 2.0 0 1 0 4.0 0a2.0 2.0 0 1 0 -4.0 0zM448.96 50.81a2.0 2.0 0 1 0 4.0 0a2.0 2.0 0 1 0 -4.0 0zM449.5 56.15a2.0 2.0 0 1 0 4.0 0a2.0 2.0 0 1 0 -4.0 0zM450.04 46.27a2.0 2.0 0 1 0 4.0 0a2.0 2.0 0 1 0 -4.0 0zM450.58 51.49a2.0 2.0 0 1 0 4.0 0a2.0 2.0 0 1 0 -4.0 0zM451.12 41.52a2.0 2.0 0 1 0 4.0 0a2.0 2.0 0 1 0 -4.0 0zM451.66 49.94a2.0 2.0 0 1 0 4.0 0a2.0 2.0 0 1 0 -4.0 0zM452.2 49.34a2.0 2.0 0 1 0 4.0 0a2.0 2.0 0 1 0 -4.0 0zM452.74 51.23a2.0 2.0 0 1 0 4.0 0a2.0 2.0 0 1 0 -4.0 0zM453.28 44.78a2.0 2.0 0 1 0 4.0 0a2.0 2.0 0 1 0 -4.0 0zM453.82 46.31a2.0 2.0 0 1 0 4.0 0a2.0 2.0 0 1 0 -4.0 0zM454.35 50.71a2.0 2.0 0 1 0 4.0 0a2.0 2.0 0 1 0 -4.0 0zM454.89 49.5a2.0 2.0 0 1 0 4.0 0a2.0 2.0 0 1 0 -4.0 0zM455.43 42.65a2.0 2.0 0 1 0 4.0 0a2.0 2.0 0 1 0 -4.0 0zM455.97 48.18a2.0 2.0 0 1 0 4.0 0a2.0 2.0 0 1 0 -4.0 0zM456.51 46.31a2.0 2.0 0 1 0 4.0 0a2.0 2.0 0 1 0 -4.0 0zM457.05 46.51a2.0 2.0 0 1 0 4.0 0a2.0 2.0 0 1 0 -4.0 0zM457.59 46.19a2.0 2.0 0 1 0 4.0 0a2.0 2.0 0 1 0 -4.0 0zM458.13 48.67a2.0 2.0 0 1 0 4.0 0a2.0 2.0 0 1 0 -4.0 0zM458.67 41.1a2.0 2.0 0 1 0 4.0 0a2.0 2.0 0 1 0 -4.0 0zM459.21 47.37a2.0 2.0 0 1 0 4.0 0a2.0 2.0 0 1 0 -4.0 0zM459.75 45.74a2.0 2.0 0 1 0 4.0 0a2.0 2.0 0 1 0 -4.0 0zM460.29 46.95a2.0 2.0 0 1 0 4.0 0a2.0 2.0 0 1 0 -4.0 0zM460.83 45.01a2.0 2.0 0 1 0 4.0 0a2.0 2.0 0 1 0 -4.0 0zM461.37 46.3a2.0 2.0 0 1 0 4.0 0a2.0 2.0 0 1 0 -4.0 0zM461.91 38.93a2.0 2.0 0 1 0 4.0 0a2.0 2.0 0 1 0 -4.0 0zM462.45 43.08a2.0 2.0 0 1 0 4.0 0a2.0 2.0 0 1 0 -4.0 0zM462.99 51.79a2.0 2.0 0 1 0 4.0 0a2.0 2.0 0 1 0 -4.0 0zM463.53 39.84a2.0 2.0 0 1 0 4.0 0a2.0 2.0 0 1 0 -4.0 0zM464.07 50.56a2.0 2.0 0 1 0 4.0 0a2.0 2.0 0 1 0 -4.0 0zM464.61 40.87a2.0 2.0 0 1 0 4.0 0a2.0 2.0 0 1 0 -4.0 0zM465.15 38.61a2.0 2.0 0 1 0 4.0 0a2.0 2.0 0 1 0 -4.0 0zM465.69 45.99a2.0 2.0 0 1 0 4.0 0a2.0 2.0 0 1 0 -4.0 0zM466.22 41.31a2.0 2.0 0 1 0 4.0 0a2.0 2.0 0 1 0 -4.0 0zM466.76 54.8a2.0 2.0 0 1 0 4.0 0a2.0 2.0 0 1 0 -4.0 0zM467.3 42.67a2.0 2.0 0 1 0 4.0 0a2.0 2.0 0 1 0 -4.0 0zM467.84 38.78a2.0 2.0 0 1 0 4.0 0a2.0 2.0 0 1 0 -4.0 0zM468.38 37.7a2.0 2.0 0 1 0 4.0 0a2.0 2.0 0 1 0 -4.0 0zM468.92 51.01a2.0 2.0 0 1 0 4.0 0a2.0 2.0 0 1 0 -4.0 0zM469.46 43.17a2.0 2.0 0 1 0 4.0 0a2.0 2.0 0 1 0 -4.0 0zM470 44.2a2.0 2.0 0 1 0 4.0 0a2.0 2.0 0 1 0 -4.0 0zM470.54 43.7a2.0 2.0 0 1 0 4.0 0a2.0 2.0 0 1 0 -4.0 0zM471.08 42.18a2.0 2.0 0 1 0 4.0 0a2.0 2.0 0 1 0 -4.0 0zM471.62 48.72a2.0 2.0 0 1 0 4.0 0a2.0 2.0 0 1 0 -4.0 0zM472.16 36.46a2.0 2.0 0 1 0 4.0 0a2.0 2.0 0 1 0 -4.0 0zM472.7 39.37a2.0 2.0 0 1 0 4.0 0a2.0 2.0 0 1 0 -4.0 0zM473.24 44.07a2.0 2.0 0 1 0 4.0 0a2.0 2.0 0 1 0 -4.0 0zM473.78 51.99a2.0 2.0 0 1 0 4.0 0a2.0 2.0 0 1 0 -4.0 0zM474.32 46.55a2.0 2.0 0 1 0 4.0 0a2.0 2.0 0 1 0 -4.0 0zM474.86 37.78a2.0 2.0 0 1 0 4.0 0a2.0 2.0 0 1 0 -4.0 0zM475.4 42.07a2.0 2.0 0 1 0 4.0 0a2.0 2.0 0 1 0 -4.0 0zM475.94 41.39a2.0 2.0 0 1 0 4.0 0a2.0 2.0 0 1 0 -4.0 0zM476.48 38.17a2.0 2.0 0 1 0 4.0 0a2.0 2.0 0 1 0 -4.0 0zM477.02 42.78a2.0 2.0 0 1 0 4.0 0a2.0 2.0 0 1 0 -4.0 0zM477.55 51.99a2.0 2.0 0 1 0 4.0 0a2.0 2.0 0 1 0 -4.0 0zM478.09 41.03a2.0 2.0 0 1 0 4.0 0a2.0 2.0 0 1 0 -4.0 0zM478.63 41.91a2.0 2.0 0 1 0 4.0 0a2.0 2.0 0 1 0 -4.0 0zM479.17 39.32a2.0 2.0 0 1 0 4.0 0a2.0 2.0 0 1 0 -4.0 0zM479.71 42.96a2.0 2.0 0 1 0 4.0 0a2.0 2.0 0 1 0 -4.0 0zM480.25 40.94a2.0 2.0 0 1 0 4.0 0a2.0 2.0 0 1 0 -4.0 0zM480.79 44.97a2.0 2.0 0 1 0 4.0 0a2.0 2.0 0 1 0 -4.0 0zM481.33 45.47a2.0 2.0 0 1 0 4.0 0a2.0 2.0 0 1 0 -4.0 0zM481.87 38.49a2.0 2.0 0 1 0 4.0 0a2.0 2.0 0 1 0 -4.0 0zM482.41 39.05a2.0 2.0 0 1 0 4.0 0a2.0 2.0 0 1 0 -4.0 0zM482.95 42.9a2.0 2.0 0 1 0 4.0 0a2.0 2.0 0 1 0 -4.0 0z" fill="#4c72b0"/>
<polyline points="404.56,126.29 405.1,126.11 405.64,125.7 406.18,124.98 406.72,123.86 407.26,122.22 407.8,119.96 408.34,117.08 408.88,113.72 409.42,110.16 409.96,106.76 410.49,103.84 411.03,101.47 411.57,99.48 412.11,97.56 412.65,95.46 413.19,93.16 413.73,90.82 414.27,88.65 414.81,86.71 415.35,84.94 415.89,83.24 416.43,81.59 416.97,80.08 417.51,78.78 418.05,77.64 418.59,76.48 419.13,75.17 419.67,73.69 420.21,72.19 420.75,70.86 421.29,69.84 421.82,69.06 422.36,68.33 422.9,67.46 423.44,66.37 423.98,65.2 424.52,64.23 425.06,63.69 425.6,63.63 426.14,63.87 426.68,64.13 427.22,64.2 427.76,64.02 428.3,63.66 428.84,63.26 429.38,62.94 429.92,62.73 430.46,62.61 431,62.54 431.54,62.48 432.08,62.39 432.62,62.26 433.16,62.08 433.69,61.82 434.23,61.47 434.77,61.04 435.31,60.57 435.85,60.13 436.39,59.74 436.93,59.4 437.47,59.08 438.01,58.73 438.55,58.32 439.09,57.85 439.63,57.32 440.17,56.74 440.71,56.16 441.25,55.65 441.79,55.26 442.33,54.99 442.87,54.75 443.41,54.42 443.95,53.93 444.49,53.28 445.02,52.57 445.56,51.92 446.1,51.44 446.64,51.13 447.18,50.95 447.72,50.8 448.26,50.62 448.8,50.37 449.34,50.06 449.88,49.76 450.42,49.49 450.96,49.27 451.5,49.08 452.04,48.89 452.58,48.7 453.12,48.52 453.66,48.35 454.2,48.22 454.74,48.08 455.28,47.94 455.82,47.76 456.35,47.56 456.89,47.33 457.43,47.09 457.97,46.85 458.51,46.62 459.05,46.41 459.59,46.22 460.13,46.04 460.67,45.86 461.21,45.68 461.75,45.49 462.29,45.28 462.83,45.07 463.37,44.88 463.91,44.73 464.45,44.61 464.99,44.5 465.53,44.39 466.07,44.28 466.61,44.18 467.15,44.12 467.69,44.09 468.22,44.07 468.76,44.03 469.3,43.95 469.84,43.86 470.38,43.79 470.92,43.75 471.46,43.71 472,43.65 472.54,43.56 473.08,43.45 473.62,43.36 474.16,43.34 474.7,43.37 475.24,43.4 475.78,43.37 476.32,43.23 476.86,43.03 477.4,42.83 477.94,42.7 478.48,42.68 479.02,42.71 479.55,42.74 480.09,42.72 480.63,42.63 481.17,42.51 481.71,42.38 482.25,42.25 482.79,42.12 483.33,41.96 483.87,41.79 484.41,41.65 484.95,41.56" fill="none" stroke="#dd8452" stroke-width="1.6" stroke-dasharray="1.5 2.33"/>
<clipPath id="c4"><rect x="526.04" y="14.25" width="87.75" height="117.7"/></clipPath>
<rect x="526.04" y="14.25" width="87.75" height="117.7" fill="#eaeaf2"/>
<path d="M529.72 14.25V131.95M583.67 14.25V131.95M526.04 40.4H613.79M526.04 69.3H613.79M526.04 98.2H613.79M526.04 127.1H613.79" stroke="#fff" stroke-width="0.6" fill="none" clip-path="url(#c4)"/>
<polyline points="529.72,127.1 530.26,126.96 530.8,126.67 531.34,126.23 531.88,126.16 532.42,124.67 532.96,125.32 533.5,124.18 534.04,121.81 534.58,121.63 535.12,122.78 535.65,118.38 536.19,117.24 536.73,112.13 537.27,109.47 537.81,113.41 538.35,103.9 538.89,98.82 539.43,116.26 539.97,100.75 540.51,107.85 541.05,96.75 541.59,108.75 542.13,105.24 542.67,95.28 543.21,93.53 543.75,93.85 544.29,93.75 544.83,75.37 545.37,91.22 545.91,84.45 546.45,92.85 546.98,87.76 547.52,87.54 548.06,86.21 548.6,82.74 549.14,70.74 549.68,102.25 550.22,75.03 550.76,88.95 551.3,70.32 551.84,73.32 552.38,71.27 552.92,52.97 553.46,70.61 554,62.71 554.54,62.58 555.08,64.96 555.62,68.07 556.16,49.36 556.7,49.31 557.24,54.67 557.78,63.5 558.32,58.68 558.85,59.19 559.39,49.27 559.93,60.35 560.47,43.78 561.01,53.11 561.55,36.64 562.09,51.57 562.63,82.3 563.17,45.11 563.71,49.97 564.25,42.14 564.79,47.33 565.33,39.89 565.87,47.77 566.41,68.87 566.95,40.04 567.49,56.41 568.03,34.68 568.57,31.79 569.11,31.87 569.65,44.99 570.18,43.68 570.72,56.3 571.26,36.66 571.8,41.42 572.34,30.72 572.88,32.1 573.42,41.91 573.96,39.03 574.5,46.18 575.04,34.2 575.58,32.45 576.12,39.92 576.66,37.25 577.2,39.88 577.74,39.87 578.28,20.75 578.82,38.29 579.36,35.42 579.9,36.68 580.44,35.17 580.98,29.05 581.51,33.88 582.05,34.39 582.59,31.28 583.13,31.83 583.67,31.07 584.21,24.36 584.75,39.02 585.29,29.41 585.83,28.15 586.37,24.7 586.91,29.23 587.45,38.23 587.99,29.34 588.53,23.83 589.07,26.32 589.61,28.08 590.15,24.27 590.69,27.34 591.23,33.28 591.77,30.36 592.31,26.52 592.85,19.59 593.38,33.53 593.92,29.39 594.46,24.51 595,25.49 595.54,26.52 596.08,27.88 596.62,35.78 597.16,24.9 597.7,24.02 598.24,29.54 598.78,28.3 599.32,22.97 599.86,24.98 600.4,26 600.94,25.38 601.48,27.17 602.02,23.49 602.56,22.79 603.1,23.19 603.64,18.72 604.18,27.61 604.71,25.19 605.25,23.47 605.79,22.98 606.33,22.43 606.87,26.3 607.41,28.14 607.95,21.31 608.49,23.89 609.03,24.26 609.57,24.65 610.11,30.62" fill="none" stroke="#4c72b0" stroke-width="1.5" stroke-linejoin="round"/>
<path d="M527.72 127.1a2.0 2.0 0 1 0 4.0 0a2.0 2.0 0 1 0 -4.0 0zM528.26 126.96a2.0 2.0 0 1 0 4.0 0a2.0 2.0 0 1 0 -4.0 0zM528.8 126.67a2.0 2.0 0 1 0 4.0 0a2.0 2.0 0 1 0 -4.0 0zM529.34 126.23a2.0 2.0 0 1 0 4.0 0a2.0 2.0 0 1 0 -4.0 0zM529.88 126.16a2.0 2.0 0 1 0 4.0 0a2.0 2.0 0 1 0 -4.0 0zM530.42 124.67a2.0 2.0 0 1 0 4.0 0a2.0 2.0 0 1 0 -4.0 0zM530.96 125.32a2.0 2.0 0 1 0 4.0 0a2.0 2.0 0 1 0 -4.0 0zM531.5 124.18a2.0 2.0 0 1 0 4.0 0a2.0 2.0 0 1 0 -4.0 0zM532.04 121.81a2.0 2.0 0 1 0 4.0 0a2.0 2.0 0 1 0 -4.0 0zM532.58 121.63a2.0 2.0 0 1 0 4.0 0a2.0 2.0 0 1 0 -4.0 0zM533.12 122.78a2.0 2.0 0 1 0 4.0 0a2.0 2.0 0 1 0 -4.0 0zM533.65 118.38a2.0 2.0 0 1 0 4.0 0a2.0 2.0 0 1 0 -4.0 0zM534.19 117.24a2.0 2.0 0 1 0 4.0 0a2.0 2.0 0 1 0 -4.0 0zM534.73 112.13a2.0 2.0 0 1 0 4.0 0a2.0 2.0 0 1 0 -4.0 0zM535.27 109.47a2.0 2.0 0 1 0 4.0 0a2.0 2.0 0 1 0 -4.0 0zM535.81 113.41a2.0 2.0 0 1 0 4.0 0a2.0 2.0 0 1 0 -4.0 0zM536.35 103.9a2.0 2.0 0 1 0 4.0 0a2.0 2.0 0 1 0 -4.0 0zM536.89 98.82a2.0 2.0 0 1 0 4.0 0a2.0 2.0 0 1 0 -4.0 0zM537.43 116.26a2.0 2.0 0 1 0 4.0 0a2.0 2.0 0 1 0 -4.0 0zM537.97 100.75a2.0 2.0 0 1 0 4.0 0a2.0 2.0 0 1 0 -4.0 0zM538.51 107.85a2.0 2.0 0 1 0 4.0 0a2.0 2.0 0 1 0 -4.0 0zM539.05 96.75a2.0 2.0 0 1 0 4.0 0a2.0 2.0 0 1 0 -4.0 0zM539.59 108.75a2.0 2.0 0 1 0 4.0 0a2.0 2.0 0 1 0 -4.0 0zM540.13 105.24a2.0 2.0 0 1 0 4.0 0a2.0 2.0 0 1 0 -4.0 0zM540.67 95.28a2.0 2.0 0 1 0 4.0 0a2.0 2.0 0 1 0 -4.0 0zM541.21 93.53a2.0 2.0 0 1 0 4.0 0a2.0 2.0 0 1 0 -4.0 0zM541.75 93.85a2.0 2.0 0 1 0 4.0 0a2.0 2.0 0 1 0 -4.0 0zM542.29 93.75a2.0 2.0 0 1 0 4.0 0a2.0 2.0 0 1 0 -4.0 0zM542.83 75.37a2.0 2.0 0 1 0 4.0 0a2.0 2.0 0 1 0 -4.0 0zM543.37 91.22a2.0 2.0 0 1 0 4.0 0a2.0 2.0 0 1 0 -4.0 0zM543.91 84.45a2.0 2.0 0 1 0 4.0 0a2.0 2.0 0 1 0 -4.0 0zM544.45 92.85a2.0 2.0 0 1 0 4.0 0a2.0 2.0 0 1 0 -4.0 0zM544.98 87.76a2.0 2.0 0 1 0 4.0 0a2.0 2.0 0 1 0 -4.0 0zM545.52 87.54a2.0 2.0 0 1 0 4.0 0a2.0 2.0 0 1 0 -4.0 0zM546.06 86.21a2.0 2.0 0 1 0 4.0 0a2.0 2.0 0 1 0 -4.0 0zM546.6 82.74a2.0 2.0 0 1 0 4.0 0a2.0 2.0 0 1 0 -4.0 0zM547.14 70.74a2.0 2.0 0 1 0 4.0 0a2.0 2.0 0 1 0 -4.0 0zM547.68 102.25a2.0 2.0 0 1 0 4.0 0a2.0 2.0 0 1 0 -4.0 0zM548.22 75.03a2.0 2.0 0 1 0 4.0 0a2.0 2.0 0 1 0 -4.0 0zM548.76 88.95a2.0 2.0 0 1 0 4.0 0a2.0 2.0 0 1 0 -4.0 0zM549.3 70.32a2.0 2.0 0 1 0 4.0 0a2.0 2.0 0 1 0 -4.0 0zM549.84 73.32a2.0 2.0 0 1 0 4.0 0a2.0 2.0 0 1 0 -4.0 0zM550.38 71.27a2.0 2.0 0 1 0 4.0 0a2.0 2.0 0 1 0 -4.0 0zM550.92 52.97a2.0 2.0 0 1 0 4.0 0a2.0 2.0 0 1 0 -4.0 0zM551.46 70.61a2.0 2.0 0 1 0 4.0 0a2.0 2.0 0 1 0 -4.0 0zM552 62.71a2.0 2.0 0 1 0 4.0 0a2.0 2.0 0 1 0 -4.0 0zM552.54 62.58a2.0 2.0 0 1 0 4.0 0a2.0 2.0 0 1 0 -4.0 0zM553.08 64.96a2.0 2.0 0 1 0 4.0 0a2.0 2.0 0 1 0 -4.0 0zM553.62 68.07a2.0 2.0 0 1 0 4.0 0a2.0 2.0 0 1 0 -4.0 0zM554.16 49.36a2.0 2.0 0 1 0 4.0 0a2.0 2.0 0 1 0 -4.0 0zM554.7 49.31a2.0 2.0 0 1 0 4.0 0a2.0 2.0 0 1 0 -4.0 0zM555.24 54.67a2.0 2.0 0 1 0 4.0 0a2.0 2.0 0 1 0 -4.0 0zM555.78 63.5a2.0 2.0 0 1 0 4.0 0a2.0 2.0 0 1 0 -4.0 0zM556.32 58.68a2.0 2.0 0 1 0 4.0 0a2.0 2.0 0 1 0 -4.0 0zM556.85 59.19a2.0 2.0 0 1 0 4.0 0a2.0 2.0 0 1 0 -4.0 0zM557.39 49.27a2.0 2.0 0 1 0 4.0 0a2.0 2.0 0 1 0 -4.0 0zM557.93 60.35a2.0 2.0 0 1 0 4.0 0a2.0 2.0 0 1 0 -4.0 0zM558.47 43.78a2.0 2.0 0 1 0 4.0 0a2.0 2.0 0 1 0 -4.0 0zM559.01 53.11a2.0 2.0 0 1 0 4.0 0a2.0 2.0 0 1 0 -4.0 0zM559.55 36.64a2.0 2.0 0 1 0 4.0 0a2.0 2.0 0 1 0 -4.0 0zM560.09 51.57a2.0 2.0 0 1 0 4.0 0a2.0 2.0 0 1 0 -4.0 0zM560.63 82.3a2.0 2.0 0 1 0 4.0 0a2.0 2.0 0 1 0 -4.0 0zM561.17 45.11a2.0 2.0 0 1 0 4.0 0a2.0 2.0 0 1 0 -4.0 0zM561.71 49.97a2.0 2.0 0 1 0 4.0 0a2.0 2.0 0 1 0 -4.0 0zM562.25 42.14a2.0 2.0 0 1 0 4.0 0a2.0 2.0 0 1 0 -4.0 0zM562.79 47.33a2.0 2.0 0 1 0 4.0 0a2.0 2.0 0 1 0 -4.0 0zM563.33 39.89a2.0 2.0 0 1 0 4.0 0a2.0 2.0 0 1 0 -4.0 0zM563.87 47.77a2.0 2.0 0 1 0 4.0 0a2.0 2.0 0 1 0 -4.0 0zM564.41 68.87a2.0 2.0 0 1 0 4.0 0a2.0 2.0 0 1 0 -4.0 0zM564.95 40.04a2.0 2.0 0 1 0 4.0 0a2.0 2.0 0 1 0 -4.0 0zM565.49 56.41a2.0 2.0 0 1 0 4.0 0a2.0 2.0 0 1 0 -4.0 0zM566.03 34.68a2.0 2.0 0 1 0 4.0 0a2.0 2.0 0 1 0 -4.0 0zM566.57 31.79a2.0 2.0 0 1 0 4.0 0a2.0 2.0 0 1 0 -4.0 0zM567.11 31.87a2.0 2.0 0 1 0 4.0 0a2.0 2.0 0 1 0 -4.0 0zM567.65 44.99a2.0 2.0 0 1 0 4.0 0a2.0 2.0 0 1 0 -4.0 0zM568.18 43.68a2.0 2.0 0 1 0 4.0 0a2.0 2.0 0 1 0 -4.0 0zM568.72 56.3a2.0 2.0 0 1 0 4.0 0a2.0 2.0 0 1 0 -4.0 0zM569.26 36.66a2.0 2.0 0 1 0 4.0 0a2.0 2.0 0 1 0 -4.0 0zM569.8 41.42a2.0 2.0 0 1 0 4.0 0a2.0 2.0 0 1 0 -4.0 0zM570.34 30.72a2.0 2.0 0 1 0 4.0 0a2.0 2.0 0 1 0 -4.0 0zM570.88 32.1a2.0 2.0 0 1 0 4.0 0a2.0 2.0 0 1 0 -4.0 0zM571.42 41.91a2.0 2.0 0 1 0 4.0 0a2.0 2.0 0 1 0 -4.0 0zM571.96 39.03a2.0 2.0 0 1 0 4.0 0a2.0 2.0 0 1 0 -4.0 0zM572.5 46.18a2.0 2.0 0 1 0 4.0 0a2.0 2.0 0 1 0 -4.0 0zM573.04 34.2a2.0 2.0 0 1 0 4.0 0a2.0 2.0 0 1 0 -4.0 0zM573.58 32.45a2.0 2.0 0 1 0 4.0 0a2.0 2.0 0 1 0 -4.0 0zM574.12 39.92a2.0 2.0 0 1 0 4.0 0a2.0 2.0 0 1 0 -4.0 0zM574.66 37.25a2.0 2.0 0 1 0 4.0 0a2.0 2.0 0 1 0 -4.0 0zM575.2 39.88a2.0 2.0 0 1 0 4.0 0a2.0 2.0 0 1 0 -4.0 0zM575.74 39.87a2.0 2.0 0 1 0 4.0 0a2.0 2.0 0 1 0 -4.0 0zM576.28 20.75a2.0 2.0 0 1 0 4.0 0a2.0 2.0 0 1 0 -4.0 0zM576.82 38.29a2.0 2.0 0 1 0 4.0 0a2.0 2.0 0 1 0 -4.0 0zM577.36 35.42a2.0 2.0 0 1 0 4.0 0a2.0 2.0 0 1 0 -4.0 0zM577.9 36.68a2.0 2.0 0 1 0 4.0 0a2.0 2.0 0 1 0 -4.0 0zM578.44 35.17a2.0 2.0 0 1 0 4.0 0a2.0 2.0 0 1 0 -4.0 0zM578.98 29.05a2.0 2.0 0 1 0 4.0 0a2.0 2.0 0 1 0 -4.0 0zM579.51 33.88a2.0 2.0 0 1 0 4.0 0a2.0 2.0 0 1 0 -4.0 0zM580.05 34.39a2.0 2.0 0 1 0 4.0 0a2.0 2.0 0 1 0 -4.0 0zM580.59 31.28a2.0 2.0 0 1 0 4.0 0a2.0 2.0 0 1 0 -4.0 0zM581.13 31.83a2.0 2.0 0 1 0 4.0 0a2.0 2.0 0 1 0 -4.0 0zM581.67 31.07a2.0 2.0 0 1 0 4.0 0a2.0 2.0 0 1 0 -4.0 0zM582.21 24.36a2.0 2.0 0 1 0 4.0 0a2.0 2.0 0 1 0 -4.0 0zM582.75 39.02a2.0 2.0 0 1 0 4.0 0a2.0 2.0 0 1 0 -4.0 0zM583.29 29.41a2.0 2.0 0 1 0 4.0 0a2.0 2.0 0 1 0 -4.0 0zM583.83 28.15a2.0 2.0 0 1 0 4.0 0a2.0 2.0 0 1 0 -4.0 0zM584.37 24.7a2.0 2.0 0 1 0 4.0 0a2.0 2.0 0 1 0 -4.0 0zM584.91 29.23a2.0 2.0 0 1 0 4.0 0a2.0 2.0 0 1 0 -4.0 0zM585.45 38.23a2.0 2.0 0 1 0 4.0 0a2.0 2.0 0 1 0 -4.0 0zM585.99 29.34a2.0 2.0 0 1 0 4.0 0a2.0 2.0 0 1 0 -4.0 0zM586.53 23.83a2.0 2.0 0 1 0 4.0 0a2.0 2.0 0 1 0 -4.0 0zM587.07 26.32a2.0 2.0 0 1 0 4.0 0a2.0 2.0 0 1 0 -4.0 0zM587.61 28.08a2.0 2.0 0 1 0 4.0 0a2.0 2.0 0 1 0 -4.0 0zM588.15 24.27a2.0 2.0 0 1 0 4.0 0a2.0 2.0 0 1 0 -4.0 0zM588.69 27.34a2.0 2.0 0 1 0 4.0 0a2.0 2.0 0 1 0 -4.0 0zM589.23 33.28a2.0 2.0 0 1 0 4.0 0a2.0 2.0 0 1 0 -4.0 0zM589.77 30.36a2.0 2.0 0 1 0 4.0 0a2.0 2.0 0 1 0 -4.0 0zM590.31 26.52a2.0 2.0 0 1 0 4.0 0a2.0 2.0 0 1 0 -4.0 0zM590.85 19.59a2.0 2.0 0 1 0 4.0 0a2.0 2.0 0 1 0 -4.0 0zM591.38 33.53a2.0 2.0 0 1 0 4.0 0a2.0 2.0 0 1 0 -4.0 0zM591.92 29.39a2.0 2.0 0 1 0 4.0 0a2.0 2.0 0 1 0 -4.0 0zM592.46 24.51a2.0 2.0 0 1 0 4.0 0a2.0 2.0 0 1 0 -4.0 0zM593 25.49a2.0 2.0 0 1 0 4.0 0a2.0 2.0 0 1 0 -4.0 0zM593.54 26.52a2.0 2.0 0 1 0 4.0 0a2.0 2.0 0 1 0 -4.0 0zM594.08 27.88a2.0 2.0 0 1 0 4.0 0a2.0 2.0 0 1 0 -4.0 0zM594.62 35.78a2.0 2.0 0 1 0 4.0 0a2.0 2.0 0 1 0 -4.0 0zM595.16 24.9a2.0 2.0 0 1 0 4.0 0a2.0 2.0 0 1 0 -4.0 0zM595.7 24.02a2.0 2.0 0 1 0 4.0 0a2.0 2.0 0 1 0 -4.0 0zM596.24 29.54a2.0 2.0 0 1 0 4.0 0a2.0 2.0 0 1 0 -4.0 0zM596.78 28.3a2.0 2.0 0 1 0 4.0 0a2.0 2.0 0 1 0 -4.0 0zM597.32 22.97a2.0 2.0 0 1 0 4.0 0a2.0 2.0 0 1 0 -4.0 0zM597.86 24.98a2.0 2.0 0 1 0 4.0 0a2.0 2.0 0 1 0 -4.0 0zM598.4 26a2.0 2.0 0 1 0 4.0 0a2.0 2.0 0 1 0 -4.0 0zM598.94 25.38a2.0 2.0 0 1 0 4.0 0a2.0 2.0 0 1 0 -4.0 0zM599.48 27.17a2.0 2.0 0 1 0 4.0 0a2.0 2.0 0 1 0 -4.0 0zM600.02 23.49a2.0 2.0 0 1 0 4.0 0a2.0 2.0 0 1 0 -4.0 0zM600.56 22.79a2.0 2.0 0 1 0 4.0 0a2.0 2.0 0 1 0 -4.0 0zM601.1 23.19a2.0 2.0 0 1 0 4.0 0a2.0 2.0 0 1 0 -4.0 0zM601.64 18.72a2.0 2.0 0 1 0 4.0 0a2.0 2.0 0 1 0 -4.0 0zM602.18 27.61a2.0 2.0 0 1 0 4.0 0a2.0 2.0 0 1 0 -4.0 0zM602.71 25.19a2.0 2.0 0 1 0 4.0 0a2.0 2.0 0 1 0 -4.0 0zM603.25 23.47a2.0 2.0 0 1 0 4.0 0a2.0 2.0 0 1 0 -4.0 0zM603.79 22.98a2.0 2.0 0 1 0 4.0 0a2.0 2.0 0 1 0 -4.0 0zM604.33 22.43a2.0 2.0 0 1 0 4.0 0a2.0 2.0 0 1 0 -4.0 0zM604.87 26.3a2.0 2.0 0 1 0 4.0 0a2.0 2.0 0 1 0 -4.0 0zM605.41 28.14a2.0 2.0 0 1 0 4.0 0a2.0 2.0 0 1 0 -4.0 0zM605.95 21.31a2.0 2.0 0 1 0 4.0 0a2.0 2.0 0 1 0 -4.0 0zM606.49 23.89a2.0 2.0 0 1 0 4.0 0a2.0 2.0 0 1 0 -4.0 0zM607.03 24.26a2.0 2.0 0 1 0 4.0 0a2.0 2.0 0 1 0 -4.0 0zM607.57 24.65a2.0 2.0 0 1 0 4.0 0a2.0 2.0 0 1 0 -4.0 0zM608.11 30.62a2.0 2.0 0 1 0 4.0 0a2.0 2.0 0 1 0 -4.0 0z" fill="#4c72b0"/>
<polyline points="529.72,126.53 530.26,126.42 530.8,126.18 531.34,125.84 531.88,125.37 532.42,124.78 532.96,124.05 533.5,123.16 534.04,122.09 534.58,120.81 535.12,119.3 535.65,117.59 536.19,115.72 536.73,113.78 537.27,111.89 537.81,110.15 538.35,108.62 538.89,107.31 539.43,106.17 539.97,105.11 540.51,104.01 541.05,102.75 541.59,101.25 542.13,99.47 542.67,97.45 543.21,95.32 543.75,93.24 544.29,91.4 544.83,89.9 545.37,88.78 545.91,87.97 546.45,87.32 546.98,86.71 547.52,86.03 548.06,85.24 548.6,84.32 549.14,83.2 549.68,81.79 550.22,80.01 550.76,77.82 551.3,75.33 551.84,72.7 552.38,70.16 552.92,67.88 553.46,65.93 554,64.26 554.54,62.77 555.08,61.37 555.62,60.06 556.16,58.89 556.7,57.93 557.24,57.18 557.78,56.54 558.32,55.89 558.85,55.13 559.39,54.27 559.93,53.44 560.47,52.78 561.01,52.38 561.55,52.2 562.09,52.08 562.63,51.8 563.17,51.26 563.71,50.51 564.25,49.72 564.79,49.02 565.33,48.46 565.87,47.89 566.41,47.13 566.95,46.08 567.49,44.79 568.03,43.48 568.57,42.42 569.11,41.75 569.65,41.41 570.18,41.21 570.72,40.92 571.26,40.43 571.8,39.81 572.34,39.19 572.88,38.7 573.42,38.38 573.96,38.19 574.5,38.02 575.04,37.8 575.58,37.49 576.12,37.09 576.66,36.61 577.2,36.08 577.74,35.55 578.28,35.07 578.82,34.66 579.36,34.31 579.9,34 580.44,33.66 580.98,33.29 581.51,32.88 582.05,32.45 582.59,32.01 583.13,31.59 583.67,31.2 584.21,30.84 584.75,30.51 585.29,30.22 585.83,29.95 586.37,29.7 586.91,29.43 587.45,29.11 587.99,28.75 588.53,28.38 589.07,28.08 589.61,27.89 590.15,27.82 590.69,27.82 591.23,27.83 591.77,27.81 592.31,27.72 592.85,27.61 593.38,27.51 593.92,27.46 594.46,27.46 595,27.52 595.54,27.6 596.08,27.65 596.62,27.61 597.16,27.46 597.7,27.2 598.24,26.86 598.78,26.48 599.32,26.1 599.86,25.74 600.4,25.39 600.94,25.03 601.48,24.68 602.02,24.35 602.56,24.06 603.1,23.87 603.64,23.79 604.18,23.81 604.71,23.9 605.25,24.02 605.79,24.17 606.33,24.31 606.87,24.48 607.41,24.67 607.95,24.9 608.49,25.18 609.03,25.48 609.57,25.75 610.11,25.91" fill="none" stroke="#dd8452" stroke-width="1.6" stroke-dasharray="1.5 2.33"/>
<clipPath id="c5"><rect x="25.4" y="167.85" width="87.75" height="117.7"/></clipPath>
<rect x="25.4" y="167.85" width="87.75" height="117.7" fill="#eaeaf2"/>
<path d="M29.08 167.85V285.55M83.03 167.85V285.55M25.4 187.1H113.15M25.4 220.8H113.15M25.4 254.5H113.15" stroke="#fff" stroke-width="0.6" fill="none" clip-path="url(#c5)"/>
<polyline points="29.08,173.28 29.62,177.33 30.16,178.68 30.7,179.47 31.24,181.83 31.78,178.12 32.32,178.25 32.86,182.38 33.4,178.24 33.94,182.19 34.48,179.26 35.01,189.54 35.55,197.95 36.09,199.39 36.63,205.91 37.17,208.49 37.71,210.25 38.25,212.46 38.79,211.39 39.33,203.11 39.87,234.45 40.41,211.23 40.95,224.46 41.49,220.15 42.03,215.34 42.57,228.84 43.11,226.24 43.65,235.53 44.19,239.01 44.73,235.26 45.27,246.41 45.81,242.68 46.34,232.82 46.88,232.27 47.42,221.64 47.96,236.62 48.5,246.75 49.04,234.79 49.58,245.2 50.12,245.31 50.66,243.08 51.2,252.29 51.74,254.22 52.28,248.11 52.82,253.32 53.36,258.82 53.9,248.38 54.44,256.95 54.98,256.4 55.52,259.24 56.06,255.01 56.6,253.6 57.14,260.57 57.68,258.84 58.21,263.19 58.75,253.33 59.29,256.91 59.83,264.84 60.37,260.62 60.91,259.1 61.45,261.05 61.99,238.16 62.53,261.24 63.07,259.55 63.61,259.81 64.15,263.46 64.69,258.22 65.23,263.42 65.77,268.33 66.31,262.38 66.85,262.09 67.39,265.95 67.93,264.02 68.47,263.63 69.01,267.66 69.54,269.73 70.08,266.95 70.62,270.77 71.16,266.86 71.7,267.67 72.24,267.66 72.78,265.81 73.32,274.93 73.86,267.69 74.4,271.34 74.94,268.25 75.48,269.99 76.02,272.96 76.56,268.53 77.1,272.28 77.64,269.68 78.18,272.52 78.72,272.87 79.26,272.33 79.8,269.3 80.34,272.24 80.87,273.8 81.41,270.32 81.95,273.13 82.49,273.33 83.03,274.21 83.57,271.9 84.11,271.91 84.65,273.34 85.19,275.56 85.73,272.68 86.27,272.47 86.81,273.55 87.35,274.7 87.89,275.15 88.43,274.52 88.97,272.05 89.51,274.17 90.05,277.11 90.59,274.07 91.13,275.95 91.67,272.18 92.21,276.14 92.74,275.84 93.28,275.5 93.82,275.34 94.36,275.62 94.9,275.54 95.44,275.8 95.98,276.13 96.52,275.81 97.06,276.87 97.6,276.13 98.14,276.53 98.68,276.55 99.22,276.91 99.76,276.87 100.3,276.43 100.84,277.58 101.38,277.23 101.92,277.09 102.46,277.8 103,277.58 103.54,276.97 104.07,279.26 104.61,276.61 105.15,277.92 105.69,279.79 106.23,277.13 106.77,279.19 107.31,277.18 107.85,279.34 108.39,278.77 108.93,278.22 109.47,280.24" fill="none" stroke="#4c72b0" stroke-width="1.5" stroke-linejoin="round"/>
<path d="M27.08 173.28a2.0 2.0 0 1 0 4.0 0a2.0 2.0 0 1 0 -4.0 0zM27.62 177.33a2.0 2.0 0 1 0 4.0 0a2.0 2.0 0 1 0 -4.0 0zM28.16 178.68a2.0 2.0 0 1 0 4.0 0a2.0 2.0 0 1 0 -4.0 0zM28.7 179.47a2.0 2.0 0 1 0 4.0 0a2.0 2.0 0 1 0 -4.0 0zM29.24 181.83a2.0 2.0 0 1 0 4.0 0a2.0 2.0 0 1 0 -4.0 0zM29.78 178.12a2.0 2.0 0 1 0 4.0 0a2.0 2.0 0 1 0 -4.0 0zM30.32 178.25a2.0 2.0 0 1 0 4.0 0a2.0 2.0 0 1 0 -4.0 0zM30.86 182.38a2.0 2.0 0 1 0 4.0 0a2.0 2.0 0 1 0 -4.0 0zM31.4 178.24a2.0 2.0 0 1 0 4.0 0a2.0 2.0 0 1 0 -4.0 0zM31.94 182.19a2.0 2.0 0 1 0 4.0 0a2.0 2.0 0 1 0 -4.0 0zM32.48 179.26a2.0 2.0 0 1 0 4.0 0a2.0 2.0 0 1 0 -4.0 0zM33.01 189.54a2.0 2.0 0 1 0 4.0 0a2.0 2.0 0 1 0 -4.0 0zM33.55 197.95a2.0 2.0 0 1 0 4.0 0a2.0 2.0 0 1 0 -4.0 0zM34.09 199.39a2.0 2.0 0 1 0 4.0 0a2.0 2.0 0 1 0 -4.0 0zM34.63 205.91a2.0 2.0 0 1 0 4.0 0a2.0 2.0 0 1 0 -4.0 0zM35.17 208.49a2.0 2.0 0 1 0 4.0 0a2.0 2.0 0 1 0 -4.0 0zM35.71 210.25a2.0 2.0 0 1 0 4.0 0a2.0 2.0 0 1 0 -4.0 0zM36.25 212.46a2.0 2.0 0 1 0 4.0 0a2.0 2.0 0 1 0 -4.0 0zM36.79 211.39a2.0 2.0 0 1 0 4.0 0a2.0 2.0 0 1 0 -4.0 0zM37.33 203.11a2.0 2.0 0 1 0 4.0 0a2.0 2.0 0 1 0 -4.0 0zM37.87 234.45a2.0 2.0 0 1 0 4.0 0a2.0 2.0 0 1 0 -4.0 0zM38.41 211.23a2.0 2.0 0 1 0 4.0 0a2.0 2.0 0 1 0 -4.0 0zM38.95 224.46a2.0 2.0 0 1 0 4.0 0a2.0 2.0 0 1 0 -4.0 0zM39.49 220.15a2.0 2.0 0 1 0 4.0 0a2.0 2.0 0 1 0 -4.0 0zM40.03 215.34a2.0 2.0 0 1 0 4.0 0a2.0 2.0 0 1 0 -4.0 0zM40.57 228.84a2.0 2.0 0 1 0 4.0 0a2.0 2.0 0 1 0 -4.0 0zM41.11 226.24a2.0 2.0 0 1 0 4.0 0a2.0 2.0 0 1 0 -4.0 0zM41.65 235.53a2.0 2.0 0 1 0 4.0 0a2.0 2.0 0 1 0 -4.0 0zM42.19 239.01a2.0 2.0 0 1 0 4.0 0a2.0 2.0 0 1 0 -4.0 0zM42.73 235.26a2.0 2.0 0 1 0 4.0 0a2.0 2.0 0 1 0 -4.0 0zM43.27 246.41a2.0 2.0 0 1 0 4.0 0a2.0 2.0 0 1 0 -4.0 0zM43.81 242.68a2.0 2.0 0 1 0 4.0 0a2.0 2.0 0 1 0 -4.0 0zM44.34 232.82a2.0 2.0 0 1 0 4.0 0a2.0 2.0 0 1 0 -4.0 0zM44.88 232.27a2.0 2.0 0 1 0 4.0 0a2.0 2.0 0 1 0 -4.0 0zM45.42 221.64a2.0 2.0 0 1 0 4.0 0a2.0 2.0 0 1 0 -4.0 0zM45.96 236.62a2.0 2.0 0 1 0 4.0 0a2.0 2.0 0 1 0 -4.0 0zM46.5 246.75a2.0 2.0 0 1 0 4.0 0a2.0 2.0 0 1 0 -4.0 0zM47.04 234.79a2.0 2.0 0 1 0 4.0 0a2.0 2.0 0 1 0 -4.0 0zM47.58 245.2a2.0 2.0 0 1 0 4.0 0a2.0 2.0 0 1 0 -4.0 0zM48.12 245.31a2.0 2.0 0 1 0 4.0 0a2.0 2.0 0 1 0 -4.0 0zM48.66 243.08a2.0 2.0 0 1 0 4.0 0a2.0 2.0 0 1 0 -4.0 0zM49.2 252.29a2.0 2.0 0 1 0 4.0 0a2.0 2.0 0 1 0 -4.0 0zM49.74 254.22a2.0 2.0 0 1 0 4.0 0a2.0 2.0 0 1 0 -4.0 0zM50.28 248.11a2.0 2.0 0 1 0 4.0 0a2.0 2.0 0 1 0 -4.0 0zM50.82 253.32a2.0 2.0 0 1 0 4.0 0a2.0 2.0 0 1 0 -4.0 0zM51.36 258.82a2.0 2.0 0 1 0 4.0 0a2.0 2.0 0 1 0 -4.0 0zM51.9 248.38a2.0 2.0 0 1 0 4.0 0a2.0 2.0 0 1 0 -4.0 0zM52.44 256.95a2.0 2.0 0 1 0 4.0 0a2.0 2.0 0 1 0 -4.0 0zM52.98 256.4a2.0 2.0 0 1 0 4.0 0a2.0 2.0 0 1 0 -4.0 0zM53.52 259.24a2.0 2.0 0 1 0 4.0 0a2.0 2.0 0 1 0 -4.0 0zM54.06 255.01a2.0 2.0 0 1 0 4.0 0a2.0 2.0 0 1 0 -4.0 0zM54.6 253.6a2.0 2.0 0 1 0 4.0 0a2.0 2.0 0 1 0 -4.0 0zM55.14 260.57a2.0 2.0 0 1 0 4.0 0a2.0 2.0 0 1 0 -4.0 0zM55.68 258.84a2.0 2.0 0 1 0 4.0 0a2.0 2.0 0 1 0 -4.0 0zM56.21 263.19a2.0 2.0 0 1 0 4.0 0a2.0 2.0 0 1 0 -4.0 0zM56.75 253.33a2.0 2.0 0 1 0 4.0 0a2.0 2.0 0 1 0 -4.0 0zM57.29 256.91a2.0 2.0 0 1 0 4.0 0a2.0 2.0 0 1 0 -4.0 0zM57.83 264.84a2.0 2.0 0 1 0 4.0 0a2.0 2.0 0 1 0 -4.0 0zM58.37 260.62a2.0 2.0 0 1 0 4.0 0a2.0 2.0 0 1 0 -4.0 0zM58.91 259.1a2.0 2.0 0 1 0 4.0 0a2.0 2.0 0 1 0 -4.0 0zM59.45 261.05a2.0 2.0 0 1 0 4.0 0a2.0 2.0 0 1 0 -4.0 0zM59.99 238.16a2.0 2.0 0 1 0 4.0 0a2.0 2.0 0 1 0 -4.0 0zM60.53 261.24a2.0 2.0 0 1 0 4.0 0a2.0 2.0 0 1 0 -4.0 0zM61.07 259.55a2.0 2.0 0 1 0 4.0 0a2.0 2.0 0 1 0 -4.0 0zM61.61 259.81a2.0 2.0 0 1 0 4.0 0a2.0 2.0 0 1 0 -4.0 0zM62.15 263.46a2.0 2.0 0 1 0 4.0 0a2.0 2.0 0 1 0 -4.0 0zM62.69 258.22a2.0 2.0 0 1 0 4.0 0a2.0 2.0 0 1 0 -4.0 0zM63.23 263.42a2.0 2.0 0 1 0 4.0 0a2.0 2.0 0 1 0 -4.0 0zM63.77 268.33a2.0 2.0 0 1 0 4.0 0a2.0 2.0 0 1 0 -4.0 0zM64.31 262.38a2.0 2.0 0 1 0 4.0 0a2.0 2.0 0 1 0 -4.0 0zM64.85 262.09a2.0 2.0 0 1 0 4.0 0a2.0 2.0 0 1 0 -4.0 0zM65.39 265.95a2.0 2.0 0 1 0 4.0 0a2.0 2.0 0 1 0 -4.0 0zM65.93 264.02a2.0 2.0 0 1 0 4.0 0a2.0 2.0 0 1 0 -4.0 0zM66.47 263.63a2.0 2.0 0 1 0 4.0 0a2.0 2.0 0 1 0 -4.0 0zM67.01 267.66a2.0 2.0 0 1 0 4.0 0a2.0 2.0 0 1 0 -4.0 0zM67.54 269.73a2.0 2.0 0 1 0 4.0 0a2.0 2.0 0 1 0 -4.0 0zM68.08 266.95a2.0 2.0 0 1 0 4.0 0a2.0 2.0 0 1 0 -4.0 0zM68.62 270.77a2.0 2.0 0 1 0 4.0 0a2.0 2.0 0 1 0 -4.0 0zM69.16 266.86a2.0 2.0 0 1 0 4.0 0a2.0 2.0 0 1 0 -4.0 0zM69.7 267.67a2.0 2.0 0 1 0 4.0 0a2.0 2.0 0 1 0 -4.0 0zM70.24 267.66a2.0 2.0 0 1 0 4.0 0a2.0 2.0 0 1 0 -4.0 0zM70.78 265.81a2.0 2.0 0 1 0 4.0 0a2.0 2.0 0 1 0 -4.0 0zM71.32 274.93a2.0 2.0 0 1 0 4.0 0a2.0 2.0 0 1 0 -4.0 0zM71.86 267.69a2.0 2.0 0 1 0 4.0 0a2.0 2.0 0 1 0 -4.0 0zM72.4 271.34a2.0 2.0 0 1 0 4.0 0a2.0 2.0 0 1 0 -4.0 0zM72.94 268.25a2.0 2.0 0 1 0 4.0 0a2.0 2.0 0 1 0 -4.0 0zM73.48 269.99a2.0 2.0 0 1 0 4.0 0a2.0 2.0 0 1 0 -4.0 0zM74.02 272.96a2.0 2.0 0 1 0 4.0 0a2.0 2.0 0 1 0 -4.0 0zM74.56 268.53a2.0 2.0 0 1 0 4.0 0a2.0 2.0 0 1 0 -4.0 0zM75.1 272.28a2.0 2.0 0 1 0 4.0 0a2.0 2.0 0 1 0 -4.0 0zM75.64 269.68a2.0 2.0 0 1 0 4.0 0a2.0 2.0 0 1 0 -4.0 0zM76.18 272.52a2.0 2.0 0 1 0 4.0 0a2.0 2.0 0 1 0 -4.0 0zM76.72 272.87a2.0 2.0 0 1 0 4.0 0a2.0 2.0 0 1 0 -4.0 0zM77.26 272.33a2.0 2.0 0 1 0 4.0 0a2.0 2.0 0 1 0 -4.0 0zM77.8 269.3a2.0 2.0 0 1 0 4.0 0a2.0 2.0 0 1 0 -4.0 0zM78.34 272.24a2.0 2.0 0 1 0 4.0 0a2.0 2.0 0 1 0 -4.0 0zM78.87 273.8a2.0 2.0 0 1 0 4.0 0a2.0 2.0 0 1 0 -4.0 0zM79.41 270.32a2.0 2.0 0 1 0 4.0 0a2.0 2.0 0 1 0 -4.0 0zM79.95 273.13a2.0 2.0 0 1 0 4.0 0a2.0 2.0 0 1 0 -4.0 0zM80.49 273.33a2.0 2.0 0 1 0 4.0 0a2.0 2.0 0 1 0 -4.0 0zM81.03 274.21a2.0 2.0 0 1 0 4.0 0a2.0 2.0 0 1 0 -4.0 0zM81.57 271.9a2.0 2.0 0 1 0 4.0 0a2.0 2.0 0 1 0 -4.0 0zM82.11 271.91a2.0 2.0 0 1 0 4.0 0a2.0 2.0 0 1 0 -4.0 0zM82.65 273.34a2.0 2.0 0 1 0 4.0 0a2.0 2.0 0 1 0 -4.0 0zM83.19 275.56a2.0 2.0 0 1 0 4.0 0a2.0 2.0 0 1 0 -4.0 0zM83.73 272.68a2.0 2.0 0 1 0 4.0 0a2.0 2.0 0 1 0 -4.0 0zM84.27 272.47a2.0 2.0 0 1 0 4.0 0a2.0 2.0 0 1 0 -4.0 0zM84.81 273.55a2.0 2.0 0 1 0 4.0 0a2.0 2.0 0 1 0 -4.0 0zM85.35 274.7a2.0 2.0 0 1 0 4.0 0a2.0 2.0 0 1 0 -4.0 0zM85.89 275.15a2.0 2.0 0 1 0 4.0 0a2.0 2.0 0 1 0 -4.0 0zM86.43 274.52a2.0 2.0 0 1 0 4.0 0a2.0 2.0 0 1 0 -4.0 0zM86.97 272.05a2.0 2.0 0 1 0 4.0 0a2.0 2.0 0 1 0 -4.0 0zM87.51 274.17a2.0 2.0 0 1 0 4.0 0a2.0 2.0 0 1 0 -4.0 0zM88.05 277.11a2.0 2.0 0 1 0 4.0 0a2.0 2.0 0 1 0 -4.0 0zM88.59 274.07a2.0 2.0 0 1 0 4.0 0a2.0 2.0 0 1 0 -4.0 0zM89.13 275.95a2.0 2.0 0 1 0 4.0 0a2.0 2.0 0 1 0 -4.0 0zM89.67 272.18a2.0 2.0 0 1 0 4.0 0a2.0 2.0 0 1 0 -4.0 0zM90.21 276.14a2.0 2.0 0 1 0 4.0 0a2.0 2.0 0 1 0 -4.0 0zM90.74 275.84a2.0 2.0 0 1 0 4.0 0a2.0 2.0 0 1 0 -4.0 0zM91.28 275.5a2.0 2.0 0 1 0 4.0 0a2.0 2.0 0 1 0 -4.0 0zM91.82 275.34a2.0 2.0 0 1 0 4.0 0a2.0 2.0 0 1 0 -4.0 0zM92.36 275.62a2.0 2.0 0 1 0 4.0 0a2.0 2.0 0 1 0 -4.0 0zM92.9 275.54a2.0 2.0 0 1 0 4.0 0a2.0 2.0 0 1 0 -4.0 0zM93.44 275.8a2.0 2.0 0 1 0 4.0 0a2.0 2.0 0 1 0 -4.0 0zM93.98 276.13a2.0 2.0 0 1 0 4.0 0a2.0 2.0 0 1 0 -4.0 0zM94.52 275.81a2.0 2.0 0 1 0 4.0 0a2.0 2.0 0 1 0 -4.0 0zM95.06 276.87a2.0 2.0 0 1 0 4.0 0a2.0 2.0 0 1 0 -4.0 0zM95.6 276.13a2.0 2.0 0 1 0 4.0 0a2.0 2.0 0 1 0 -4.0 0zM96.14 276.53a2.0 2.0 0 1 0 4.0 0a2.0 2.0 0 1 0 -4.0 0zM96.68 276.55a2.0 2.0 0 1 0 4.0 0a2.0 2.0 0 1 0 -4.0 0zM97.22 276.91a2.0 2.0 0 1 0 4.0 0a2.0 2.0 0 1 0 -4.0 0zM97.76 276.87a2.0 2.0 0 1 0 4.0 0a2.0 2.0 0 1 0 -4.0 0zM98.3 276.43a2.0 2.0 0 1 0 4.0 0a2.0 2.0 0 1 0 -4.0 0zM98.84 277.58a2.0 2.0 0 1 0 4.0 0a2.0 2.0 0 1 0 -4.0 0zM99.38 277.23a2.0 2.0 0 1 0 4.0 0a2.0 2.0 0 1 0 -4.0 0zM99.92 277.09a2.0 2.0 0 1 0 4.0 0a2.0 2.0 0 1 0 -4.0 0zM100.46 277.8a2.0 2.0 0 1 0 4.0 0a2.0 2.0 0 1 0 -4.0 0zM101 277.58a2.0 2.0 0 1 0 4.0 0a2.0 2.0 0 1 0 -4.0 0zM101.54 276.97a2.0 2.0 0 1 0 4.0 0a2.0 2.0 0 1 0 -4.0 0zM102.07 279.26a2.0 2.0 0 1 0 4.0 0a2.0 2.0 0 1 0 -4.0 0zM102.61 276.61a2.0 2.0 0 1 0 4.0 0a2.0 2.0 0 1 0 -4.0 0zM103.15 277.92a2.0 2.0 0 1 0 4.0 0a2.0 2.0 0 1 0 -4.0 0zM103.69 279.79a2.0 2.0 0 1 0 4.0 0a2.0 2.0 0 1 0 -4.0 0zM104.23 277.13a2.0 2.0 0 1 0 4.0 0a2.0 2.0 0 1 0 -4.0 0zM104.77 279.19a2.0 2.0 0 1 0 4.0 0a2.0 2.0 0 1 0 -4.0 0zM105.31 277.18a2.0 2.0 0 1 0 4.0 0a2.0 2.0 0 1 0 -4.0 0zM105.85 279.34a2.0 2.0 0 1 0 4.0 0a2.0 2.0 0 1 0 -4.0 0zM106.39 278.77a2.0 2.0 0 1 0 4.0 0a2.0 2.0 0 1 0 -4.0 0zM106.93 278.22a2.0 2.0 0 1 0 4.0 0a2.0 2.0 0 1 0 -4.0 0zM107.47 280.24a2.0 2.0 0 1 0 4.0 0a2.0 2.0 0 1 0 -4.0 0z" fill="#4c72b0"/>
<polyline points="29.08,177.37 29.62,177.6 30.16,178.01 30.7,178.53 31.24,179.1 31.78,179.75 32.32,180.55 32.86,181.65 33.4,183.21 33.94,185.35 34.48,188.09 35.01,191.34 35.55,194.9 36.09,198.53 36.63,201.99 37.17,205.14 37.71,207.92 38.25,210.38 38.79,212.59 39.33,214.63 39.87,216.55 40.41,218.4 40.95,220.28 41.49,222.26 42.03,224.43 42.57,226.8 43.11,229.26 43.65,231.62 44.19,233.62 44.73,235.07 45.27,235.88 45.81,236.16 46.34,236.17 46.88,236.24 47.42,236.66 47.96,237.57 48.5,238.96 49.04,240.7 49.58,242.64 50.12,244.61 50.66,246.52 51.2,248.27 51.74,249.84 52.28,251.21 52.82,252.37 53.36,253.36 53.9,254.21 54.44,254.96 54.98,255.62 55.52,256.22 56.06,256.77 56.6,257.28 57.14,257.74 57.68,258.13 58.21,258.44 58.75,258.62 59.29,258.65 59.83,258.5 60.37,258.21 60.91,257.87 61.45,257.62 61.99,257.62 62.53,257.96 63.07,258.62 63.61,259.52 64.15,260.52 64.69,261.48 65.23,262.33 65.77,263.05 66.31,263.66 66.85,264.2 67.39,264.73 67.93,265.29 68.47,265.89 69.01,266.48 69.54,267.03 70.08,267.48 70.62,267.84 71.16,268.13 71.7,268.39 72.24,268.67 72.78,268.96 73.32,269.27 73.86,269.57 74.4,269.85 74.94,270.1 75.48,270.33 76.02,270.56 76.56,270.78 77.1,271.01 77.64,271.22 78.18,271.41 78.72,271.58 79.26,271.73 79.8,271.87 80.34,272.02 80.87,272.18 81.41,272.36 81.95,272.53 82.49,272.7 83.03,272.85 83.57,272.99 84.11,273.12 84.65,273.25 85.19,273.38 85.73,273.51 86.27,273.66 86.81,273.8 87.35,273.94 87.89,274.09 88.43,274.22 88.97,274.36 89.51,274.5 90.05,274.63 90.59,274.75 91.13,274.87 91.67,275 92.21,275.12 92.74,275.25 93.28,275.38 93.82,275.5 94.36,275.62 94.9,275.74 95.44,275.87 95.98,276 96.52,276.13 97.06,276.26 97.6,276.38 98.14,276.5 98.68,276.62 99.22,276.74 99.76,276.86 100.3,276.98 100.84,277.1 101.38,277.22 101.92,277.35 102.46,277.47 103,277.59 103.54,277.71 104.07,277.83 104.61,277.95 105.15,278.07 105.69,278.18 106.23,278.29 106.77,278.41 107.31,278.53 107.85,278.66 108.39,278.79 108.93,278.89 109.47,278.94" fill="none" stroke="#dd8452" stroke-width="1.6" stroke-dasharray="1.5 2.33"/>
<clipPath id="c6"><rect x="150.56" y="167.85" width="87.75" height="117.7"/></clipPath>
<rect x="150.56" y="167.85" width="87.75" height="117.7" fill="#eaeaf2"/>
<path d="M154.24 167.85V285.55M208.19 167.85V285.55M150.56 178.2H238.31M150.56 203.3H238.31M150.56 228.4H238.31M150.56 253.5H238.31M150.56 278.6H238.31" stroke="#fff" stroke-width="0.6" fill="none" clip-path="url(#c6)"/>
<polyline points="154.24,255.51 154.78,259.29 155.32,263.52 155.86,267.53 156.4,271.78 156.94,272.93 157.48,273.95 158.02,276.49 158.56,274.93 159.1,276.1 159.64,277.16 160.17,275.07 160.71,271.71 161.25,270.23 161.79,266.11 162.33,263.5 162.87,255.79 163.41,172.43 163.95,259.43 164.49,264.33 165.03,258.49 165.57,264.11 166.11,266.79 166.65,260.92 167.19,264.22 167.73,265.84 168.27,262.47 168.81,267.15 169.35,262.24 169.89,268.23 170.43,271.01 170.97,267.34 171.5,272.1 172.04,266.72 172.58,272.01 173.12,271.57 173.66,271.14 174.2,266.22 174.74,266.17 175.28,262.79 175.82,270.43 176.36,273.21 176.9,271.54 177.44,273.24 177.98,274.7 178.52,275.15 179.06,271.58 179.6,268.95 180.14,273.63 180.68,275.61 181.22,271.19 181.76,274.14 182.3,274.02 182.84,273.36 183.37,273.75 183.91,273.97 184.45,276.02 184.99,273.16 185.53,274.63 186.07,273.07 186.61,275.9 187.15,266.3 187.69,275.61 188.23,272.7 188.77,275.34 189.31,275.62 189.85,275.74 190.39,275.49 190.93,270.82 191.47,276.36 192.01,273.56 192.55,276.36 193.09,276.32 193.63,275 194.17,275.01 194.7,276.87 195.24,276.07 195.78,275.46 196.32,276.37 196.86,278.01 197.4,275.61 197.94,275.5 198.48,276.07 199.02,277.41 199.56,276.87 200.1,277.44 200.64,277.48 201.18,276.48 201.72,276.57 202.26,277.4 202.8,277.5 203.34,277.32 203.88,277.77 204.42,277.85 204.96,278.4 205.5,278.13 206.03,276.62 206.57,277.67 207.11,278.49 207.65,278.48 208.19,278.66 208.73,277.79 209.27,277.84 209.81,279.22 210.35,278.13 210.89,279.05 211.43,277.94 211.97,278.9 212.51,277.98 213.05,279.38 213.59,279.26 214.13,278.88 214.67,278.4 215.21,278.69 215.75,279.76 216.29,278.93 216.83,279.07 217.37,279.4 217.9,279.61 218.44,278.33 218.98,279.6 219.52,279.91 220.06,279.17 220.6,279.54 221.14,279.77 221.68,279.42 222.22,279.66 222.76,279.76 223.3,279.44 223.84,279.73 224.38,280.11 224.92,279.91 225.46,279.94 226,279.59 226.54,280.16 227.08,280.17 227.62,279.78 228.16,280.24 228.7,280.3 229.23,279.91 229.77,280.37 230.31,279.97 230.85,280.37 231.39,280.36 231.93,280.36 232.47,280.39 233.01,280.43 233.55,280.43 234.09,280.43 234.63,280.43" fill="none" stroke="#4c72b0" stroke-width="1.5" stroke-linejoin="round"/>
<path d="M152.24 255.51a2.0 2.0 0 1 0 4.0 0a2.0 2.0 0 1 0 -4.0 0zM152.78 259.29a2.0 2.0 0 1 0 4.0 0a2.0 2.0 0 1 0 -4.0 0zM153.32 263.52a2.0 2.0 0 1 0 4.0 0a2.0 2.0 0 1 0 -4.0 0zM153.86 267.53a2.0 2.0 0 1 0 4.0 0a2.0 2.0 0 1 0 -4.0 0zM154.4 271.78a2.0 2.0 0 1 0 4.0 0a2.0 2.0 0 1 0 -4.0 0zM154.94 272.93a2.0 2.0 0 1 0 4.0 0a2.0 2.0 0 1 0 -4.0 0zM155.48 273.95a2.0 2.0 0 1 0 4.0 0a2.0 2.0 0 1 0 -4.0 0zM156.02 276.49a2.0 2.0 0 1 0 4.0 0a2.0 2.0 0 1 0 -4.0 0zM156.56 274.93a2.0 2.0 0 1 0 4.0 0a2.0 2.0 0 1 0 -4.0 0zM157.1 276.1a2.0 2.0 0 1 0 4.0 0a2.0 2.0 0 1 0 -4.0 0zM157.64 277.16a2.0 2.0 0 1 0 4.0 0a2.0 2.0 0 1 0 -4.0 0zM158.17 275.07a2.0 2.0 0 1 0 4.0 0a2.0 2.0 0 1 0 -4.0 0zM158.71 271.71a2.0 2.0 0 1 0 4.0 0a2.0 2.0 0 1 0 -4.0 0zM159.25 270.23a2.0 2.0 0 1 0 4.0 0a2.0 2.0 0 1 0 -4.0 0zM159.79 266.11a2.0 2.0 0 1 0 4.0 0a2.0 2.0 0 1 0 -4.0 0zM160.33 263.5a2.0 2.0 0 1 0 4.0 0a2.0 2.0 0 1 0 -4.0 0zM160.87 255.79a2.0 2.0 0 1 0 4.0 0a2.0 2.0 0 1 0 -4.0 0zM161.41 172.43a2.0 2.0 0 1 0 4.0 0a2.0 2.0 0 1 0 -4.0 0zM161.95 259.43a2.0 2.0 0 1 0 4.0 0a2.0 2.0 0 1 0 -4.0 0zM162.49 264.33a2.0 2.0 0 1 0 4.0 0a2.0 2.0 0 1 0 -4.0 0zM163.03 258.49a2.0 2.0 0 1 0 4.0 0a2.0 2.0 0 1 0 -4.0 0zM163.57 264.11a2.0 2.0 0 1 0 4.0 0a2.0 2.0 0 1 0 -4.0 0zM164.11 266.79a2.0 2.0 0 1 0 4.0 0a2.0 2.0 0 1 0 -4.0 0zM164.65 260.92a2.0 2.0 0 1 0 4.0 0a2.0 2.0 0 1 0 -4.0 0zM165.19 264.22a2.0 2.0 0 1 0 4.0 0a2.0 2.0 0 1 0 -4.0 0zM165.73 265.84a2.0 2.0 0 1 0 4.0 0a2.0 2.0 0 1 0 -4.0 0zM166.27 262.47a2.0 2.0 0 1 0 4.0 0a2.0 2.0 0 1 0 -4.0 0zM166.81 267.15a2.0 2.0 0 1 0 4.0 0a2.0 2.0 0 1 0 -4.0 0zM167.35 262.24a2.0 2.0 0 1 0 4.0 0a2.0 2.0 0 1 0 -4.0 0zM167.89 268.23a2.0 2.0 0 1 0 4.0 0a2.0 2.0 0 1 0 -4.0 0zM168.43 271.01a2.0 2.0 0 1 0 4.0 0a2.0 2.0 0 1 0 -4.0 0zM168.97 267.34a2.0 2.0 0 1 0 4.0 0a2.0 2.0 0 1 0 -4.0 0zM169.5 272.1a2.0 2.0 0 1 0 4.0 0a2.0 2.0 0 1 0 -4.0 0zM170.04 266.72a2.0 2.0 0 1 0 4.0 0a2.0 2.0 0 1 0 -4.0 0zM170.58 272.01a2.0 2.0 0 1 0 4.0 0a2.0 2.0 0 1 0 -4.0 0zM171.12 271.57a2.0 2.0 0 1 0 4.0 0a2.0 2.0 0 1 0 -4.0 0zM171.66 271.14a2.0 2.0 0 1 0 4.0 0a2.0 2.0 0 1 0 -4.0 0zM172.2 266.22a2.0 2.0 0 1 0 4.0 0a2.0 2.0 0 1 0 -4.0 0zM172.74 266.17a2.0 2.0 0 1 0 4.0 0a2.0 2.0 0 1 0 -4.0 0zM173.28 262.79a2.0 2.0 0 1 0 4.0 0a2.0 2.0 0 1 0 -4.0 0zM173.82 270.43a2.0 2.0 0 1 0 4.0 0a2.0 2.0 0 1 0 -4.0 0zM174.36 273.21a2.0 2.0 0 1 0 4.0 0a2.0 2.0 0 1 0 -4.0 0zM174.9 271.54a2.0 2.0 0 1 0 4.0 0a2.0 2.0 0 1 0 -4.0 0zM175.44 273.24a2.0 2.0 0 1 0 4.0 0a2.0 2.0 0 1 0 -4.0 0zM175.98 274.7a2.0 2.0 0 1 0 4.0 0a2.0 2.0 0 1 0 -4.0 0zM176.52 275.15a2.0 2.0 0 1 0 4.0 0a2.0 2.0 0 1 0 -4.0 0zM177.06 271.58a2.0 2.0 0 1 0 4.0 0a2.0 2.0 0 1 0 -4.0 0zM177.6 268.95a2.0 2.0 0 1 0 4.0 0a2.0 2.0 0 1 0 -4.0 0zM178.14 273.63a2.0 2.0 0 1 0 4.0 0a2.0 2.0 0 1 0 -4.0 0zM178.68 275.61a2.0 2.0 0 1 0 4.0 0a2.0 2.0 0 1 0 -4.0 0zM179.22 271.19a2.0 2.0 0 1 0 4.0 0a2.0 2.0 0 1 0 -4.0 0zM179.76 274.14a2.0 2.0 0 1 0 4.0 0a2.0 2.0 0 1 0 -4.0 0zM180.3 274.02a2.0 2.0 0 1 0 4.0 0a2.0 2.0 0 1 0 -4.0 0zM180.84 273.36a2.0 2.0 0 1 0 4.0 0a2.0 2.0 0 1 0 -4.0 0zM181.37 273.75a2.0 2.0 0 1 0 4.0 0a2.0 2.0 0 1 0 -4.0 0zM181.91 273.97a2.0 2.0 0 1 0 4.0 0a2.0 2.0 0 1 0 -4.0 0zM182.45 276.02a2.0 2.0 0 1 0 4.0 0a2.0 2.0 0 1 0 -4.0 0zM182.99 273.16a2.0 2.0 0 1 0 4.0 0a2.0 2.0 0 1 0 -4.0 0zM183.53 274.63a2.0 2.0 0 1 0 4.0 0a2.0 2.0 0 1 0 -4.0 0zM184.07 273.07a2.0 2.0 0 1 0 4.0 0a2.0 2.0 0 1 0 -4.0 0zM184.61 275.9a2.0 2.0 0 1 0 4.0 0a2.0 2.0 0 1 0 -4.0 0zM185.15 266.3a2.0 2.0 0 1 0 4.0 0a2.0 2.0 0 1 0 -4.0 0zM185.69 275.61a2.0 2.0 0 1 0 4.0 0a2.0 2.0 0 1 0 -4.0 0zM186.23 272.7a2.0 2.0 0 1 0 4.0 0a2.0 2.0 0 1 0 -4.0 0zM186.77 275.34a2.0 2.0 0 1 0 4.0 0a2.0 2.0 0 1 0 -4.0 0zM187.31 275.62a2.0 2.0 0 1 0 4.0 0a2.0 2.0 0 1 0 -4.0 0zM187.85 275.74a2.0 2.0 0 1 0 4.0 0a2.0 2.0 0 1 0 -4.0 0zM188.39 275.49a2.0 2.0 0 1 0 4.0 0a2.0 2.0 0 1 0 -4.0 0zM188.93 270.82a2.0 2.0 0 1 0 4.0 0a2.0 2.0 0 1 0 -4.0 0zM189.47 276.36a2.0 2.0 0 1 0 4.0 0a2.0 2.0 0 1 0 -4.0 0zM190.01 273.56a2.0 2.0 0 1 0 4.0 0a2.0 2.0 0 1 0 -4.0 0zM190.55 276.36a2.0 2.0 0 1 0 4.0 0a2.0 2.0 0 1 0 -4.0 0zM191.09 276.32a2.0 2.0 0 1 0 4.0 0a2.0 2.0 0 1 0 -4.0 0zM191.63 275a2.0 2.0 0 1 0 4.0 0a2.0 2.0 0 1 0 -4.0 0zM192.17 275.01a2.0 2.0 0 1 0 4.0 0a2.0 2.0 0 1 0 -4.0 0zM192.7 276.87a2.0 2.0 0 1 0 4.0 0a2.0 2.0 0 1 0 -4.0 0zM193.24 276.07a2.0 2.0 0 1 0 4.0 0a2.0 2.0 0 1 0 -4.0 0zM193.78 275.46a2.0 2.0 0 1 0 4.0 0a2.0 2.0 0 1 0 -4.0 0zM194.32 276.37a2.0 2.0 0 1 0 4.0 0a2.0 2.0 0 1 0 -4.0 0zM194.86 278.01a2.0 2.0 0 1 0 4.0 0a2.0 2.0 0 1 0 -4.0 0zM195.4 275.61a2.0 2.0 0 1 0 4.0 0a2.0 2.0 0 1 0 -4.0 0zM195.94 275.5a2.0 2.0 0 1 0 4.0 0a2.0 2.0 0 1 0 -4.0 0zM196.48 276.07a2.0 2.0 0 1 0 4.0 0a2.0 2.0 0 1 0 -4.0 0zM197.02 277.41a2.0 2.0 0 1 0 4.0 0a2.0 2.0 0 1 0 -4.0 0zM197.56 276.87a2.0 2.0 0 1 0 4.0 0a2.0 2.0 0 1 0 -4.0 0zM198.1 277.44a2.0 2.0 0 1 0 4.0 0a2.0 2.0 0 1 0 -4.0 0zM198.64 277.48a2.0 2.0 0 1 0 4.0 0a2.0 2.0 0 1 0 -4.0 0zM199.18 276.48a2.0 2.0 0 1 0 4.0 0a2.0 2.0 0 1 0 -4.0 0zM199.72 276.57a2.0 2.0 0 1 0 4.0 0a2.0 2.0 0 1 0 -4.0 0zM200.26 277.4a2.0 2.0 0 1 0 4.0 0a2.0 2.0 0 1 0 -4.0 0zM200.8 277.5a2.0 2.0 0 1 0 4.0 0a2.0 2.0 0 1 0 -4.0 0zM201.34 277.32a2.0 2.0 0 1 0 4.0 0a2.0 2.0 0 1 0 -4.0 0zM201.88 277.77a2.0 2.0 0 1 0 4.0 0a2.0 2.0 0 1 0 -4.0 0zM202.42 277.85a2.0 2.0 0 1 0 4.0 0a2.0 2.0 0 1 0 -4.0 0zM202.96 278.4a2.0 2.0 0 1 0 4.0 0a2.0 2.0 0 1 0 -4.0 0zM203.5 278.13a2.0 2.0 0 1 0 4.0 0a2.0 2.0 0 1 0 -4.0 0zM204.03 276.62a2.0 2.0 0 1 0 4.0 0a2.0 2.0 0 1 0 -4.0 0zM204.57 277.67a2.0 2.0 0 1 0 4.0 0a2.0 2.0 0 1 0 -4.0 0zM205.11 278.49a2.0 2.0 0 1 0 4.0 0a2.0 2.0 0 1 0 -4.0 0zM205.65 278.48a2.0 2.0 0 1 0 4.0 0a2.0 2.0 0 1 0 -4.0 0zM206.19 278.66a2.0 2.0 0 1 0 4.0 0a2.0 2.0 0 1 0 -4.0 0zM206.73 277.79a2.0 2.0 0 1 0 4.0 0a2.0 2.0 0 1 0 -4.0 0zM207.27 277.84a2.0 2.0 0 1 0 4.0 0a2.0 2.0 0 1 0 -4.0 0zM207.81 279.22a2.0 2.0 0 1 0 4.0 0a2.0 2.0 0 1 0 -4.0 0zM208.35 278.13a2.0 2.0 0 1 0 4.0 0a2.0 2.0 0 1 0 -4.0 0zM208.89 279.05a2.0 2.0 0 1 0 4.0 0a2.0 2.0 0 1 0 -4.0 0zM209.43 277.94a2.0 2.0 0 1 0 4.0 0a2.0 2.0 0 1 0 -4.0 0zM209.97 278.9a2.0 2.0 0 1 0 4.0 0a2.0 2.0 0 1 0 -4.0 0zM210.51 277.98a2.0 2.0 0 1 0 4.0 0a2.0 2.0 0 1 0 -4.0 0zM211.05 279.38a2.0 2.0 0 1 0 4.0 0a2.0 2.0 0 1 0 -4.0 0zM211.59 279.26a2.0 2.0 0 1 0 4.0 0a2.0 2.0 0 1 0 -4.0 0zM212.13 278.88a2.0 2.0 0 1 0 4.0 0a2.0 2.0 0 1 0 -4.0 0zM212.67 278.4a2.0 2.0 0 1 0 4.0 0a2.0 2.0 0 1 0 -4.0 0zM213.21 278.69a2.0 2.0 0 1 0 4.0 0a2.0 2.0 0 1 0 -4.0 0zM213.75 279.76a2.0 2.0 0 1 0 4.0 0a2.0 2.0 0 1 0 -4.0 0zM214.29 278.93a2.0 2.0 0 1 0 4.0 0a2.0 2.0 0 1 0 -4.0 0zM214.83 279.07a2.0 2.0 0 1 0 4.0 0a2.0 2.0 0 1 0 -4.0 0zM215.37 279.4a2.0 2.0 0 1 0 4.0 0a2.0 2.0 0 1 0 -4.0 0zM215.9 279.61a2.0 2.0 0 1 0 4.0 0a2.0 2.0 0 1 0 -4.0 0zM216.44 278.33a2.0 2.0 0 1 0 4.0 0a2.0 2.0 0 1 0 -4.0 0zM216.98 279.6a2.0 2.0 0 1 0 4.0 0a2.0 2.0 0 1 0 -4.0 0zM217.52 279.91a2.0 2.0 0 1 0 4.0 0a2.0 2.0 0 1 0 -4.0 0zM218.06 279.17a2.0 2.0 0 1 0 4.0 0a2.0 2.0 0 1 0 -4.0 0zM218.6 279.54a2.0 2.0 0 1 0 4.0 0a2.0 2.0 0 1 0 -4.0 0zM219.14 279.77a2.0 2.0 0 1 0 4.0 0a2.0 2.0 0 1 0 -4.0 0zM219.68 279.42a2.0 2.0 0 1 0 4.0 0a2.0 2.0 0 1 0 -4.0 0zM220.22 279.66a2.0 2.0 0 1 0 4.0 0a2.0 2.0 0 1 0 -4.0 0zM220.76 279.76a2.0 2.0 0 1 0 4.0 0a2.0 2.0 0 1 0 -4.0 0zM221.3 279.44a2.0 2.0 0 1 0 4.0 0a2.0 2.0 0 1 0 -4.0 0zM221.84 279.73a2.0 2.0 0 1 0 4.0 0a2.0 2.0 0 1 0 -4.0 0zM222.38 280.11a2.0 2.0 0 1 0 4.0 0a2.0 2.0 0 1 0 -4.0 0zM222.92 279.91a2.0 2.0 0 1 0 4.0 0a2.0 2.0 0 1 0 -4.0 0zM223.46 279.94a2.0 2.0 0 1 0 4.0 0a2.0 2.0 0 1 0 -4.0 0zM224 279.59a2.0 2.0 0 1 0 4.0 0a2.0 2.0 0 1 0 -4.0 0zM224.54 280.16a2.0 2.0 0 1 0 4.0 0a2.0 2.0 0 1 0 -4.0 0zM225.08 280.17a2.0 2.0 0 1 0 4.0 0a2.0 2.0 0 1 0 -4.0 0zM225.62 279.78a2.0 2.0 0 1 0 4.0 0a2.0 2.0 0 1 0 -4.0 0zM226.16 280.24a2.0 2.0 0 1 0 4.0 0a2.0 2.0 0 1 0 -4.0 0zM226.7 280.3a2.0 2.0 0 1 0 4.0 0a2.0 2.0 0 1 0 -4.0 0zM227.23 279.91a2.0 2.0 0 1 0 4.0 0a2.0 2.0 0 1 0 -4.0 0zM227.77 280.37a2.0 2.0 0 1 0 4.0 0a2.0 2.0 0 1 0 -4.0 0zM228.31 279.97a2.0 2.0 0 1 0 4.0 0a2.0 2.0 0 1 0 -4.0 0zM228.85 280.37a2.0 2.0 0 1 0 4.0 0a2.0 2.0 0 1 0 -4.0 0zM229.39 280.36a2.0 2.0 0 1 0 4.0 0a2.0 2.0 0 1 0 -4.0 0zM229.93 280.36a2.0 2.0 0 1 0 4.0 0a2.0 2.0 0 1 0 -4.0 0zM230.47 280.39a2.0 2.0 0 1 0 4.0 0a2.0 2.0 0 1 0 -4.0 0zM231.01 280.43a2.0 2.0 0 1 0 4.0 0a2.0 2.0 0 1 0 -4.0 0zM231.55 280.43a2.0 2.0 0 1 0 4.0 0a2.0 2.0 0 1 0 -4.0 0zM232.09 280.43a2.0 2.0 0 1 0 4.0 0a2.0 2.0 0 1 0 -4.0 0zM232.63 280.43a2.0 2.0 0 1 0 4.0 0a2.0 2.0 0 1 0 -4.0 0z" fill="#4c72b0"/>
<polyline points="154.24,262.75 154.78,263.55 155.32,264.99 155.86,266.84 156.4,268.81 156.94,270.63 157.48,272.11 158.02,273.13 158.56,273.56 159.1,273.32 159.64,272.29 160.17,270.36 160.71,267.48 161.25,263.77 161.79,259.61 162.33,255.61 162.87,252.52 163.41,250.95 163.95,251.12 164.49,252.76 165.03,255.26 165.57,257.92 166.11,260.26 166.65,262.04 167.19,263.31 167.73,264.22 168.27,264.97 168.81,265.67 169.35,266.39 169.89,267.13 170.43,267.84 170.97,268.46 171.5,268.92 172.04,269.19 172.58,269.27 173.12,269.19 173.66,269.04 174.2,268.93 174.74,269 175.28,269.31 175.82,269.86 176.36,270.56 176.9,271.28 177.44,271.9 177.98,272.34 178.52,272.62 179.06,272.77 179.6,272.87 180.14,272.97 180.68,273.11 181.22,273.26 181.76,273.44 182.3,273.6 182.84,273.75 183.37,273.86 183.91,273.92 184.45,273.91 184.99,273.83 185.53,273.7 186.07,273.57 186.61,273.49 187.15,273.51 187.69,273.63 188.23,273.84 188.77,274.09 189.31,274.31 189.85,274.49 190.39,274.62 190.93,274.73 191.47,274.86 192.01,275.02 192.55,275.2 193.09,275.39 193.63,275.57 194.17,275.74 194.7,275.89 195.24,276.02 195.78,276.13 196.32,276.23 196.86,276.31 197.4,276.39 197.94,276.48 198.48,276.59 199.02,276.7 199.56,276.81 200.1,276.91 200.64,277 201.18,277.09 201.72,277.17 202.26,277.27 202.8,277.38 203.34,277.49 203.88,277.6 204.42,277.69 204.96,277.76 205.5,277.83 206.03,277.89 206.57,277.97 207.11,278.05 207.65,278.13 208.19,278.21 208.73,278.28 209.27,278.35 209.81,278.41 210.35,278.47 210.89,278.52 211.43,278.58 211.97,278.64 212.51,278.71 213.05,278.77 213.59,278.83 214.13,278.89 214.67,278.95 215.21,279 215.75,279.06 216.29,279.11 216.83,279.16 217.37,279.21 217.9,279.26 218.44,279.31 218.98,279.36 219.52,279.41 220.06,279.46 220.6,279.51 221.14,279.56 221.68,279.6 222.22,279.64 222.76,279.68 223.3,279.72 223.84,279.77 224.38,279.82 224.92,279.86 225.46,279.9 226,279.94 226.54,279.98 227.08,280.02 227.62,280.05 228.16,280.09 228.7,280.13 229.23,280.16 229.77,280.2 230.31,280.23 230.85,280.27 231.39,280.3 231.93,280.34 232.47,280.37 233.01,280.39 233.55,280.4 234.09,280.41 234.63,280.42" fill="none" stroke="#dd8452" stroke-width="1.6" stroke-dasharray="1.5 2.33"/>
<clipPath id="c7"><rect x="275.72" y="167.85" width="87.75" height="117.7"/></clipPath>
<rect x="275.72" y="167.85" width="87.75" height="117.7" fill="#eaeaf2"/>
<path d="M279.4 167.85V285.55M333.35 167.85V285.55M275.72 181.2H363.47M275.72 208.4H363.47M275.72 235.6H363.47M275.72 262.8H363.47" stroke="#fff" stroke-width="0.6" fill="none" clip-path="url(#c7)"/>
<polyline points="279.4,190.18 279.94,192.62 280.48,196.16 281.02,198.43 281.56,203.42 282.1,196.08 282.64,201.5 283.18,227.98 283.72,215.55 284.26,173.31 284.8,233.14 285.33,222.37 285.87,242.31 286.41,250.83 286.95,246.18 287.49,249.34 288.03,240.53 288.57,245.82 289.11,244.45 289.65,245.34 290.19,238.86 290.73,261.44 291.27,249 291.81,222.95 292.35,260.33 292.89,256.03 293.43,252.63 293.97,247.84 294.51,257.51 295.05,262.67 295.59,270.69 296.13,262.5 296.66,262.21 297.2,262.17 297.74,263.63 298.28,265.97 298.82,261.25 299.36,268.82 299.9,266.02 300.44,249.47 300.98,269.53 301.52,266.41 302.06,274.77 302.6,269.63 303.14,271.92 303.68,269.7 304.22,264.89 304.76,267.03 305.3,279.44 305.84,264.13 306.38,275.6 306.92,275.4 307.46,268.83 308,275.78 308.53,265.73 309.07,269.71 309.61,275.69 310.15,278.96 310.69,272.11 311.23,269.49 311.77,274.11 312.31,242.94 312.85,279.39 313.39,271.71 313.93,274.62 314.47,271.58 315.01,272.91 315.55,277.94 316.09,259.81 316.63,274.16 317.17,274.5 317.71,271.99 318.25,275.84 318.79,264.16 319.33,274.66 319.86,278.26 320.4,279.66 320.94,274.44 321.48,276.95 322.02,273.7 322.56,275.23 323.1,278.26 323.64,276.07 324.18,276.6 324.72,276.03 325.26,275.95 325.8,275.03 326.34,278.7 326.88,275.67 327.42,277.21 327.96,274.08 328.5,278.14 329.04,279.56 329.58,277.87 330.12,272.68 330.66,276.27 331.19,278.69 331.73,273.55 332.27,278.46 332.81,277.77 333.35,279.66 333.89,275.75 334.43,276.25 334.97,276.93 335.51,276.13 336.05,274.04 336.59,278.93 337.13,277.95 337.67,274.31 338.21,272.21 338.75,280.48 339.29,276.42 339.83,273.92 340.37,277.2 340.91,277.47 341.45,273.46 341.99,276.25 342.53,276.04 343.06,275.5 343.6,277.18 344.14,279.38 344.68,273.69 345.22,273.32 345.76,276.26 346.3,276.85 346.84,275.06 347.38,275.66 347.92,277.92 348.46,276.58 349,273.52 349.54,275.03 350.08,277.29 350.62,277.37 351.16,273.5 351.7,278.1 352.24,273.65 352.78,274.87 353.32,277.49 353.86,276.45 354.39,275.88 354.93,275.85 355.47,276.3 356.01,274.43 356.55,275.1 357.09,277.09 357.63,275.95 358.17,276.53 358.71,275.31 359.25,273.89 359.79,277.6" fill="none" stroke="#4c72b0" stroke-width="1.5" stroke-linejoin="round"/>
<path d="M277.4 190.18a2.0 2.0 0 1 0 4.0 0a2.0 2.0 0 1 0 -4.0 0zM277.94 192.62a2.0 2.0 0 1 0 4.0 0a2.0 2.0 0 1 0 -4.0 0zM278.48 196.16a2.0 2.0 0 1 0 4.0 0a2.0 2.0 0 1 0 -4.0 0zM279.02 198.43a2.0 2.0 0 1 0 4.0 0a2.0 2.0 0 1 0 -4.0 0zM279.56 203.42a2.0 2.0 0 1 0 4.0 0a2.0 2.0 0 1 0 -4.0 0zM280.1 196.08a2.0 2.0 0 1 0 4.0 0a2.0 2.0 0 1 0 -4.0 0zM280.64 201.5a2.0 2.0 0 1 0 4.0 0a2.0 2.0 0 1 0 -4.0 0zM281.18 227.98a2.0 2.0 0 1 0 4.0 0a2.0 2.0 0 1 0 -4.0 0zM281.72 215.55a2.0 2.0 0 1 0 4.0 0a2.0 2.0 0 1 0 -4.0 0zM282.26 173.31a2.0 2.0 0 1 0 4.0 0a2.0 2.0 0 1 0 -4.0 0zM282.8 233.14a2.0 2.0 0 1 0 4.0 0a2.0 2.0 0 1 0 -4.0 0zM283.33 222.37a2.0 2.0 0 1 0 4.0 0a2.0 2.0 0 1 0 -4.0 0zM283.87 242.31a2.0 2.0 0 1 0 4.0 0a2.0 2.0 0 1 0 -4.0 0zM284.41 250.83a2.0 2.0 0 1 0 4.0 0a2.0 2.0 0 1 0 -4.0 0zM284.95 246.18a2.0 2.0 0 1 0 4.0 0a2.0 2.0 0 1 0 -4.0 0zM285.49 249.34a2.0 2.0 0 1 0 4.0 0a2.0 2.0 0 1 0 -4.0 0zM286.03 240.53a2.0 2.0 0 1 0 4.0 0a2.0 2.0 0 1 0 -4.0 0zM286.57 245.82a2.0 2.0 0 1 0 4.0 0a2.0 2.0 0 1 0 -4.0 0zM287.11 244.45a2.0 2.0 0 1 0 4.0 0a2.0 2.0 0 1 0 -4.0 0zM287.65 245.34a2.0 2.0 0 1 0 4.0 0a2.0 2.0 0 1 0 -4.0 0zM288.19 238.86a2.0 2.0 0 1 0 4.0 0a2.0 2.0 0 1 0 -4.0 0zM288.73 261.44a2.0 2.0 0 1 0 4.0 0a2.0 2.0 0 1 0 -4.0 0zM289.27 249a2.0 2.0 0 1 0 4.0 0a2.0 2.0 0 1 0 -4.0 0zM289.81 222.95a2.0 2.0 0 1 0 4.0 0a2.0 2.0 0 1 0 -4.0 0zM290.35 260.33a2.0 2.0 0 1 0 4.0 0a2.0 2.0 0 1 0 -4.0 0zM290.89 256.03a2.0 2.0 0 1 0 4.0 0a2.0 2.0 0 1 0 -4.0 0zM291.43 252.63a2.0 2.0 0 1 0 4.0 0a2.0 2.0 0 1 0 -4.0 0zM291.97 247.84a2.0 2.0 0 1 0 4.0 0a2.0 2.0 0 1 0 -4.0 0zM292.51 257.51a2.0 2.0 0 1 0 4.0 0a2.0 2.0 0 1 0 -4.0 0zM293.05 262.67a2.0 2.0 0 1 0 4.0 0a2.0 2.0 0 1 0 -4.0 0zM293.59 270.69a2.0 2.0 0 1 0 4.0 0a2.0 2.0 0 1 0 -4.0 0zM294.13 262.5a2.0 2.0 0 1 0 4.0 0a2.0 2.0 0 1 0 -4.0 0zM294.66 262.21a2.0 2.0 0 1 0 4.0 0a2.0 2.0 0 1 0 -4.0 0zM295.2 262.17a2.0 2.0 0 1 0 4.0 0a2.0 2.0 0 1 0 -4.0 0zM295.74 263.63a2.0 2.0 0 1 0 4.0 0a2.0 2.0 0 1 0 -4.0 0zM296.28 265.97a2.0 2.0 0 1 0 4.0 0a2.0 2.0 0 1 0 -4.0 0zM296.82 261.25a2.0 2.0 0 1 0 4.0 0a2.0 2.0 0 1 0 -4.0 0zM297.36 268.82a2.0 2.0 0 1 0 4.0 0a2.0 2.0 0 1 0 -4.0 0zM297.9 266.02a2.0 2.0 0 1 0 4.0 0a2.0 2.0 0 1 0 -4.0 0zM298.44 249.47a2.0 2.0 0 1 0 4.0 0a2.0 2.0 0 1 0 -4.0 0zM298.98 269.53a2.0 2.0 0 1 0 4.0 0a2.0 2.0 0 1 0 -4.0 0zM299.52 266.41a2.0 2.0 0 1 0 4.0 0a2.0 2.0 0 1 0 -4.0 0zM300.06 274.77a2.0 2.0 0 1 0 4.0 0a2.0 2.0 0 1 0 -4.0 0zM300.6 269.63a2.0 2.0 0 1 0 4.0 0a2.0 2.0 0 1 0 -4.0 0zM301.14 271.92a2.0 2.0 0 1 0 4.0 0a2.0 2.0 0 1 0 -4.0 0zM301.68 269.7a2.0 2.0 0 1 0 4.0 0a2.0 2.0 0 1 0 -4.0 0zM302.22 264.89a2.0 2.0 0 1 0 4.0 0a2.0 2.0 0 1 0 -4.0 0zM302.76 267.03a2.0 2.0 0 1 0 4.0 0a2.0 2.0 0 1 0 -4.0 0zM303.3 279.44a2.0 2.0 0 1 0 4.0 0a2.0 2.0 0 1 0 -4.0 0zM303.84 264.13a2.0 2.0 0 1 0 4.0 0a2.0 2.0 0 1 0 -4.0 0zM304.38 275.6a2.0 2.0 0 1 0 4.0 0a2.0 2.0 0 1 0 -4.0 0zM304.92 275.4a2.0 2.0 0 1 0 4.0 0a2.0 2.0 0 1 0 -4.0 0zM305.46 268.83a2.0 2.0 0 1 0 4.0 0a2.0 2.0 0 1 0 -4.0 0zM306 275.78a2.0 2.0 0 1 0 4.0 0a2.0 2.0 0 1 0 -4.0 0zM306.53 265.73a2.0 2.0 0 1 0 4.0 0a2.0 2.0 0 1 0 -4.0 0zM307.07 269.71a2.0 2.0 0 1 0 4.0 0a2.0 2.0 0 1 0 -4.0 0zM307.61 275.69a2.0 2.0 0 1 0 4.0 0a2.0 2.0 0 1 0 -4.0 0zM308.15 278.96a2.0 2.0 0 1 0 4.0 0a2.0 2.0 0 1 0 -4.0 0zM308.69 272.11a2.0 2.0 0 1 0 4.0 0a2.0 2.0 0 1 0 -4.0 0zM309.23 269.49a2.0 2.0 0 1 0 4.0 0a2.0 2.0 0 1 0 -4.0 0zM309.77 274.11a2.0 2.0 0 1 0 4.0 0a2.0 2.0 0 1 0 -4.0 0zM310.31 242.94a2.0 2.0 0 1 0 4.0 0a2.0 2.0 0 1 0 -4.0 0zM310.85 279.39a2.0 2.0 0 1 0 4.0 0a2.0 2.0 0 1 0 -4.0 0zM311.39 271.71a2.0 2.0 0 1 0 4.0 0a2.0 2.0 0 1 0 -4.0 0zM311.93 274.62a2.0 2.0 0 1 0 4.0 0a2.0 2.0 0 1 0 -4.0 0zM312.47 271.58a2.0 2.0 0 1 0 4.0 0a2.0 2.0 0 1 0 -4.0 0zM313.01 272.91a2.0 2.0 0 1 0 4.0 0a2.0 2.0 0 1 0 -4.0 0zM313.55 277.94a2.0 2.0 0 1 0 4.0 0a2.0 2.0 0 1 0 -4.0 0zM314.09 259.81a2.0 2.0 0 1 0 4.0 0a2.0 2.0 0 1 0 -4.0 0zM314.63 274.16a2.0 2.0 0 1 0 4.0 0a2.0 2.0 0 1 0 -4.0 0zM315.17 274.5a2.0 2.0 0 1 0 4.0 0a2.0 2.0 0 1 0 -4.0 0zM315.71 271.99a2.0 2.0 0 1 0 4.0 0a2.0 2.0 0 1 0 -4.0 0zM316.25 275.84a2.0 2.0 0 1 0 4.0 0a2.0 2.0 0 1 0 -4.0 0zM316.79 264.16a2.0 2.0 0 1 0 4.0 0a2.0 2.0 0 1 0 -4.0 0zM317.33 274.66a2.0 2.0 0 1 0 4.0 0a2.0 2.0 0 1 0 -4.0 0zM317.86 278.26a2.0 2.0 0 1 0 4.0 0a2.0 2.0 0 1 0 -4.0 0zM318.4 279.66a2.0 2.0 0 1 0 4.0 0a2.0 2.0 0 1 0 -4.0 0zM318.94 274.44a2.0 2.0 0 1 0 4.0 0a2.0 2.0 0 1 0 -4.0 0zM319.48 276.95a2.0 2.0 0 1 0 4.0 0a2.0 2.0 0 1 0 -4.0 0zM320.02 273.7a2.0 2.0 0 1 0 4.0 0a2.0 2.0 0 1 0 -4.0 0zM320.56 275.23a2.0 2.0 0 1 0 4.0 0a2.0 2.0 0 1 0 -4.0 0zM321.1 278.26a2.0 2.0 0 1 0 4.0 0a2.0 2.0 0 1 0 -4.0 0zM321.64 276.07a2.0 2.0 0 1 0 4.0 0a2.0 2.0 0 1 0 -4.0 0zM322.18 276.6a2.0 2.0 0 1 0 4.0 0a2.0 2.0 0 1 0 -4.0 0zM322.72 276.03a2.0 2.0 0 1 0 4.0 0a2.0 2.0 0 1 0 -4.0 0zM323.26 275.95a2.0 2.0 0 1 0 4.0 0a2.0 2.0 0 1 0 -4.0 0zM323.8 275.03a2.0 2.0 0 1 0 4.0 0a2.0 2.0 0 1 0 -4.0 0zM324.34 278.7a2.0 2.0 0 1 0 4.0 0a2.0 2.0 0 1 0 -4.0 0zM324.88 275.67a2.0 2.0 0 1 0 4.0 0a2.0 2.0 0 1 0 -4.0 0zM325.42 277.21a2.0 2.0 0 1 0 4.0 0a2.0 2.0 0 1 0 -4.0 0zM325.96 274.08a2.0 2.0 0 1 0 4.0 0a2.0 2.0 0 1 0 -4.0 0zM326.5 278.14a2.0 2.0 0 1 0 4.0 0a2.0 2.0 0 1 0 -4.0 0zM327.04 279.56a2.0 2.0 0 1 0 4.0 0a2.0 2.0 0 1 0 -4.0 0zM327.58 277.87a2.0 2.0 0 1 0 4.0 0a2.0 2.0 0 1 0 -4.0 0zM328.12 272.68a2.0 2.0 0 1 0 4.0 0a2.0 2.0 0 1 0 -4.0 0zM328.66 276.27a2.0 2.0 0 1 0 4.0 0a2.0 2.0 0 1 0 -4.0 0zM329.19 278.69a2.0 2.0 0 1 0 4.0 0a2.0 2.0 0 1 0 -4.0 0zM329.73 273.55a2.0 2.0 0 1 0 4.0 0a2.0 2.0 0 1 0 -4.0 0zM330.27 278.46a2.0 2.0 0 1 0 4.0 0a2.0 2.0 0 1 0 -4.0 0zM330.81 277.77a2.0 2.0 0 1 0 4.0 0a2.0 2.0 0 1 0 -4.0 0zM331.35 279.66a2.0 2.0 0 1 0 4.0 0a2.0 2.0 0 1 0 -4.0 0zM331.89 275.75a2.0 2.0 0 1 0 4.0 0a2.0 2.0 0 1 0 -4.0 0zM332.43 276.25a2.0 2.0 0 1 0 4.0 0a2.0 2.0 0 1 0 -4.0 0zM332.97 276.93a2.0 2.0 0 1 0 4.0 0a2.0 2.0 0 1 0 -4.0 0zM333.51 276.13a2.0 2.0 0 1 0 4.0 0a2.0 2.0 0 1 0 -4.0 0zM334.05 274.04a2.0 2.0 0 1 0 4.0 0a2.0 2.0 0 1 0 -4.0 0zM334.59 278.93a2.0 2.0 0 1 0 4.0 0a2.0 2.0 0 1 0 -4.0 0zM335.13 277.95a2.0 2.0 0 1 0 4.0 0a2.0 2.0 0 1 0 -4.0 0zM335.67 274.31a2.0 2.0 0 1 0 4.0 0a2.0 2.0 0 1 0 -4.0 0zM336.21 272.21a2.0 2.0 0 1 0 4.0 0a2.0 2.0 0 1 0 -4.0 0zM336.75 280.48a2.0 2.0 0 1 0 4.0 0a2.0 2.0 0 1 0 -4.0 0zM337.29 276.42a2.0 2.0 0 1 0 4.0 0a2.0 2.0 0 1 0 -4.0 0zM337.83 273.92a2.0 2.0 0 1 0 4.0 0a2.0 2.0 0 1 0 -4.0 0zM338.37 277.2a2.0 2.0 0 1 0 4.0 0a2.0 2.0 0 1 0 -4.0 0zM338.91 277.47a2.0 2.0 0 1 0 4.0 0a2.0 2.0 0 1 0 -4.0 0zM339.45 273.46a2.0 2.0 0 1 0 4.0 0a2.0 2.0 0 1 0 -4.0 0zM339.99 276.25a2.0 2.0 0 1 0 4.0 0a2.0 2.0 0 1 0 -4.0 0zM340.53 276.04a2.0 2.0 0 1 0 4.0 0a2.0 2.0 0 1 0 -4.0 0zM341.06 275.5a2.0 2.0 0 1 0 4.0 0a2.0 2.0 0 1 0 -4.0 0zM341.6 277.18a2.0 2.0 0 1 0 4.0 0a2.0 2.0 0 1 0 -4.0 0zM342.14 279.38a2.0 2.0 0 1 0 4.0 0a2.0 2.0 0 1 0 -4.0 0zM342.68 273.69a2.0 2.0 0 1 0 4.0 0a2.0 2.0 0 1 0 -4.0 0zM343.22 273.32a2.0 2.0 0 1 0 4.0 0a2.0 2.0 0 1 0 -4.0 0zM343.76 276.26a2.0 2.0 0 1 0 4.0 0a2.0 2.0 0 1 0 -4.0 0zM344.3 276.85a2.0 2.0 0 1 0 4.0 0a2.0 2.0 0 1 0 -4.0 0zM344.84 275.06a2.0 2.0 0 1 0 4.0 0a2.0 2.0 0 1 0 -4.0 0zM345.38 275.66a2.0 2.0 0 1 0 4.0 0a2.0 2.0 0 1 0 -4.0 0zM345.92 277.92a2.0 2.0 0 1 0 4.0 0a2.0 2.0 0 1 0 -4.0 0zM346.46 276.58a2.0 2.0 0 1 0 4.0 0a2.0 2.0 0 1 0 -4.0 0zM347 273.52a2.0 2.0 0 1 0 4.0 0a2.0 2.0 0 1 0 -4.0 0zM347.54 275.03a2.0 2.0 0 1 0 4.0 0a2.0 2.0 0 1 0 -4.0 0zM348.08 277.29a2.0 2.0 0 1 0 4.0 0a2.0 2.0 0 1 0 -4.0 0zM348.62 277.37a2.0 2.0 0 1 0 4.0 0a2.0 2.0 0 1 0 -4.0 0zM349.16 273.5a2.0 2.0 0 1 0 4.0 0a2.0 2.0 0 1 0 -4.0 0zM349.7 278.1a2.0 2.0 0 1 0 4.0 0a2.0 2.0 0 1 0 -4.0 0zM350.24 273.65a2.0 2.0 0 1 0 4.0 0a2.0 2.0 0 1 0 -4.0 0zM350.78 274.87a2.0 2.0 0 1 0 4.0 0a2.0 2.0 0 1 0 -4.0 0zM351.32 277.49a2.0 2.0 0 1 0 4.0 0a2.0 2.0 0 1 0 -4.0 0zM351.86 276.45a2.0 2.0 0 1 0 4.0 0a2.0 2.0 0 1 0 -4.0 0zM352.39 275.88a2.0 2.0 0 1 0 4.0 0a2.0 2.0 0 1 0 -4.0 0zM352.93 275.85a2.0 2.0 0 1 0 4.0 0a2.0 2.0 0 1 0 -4.0 0zM353.47 276.3a2.0 2.0 0 1 0 4.0 0a2.0 2.0 0 1 0 -4.0 0zM354.01 274.43a2.0 2.0 0 1 0 4.0 0a2.0 2.0 0 1 0 -4.0 0zM354.55 275.1a2.0 2.0 0 1 0 4.0 0a2.0 2.0 0 1 0 -4.0 0zM355.09 277.09a2.0 2.0 0 1 0 4.0 0a2.0 2.0 0 1 0 -4.0 0zM355.63 275.95a2.0 2.0 0 1 0 4.0 0a2.0 2.0 0 1 0 -4.0 0zM356.17 276.53a2.0 2.0 0 1 0 4.0 0a2.0 2.0 0 1 0 -4.0 0zM356.71 275.31a2.0 2.0 0 1 0 4.0 0a2.0 2.0 0 1 0 -4.0 0zM357.25 273.89a2.0 2.0 0 1 0 4.0 0a2.0 2.0 0 1 0 -4.0 0zM357.79 277.6a2.0 2.0 0 1 0 4.0 0a2.0 2.0 0 1 0 -4.0 0z" fill="#4c72b0"/>
<polyline points="279.4,195.36 279.94,196.03 280.48,197.29 281.02,199.05 281.56,201.17 282.1,203.58 282.64,206.25 283.18,209.3 283.72,212.87 284.26,217.08 284.8,221.91 285.33,227.06 285.87,232.09 286.41,236.5 286.95,239.95 287.49,242.36 288.03,243.88 288.57,244.79 289.11,245.36 289.65,245.83 290.19,246.32 290.73,246.92 291.27,247.71 291.81,248.76 292.35,250.1 292.89,251.73 293.43,253.59 293.97,255.57 294.51,257.53 295.05,259.33 295.59,260.84 296.13,261.98 296.66,262.77 297.2,263.26 297.74,263.56 298.28,263.75 298.82,263.92 299.36,264.16 299.9,264.57 300.44,265.2 300.98,266.03 301.52,266.98 302.06,267.89 302.6,268.66 303.14,269.25 303.68,269.68 304.22,270.05 304.76,270.42 305.3,270.8 305.84,271.18 306.38,271.49 306.92,271.71 307.46,271.85 308,271.93 308.53,271.98 309.07,271.94 309.61,271.77 310.15,271.4 310.69,270.87 311.23,270.29 311.77,269.84 312.31,269.69 312.85,269.88 313.39,270.32 313.93,270.84 314.47,271.28 315.01,271.58 315.55,271.73 316.09,271.83 316.63,271.95 317.17,272.16 317.71,272.49 318.25,272.93 318.79,273.48 319.33,274.09 319.86,274.68 320.4,275.19 320.94,275.57 321.48,275.82 322.02,275.97 322.56,276.07 323.1,276.14 323.64,276.2 324.18,276.25 324.72,276.3 325.26,276.34 325.8,276.4 326.34,276.47 326.88,276.55 327.42,276.63 327.96,276.7 328.5,276.74 329.04,276.73 329.58,276.71 330.12,276.68 330.66,276.68 331.19,276.73 331.73,276.82 332.27,276.92 332.81,276.98 333.35,276.97 333.89,276.9 334.43,276.78 334.97,276.64 335.51,276.52 336.05,276.41 336.59,276.32 337.13,276.25 337.67,276.2 338.21,276.16 338.75,276.13 339.29,276.11 339.83,276.08 340.37,276.05 340.91,276.03 341.45,276.01 341.99,276.02 342.53,276.04 343.06,276.05 343.6,276.03 344.14,275.98 344.68,275.91 345.22,275.85 345.76,275.82 346.3,275.83 346.84,275.86 347.38,275.89 347.92,275.91 348.46,275.9 349,275.89 349.54,275.87 350.08,275.85 350.62,275.84 351.16,275.83 351.7,275.82 352.24,275.83 352.78,275.86 353.32,275.88 353.86,275.9 354.39,275.89 354.93,275.87 355.47,275.84 356.01,275.83 356.55,275.82 357.09,275.83 357.63,275.85 358.17,275.86 358.71,275.87 359.25,275.87 359.79,275.87" fill="none" stroke="#dd8452" stroke-width="1.6" stroke-dasharray="1.5 2.33"/>
<clipPath id="c8"><rect x="400.88" y="167.85" width="87.75" height="117.7"/></clipPath>
<rect x="400.88" y="167.85" width="87.75" height="117.7" fill="#eaeaf2"/>
<path d="M404.56 167.85V285.55M458.51 167.85V285.55M400.88 195.8H488.63M400.88 223.9H488.63M400.88 252H488.63M400.88 280.1H488.63" stroke="#fff" stroke-width="0.6" fill="none" clip-path="url(#c8)"/>
<polyline points="404.56,280.1 405.1,279.96 405.64,279.82 406.18,279.54 406.72,279.12 407.26,278.7 407.8,278.71 408.34,278.27 408.88,277.02 409.42,277.27 409.96,271.01 410.49,265.42 411.03,269.35 411.57,268.21 412.11,252 412.65,270.38 413.19,251.58 413.73,274.39 414.27,278.7 414.81,255.86 415.35,255.9 415.89,244.98 416.43,250.31 416.97,251.06 417.51,258.88 418.05,249.95 418.59,243.16 419.13,239.07 419.67,221.79 420.21,247.93 420.75,233.6 421.29,215.99 421.82,241.95 422.36,240.62 422.9,226.18 423.44,224.4 423.98,220.92 424.52,222.01 425.06,219.67 425.6,216.81 426.14,224.6 426.68,217.21 427.22,216.73 427.76,210.36 428.3,207.46 428.84,216.41 429.38,201.29 429.92,208.54 430.46,208.96 431,198.51 431.54,208.28 432.08,203.25 432.62,203.55 433.16,194.68 433.69,213.89 434.23,199.41 434.77,202.94 435.31,202.85 435.85,194.26 436.39,202.77 436.93,188.52 437.47,233.1 438.01,184.28 438.55,199.02 439.09,195.6 439.63,188.52 440.17,198.03 440.71,195.51 441.25,210.55 441.79,182.07 442.33,200.03 442.87,187.53 443.41,188.8 443.95,181.75 444.49,206.48 445.02,186.57 445.56,191.24 446.1,188 446.64,185.88 447.18,186.02 447.72,190.79 448.26,189.93 448.8,188.7 449.34,185.98 449.88,187.92 450.42,184.43 450.96,185.51 451.5,189.9 452.04,181.84 452.58,185.19 453.12,192.57 453.66,183.06 454.2,181.15 454.74,183.39 455.28,183.3 455.82,186.96 456.35,180.71 456.89,183.23 457.43,183.83 457.97,180.59 458.51,181.51 459.05,181.51 459.59,180.49 460.13,180.61 460.67,182.06 461.21,182.08 461.75,178.27 462.29,177.89 462.83,178.61 463.37,184.56 463.91,177.89 464.45,177.65 464.99,178.82 465.53,177.82 466.07,177.85 466.61,179.91 467.15,177.78 467.69,180.62 468.22,173.74 468.76,177.8 469.3,178.97 469.84,174.73 470.38,178.73 470.92,174.87 471.46,181.75 472,175.8 472.54,178.23 473.08,173.62 473.62,177.74 474.16,174.36 474.7,177.06 475.24,178.27 475.78,177.4 476.32,174.32 476.86,176.99 477.4,176.15 477.94,174.38 478.48,174.79 479.02,177.58 479.55,176.53 480.09,174 480.63,176.69 481.17,172.34 481.71,175.14 482.25,176.67 482.79,174.34 483.33,175.27 483.87,174.15 484.41,175.02 484.95,172.64" fill="none" stroke="#4c72b0" stroke-width="1.5" stroke-linejoin="round"/>
<path d="M402.56 280.1a2.0 2.0 0 1 0 4.0 0a2.0 2.0 0 1 0 -4.0 0zM403.1 279.96a2.0 2.0 0 1 0 4.0 0a2.0 2.0 0 1 0 -4.0 0zM403.64 279.82a2.0 2.0 0 1 0 4.0 0a2.0 2.0 0 1 0 -4.0 0zM404.18 279.54a2.0 2.0 0 1 0 4.0 0a2.0 2.0 0 1 0 -4.0 0zM404.72 279.12a2.0 2.0 0 1 0 4.0 0a2.0 2.0 0 1 0 -4.0 0zM405.26 278.7a2.0 2.0 0 1 0 4.0 0a2.0 2.0 0 1 0 -4.0 0zM405.8 278.71a2.0 2.0 0 1 0 4.0 0a2.0 2.0 0 1 0 -4.0 0zM406.34 278.27a2.0 2.0 0 1 0 4.0 0a2.0 2.0 0 1 0 -4.0 0zM406.88 277.02a2.0 2.0 0 1 0 4.0 0a2.0 2.0 0 1 0 -4.0 0zM407.42 277.27a2.0 2.0 0 1 0 4.0 0a2.0 2.0 0 1 0 -4.0 0zM407.96 271.01a2.0 2.0 0 1 0 4.0 0a2.0 2.0 0 1 0 -4.0 0zM408.49 265.42a2.0 2.0 0 1 0 4.0 0a2.0 2.0 0 1 0 -4.0 0zM409.03 269.35a2.0 2.0 0 1 0 4.0 0a2.0 2.0 0 1 0 -4.0 0zM409.57 268.21a2.0 2.0 0 1 0 4.0 0a2.0 2.0 0 1 0 -4.0 0zM410.11 252a2.0 2.0 0 1 0 4.0 0a2.0 2.0 0 1 0 -4.0 0zM410.65 270.38a2.0 2.0 0 1 0 4.0 0a2.0 2.0 0 1 0 -4.0 0zM411.19 251.58a2.0 2.0 0 1 0 4.0 0a2.0 2.0 0 1 0 -4.0 0zM411.73 274.39a2.0 2.0 0 1 0 4.0 0a2.0 2.0 0 1 0 -4.0 0zM412.27 278.7a2.0 2.0 0 1 0 4.0 0a2.0 2.0 0 1 0 -4.0 0zM412.81 255.86a2.0 2.0 0 1 0 4.0 0a2.0 2.0 0 1 0 -4.0 0zM413.35 255.9a2.0 2.0 0 1 0 4.0 0a2.0 2.0 0 1 0 -4.0 0zM413.89 244.98a2.0 2.0 0 1 0 4.0 0a2.0 2.0 0 1 0 -4.0 0zM414.43 250.31a2.0 2.0 0 1 0 4.0 0a2.0 2.0 0 1 0 -4.0 0zM414.97 251.06a2.0 2.0 0 1 0 4.0 0a2.0 2.0 0 1 0 -4.0 0zM415.51 258.88a2.0 2.0 0 1 0 4.0 0a2.0 2.0 0 1 0 -4.0 0zM416.05 249.95a2.0 2.0 0 1 0 4.0 0a2.0 2.0 0 1 0 -4.0 0zM416.59 243.16a2.0 2.0 0 1 0 4.0 0a2.0 2.0 0 1 0 -4.0 0zM417.13 239.07a2.0 2.0 0 1 0 4.0 0a2.0 2.0 0 1 0 -4.0 0zM417.67 221.79a2.0 2.0 0 1 0 4.0 0a2.0 2.0 0 1 0 -4.0 0zM418.21 247.93a2.0 2.0 0 1 0 4.0 0a2.0 2.0 0 1 0 -4.0 0zM418.75 233.6a2.0 2.0 0 1 0 4.0 0a2.0 2.0 0 1 0 -4.0 0zM419.29 215.99a2.0 2.0 0 1 0 4.0 0a2.0 2.0 0 1 0 -4.0 0zM419.82 241.95a2.0 2.0 0 1 0 4.0 0a2.0 2.0 0 1 0 -4.0 0zM420.36 240.62a2.0 2.0 0 1 0 4.0 0a2.0 2.0 0 1 0 -4.0 0zM420.9 226.18a2.0 2.0 0 1 0 4.0 0a2.0 2.0 0 1 0 -4.0 0zM421.44 224.4a2.0 2.0 0 1 0 4.0 0a2.0 2.0 0 1 0 -4.0 0zM421.98 220.92a2.0 2.0 0 1 0 4.0 0a2.0 2.0 0 1 0 -4.0 0zM422.52 222.01a2.0 2.0 0 1 0 4.0 0a2.0 2.0 0 1 0 -4.0 0zM423.06 219.67a2.0 2.0 0 1 0 4.0 0a2.0 2.0 0 1 0 -4.0 0zM423.6 216.81a2.0 2.0 0 1 0 4.0 0a2.0 2.0 0 1 0 -4.0 0zM424.14 224.6a2.0 2.0 0 1 0 4.0 0a2.0 2.0 0 1 0 -4.0 0zM424.68 217.21a2.0 2.0 0 1 0 4.0 0a2.0 2.0 0 1 0 -4.0 0zM425.22 216.73a2.0 2.0 0 1 0 4.0 0a2.0 2.0 0 1 0 -4.0 0zM425.76 210.36a2.0 2.0 0 1 0 4.0 0a2.0 2.0 0 1 0 -4.0 0zM426.3 207.46a2.0 2.0 0 1 0 4.0 0a2.0 2.0 0 1 0 -4.0 0zM426.84 216.41a2.0 2.0 0 1 0 4.0 0a2.0 2.0 0 1 0 -4.0 0zM427.38 201.29a2.0 2.0 0 1 0 4.0 0a2.0 2.0 0 1 0 -4.0 0zM427.92 208.54a2.0 2.0 0 1 0 4.0 0a2.0 2.0 0 1 0 -4.0 0zM428.46 208.96a2.0 2.0 0 1 0 4.0 0a2.0 2.0 0 1 0 -4.0 0zM429 198.51a2.0 2.0 0 1 0 4.0 0a2.0 2.0 0 1 0 -4.0 0zM429.54 208.28a2.0 2.0 0 1 0 4.0 0a2.0 2.0 0 1 0 -4.0 0zM430.08 203.25a2.0 2.0 0 1 0 4.0 0a2.0 2.0 0 1 0 -4.0 0zM430.62 203.55a2.0 2.0 0 1 0 4.0 0a2.0 2.0 0 1 0 -4.0 0zM431.16 194.68a2.0 2.0 0 1 0 4.0 0a2.0 2.0 0 1 0 -4.0 0zM431.69 213.89a2.0 2.0 0 1 0 4.0 0a2.0 2.0 0 1 0 -4.0 0zM432.23 199.41a2.0 2.0 0 1 0 4.0 0a2.0 2.0 0 1 0 -4.0 0zM432.77 202.94a2.0 2.0 0 1 0 4.0 0a2.0 2.0 0 1 0 -4.0 0zM433.31 202.85a2.0 2.0 0 1 0 4.0 0a2.0 2.0 0 1 0 -4.0 0zM433.85 194.26a2.0 2.0 0 1 0 4.0 0a2.0 2.0 0 1 0 -4.0 0zM434.39 202.77a2.0 2.0 0 1 0 4.0 0a2.0 2.0 0 1 0 -4.0 0zM434.93 188.52a2.0 2.0 0 1 0 4.0 0a2.0 2.0 0 1 0 -4.0 0zM435.47 233.1a2.0 2.0 0 1 0 4.0 0a2.0 2.0 0 1 0 -4.0 0zM436.01 184.28a2.0 2.0 0 1 0 4.0 0a2.0 2.0 0 1 0 -4.0 0zM436.55 199.02a2.0 2.0 0 1 0 4.0 0a2.0 2.0 0 1 0 -4.0 0zM437.09 195.6a2.0 2.0 0 1 0 4.0 0a2.0 2.0 0 1 0 -4.0 0zM437.63 188.52a2.0 2.0 0 1 0 4.0 0a2.0 2.0 0 1 0 -4.0 0zM438.17 198.03a2.0 2.0 0 1 0 4.0 0a2.0 2.0 0 1 0 -4.0 0zM438.71 195.51a2.0 2.0 0 1 0 4.0 0a2.0 2.0 0 1 0 -4.0 0zM439.25 210.55a2.0 2.0 0 1 0 4.0 0a2.0 2.0 0 1 0 -4.0 0zM439.79 182.07a2.0 2.0 0 1 0 4.0 0a2.0 2.0 0 1 0 -4.0 0zM440.33 200.03a2.0 2.0 0 1 0 4.0 0a2.0 2.0 0 1 0 -4.0 0zM440.87 187.53a2.0 2.0 0 1 0 4.0 0a2.0 2.0 0 1 0 -4.0 0zM441.41 188.8a2.0 2.0 0 1 0 4.0 0a2.0 2.0 0 1 0 -4.0 0zM441.95 181.75a2.0 2.0 0 1 0 4.0 0a2.0 2.0 0 1 0 -4.0 0zM442.49 206.48a2.0 2.0 0 1 0 4.0 0a2.0 2.0 0 1 0 -4.0 0zM443.02 186.57a2.0 2.0 0 1 0 4.0 0a2.0 2.0 0 1 0 -4.0 0zM443.56 191.24a2.0 2.0 0 1 0 4.0 0a2.0 2.0 0 1 0 -4.0 0zM444.1 188a2.0 2.0 0 1 0 4.0 0a2.0 2.0 0 1 0 -4.0 0zM444.64 185.88a2.0 2.0 0 1 0 4.0 0a2.0 2.0 0 1 0 -4.0 0zM445.18 186.02a2.0 2.0 0 1 0 4.0 0a2.0 2.0 0 1 0 -4.0 0zM445.72 190.79a2.0 2.0 0 1 0 4.0 0a2.0 2.0 0 1 0 -4.0 0zM446.26 189.93a2.0 2.0 0 1 0 4.0 0a2.0 2.0 0 1 0 -4.0 0zM446.8 188.7a2.0 2.0 0 1 0 4.0 0a2.0 2.0 0 1 0 -4.0 0zM447.34 185.98a2.0 2.0 0 1 0 4.0 0a2.0 2.0 0 1 0 -4.0 0zM447.88 187.92a2.0 2.0 0 1 0 4.0 0a2.0 2.0 0 1 0 -4.0 0zM448.42 184.43a2.0 2.0 0 1 0 4.0 0a2.0 2.0 0 1 0 -4.0 0zM448.96 185.51a2.0 2.0 0 1 0 4.0 0a2.0 2.0 0 1 0 -4.0 0zM449.5 189.9a2.0 2.0 0 1 0 4.0 0a2.0 2.0 0 1 0 -4.0 0zM450.04 181.84a2.0 2.0 0 1 0 4.0 0a2.0 2.0 0 1 0 -4.0 0zM450.58 185.19a2.0 2.0 0 1 0 4.0 0a2.0 2.0 0 1 0 -4.0 0zM451.12 192.57a2.0 2.0 0 1 0 4.0 0a2.0 2.0 0 1 0 -4.0 0zM451.66 183.06a2.0 2.0 0 1 0 4.0 0a2.0 2.0 0 1 0 -4.0 0zM452.2 181.15a2.0 2.0 0 1 0 4.0 0a2.0 2.0 0 1 0 -4.0 0zM452.74 183.39a2.0 2.0 0 1 0 4.0 0a2.0 2.0 0 1 0 -4.0 0zM453.28 183.3a2.0 2.0 0 1 0 4.0 0a2.0 2.0 0 1 0 -4.0 0zM453.82 186.96a2.0 2.0 0 1 0 4.0 0a2.0 2.0 0 1 0 -4.0 0zM454.35 180.71a2.0 2.0 0 1 0 4.0 0a2.0 2.0 0 1 0 -4.0 0zM454.89 183.23a2.0 2.0 0 1 0 4.0 0a2.0 2.0 0 1 0 -4.0 0zM455.43 183.83a2.0 2.0 0 1 0 4.0 0a2.0 2.0 0 1 0 -4.0 0zM455.97 180.59a2.0 2.0 0 1 0 4.0 0a2.0 2.0 0 1 0 -4.0 0zM456.51 181.51a2.0 2.0 0 1 0 4.0 0a2.0 2.0 0 1 0 -4.0 0zM457.05 181.51a2.0 2.0 0 1 0 4.0 0a2.0 2.0 0 1 0 -4.0 0zM457.59 180.49a2.0 2.0 0 1 0 4.0 0a2.0 2.0 0 1 0 -4.0 0zM458.13 180.61a2.0 2.0 0 1 0 4.0 0a2.0 2.0 0 1 0 -4.0 0zM458.67 182.06a2.0 2.0 0 1 0 4.0 0a2.0 2.0 0 1 0 -4.0 0zM459.21 182.08a2.0 2.0 0 1 0 4.0 0a2.0 2.0 0 1 0 -4.0 0zM459.75 178.27a2.0 2.0 0 1 0 4.0 0a2.0 2.0 0 1 0 -4.0 0zM460.29 177.89a2.0 2.0 0 1 0 4.0 0a2.0 2.0 0 1 0 -4.0 0zM460.83 178.61a2.0 2.0 0 1 0 4.0 0a2.0 2.0 0 1 0 -4.0 0zM461.37 184.56a2.0 2.0 0 1 0 4.0 0a2.0 2.0 0 1 0 -4.0 0zM461.91 177.89a2.0 2.0 0 1 0 4.0 0a2.0 2.0 0 1 0 -4.0 0zM462.45 177.65a2.0 2.0 0 1 0 4.0 0a2.0 2.0 0 1 0 -4.0 0zM462.99 178.82a2.0 2.0 0 1 0 4.0 0a2.0 2.0 0 1 0 -4.0 0zM463.53 177.82a2.0 2.0 0 1 0 4.0 0a2.0 2.0 0 1 0 -4.0 0zM464.07 177.85a2.0 2.0 0 1 0 4.0 0a2.0 2.0 0 1 0 -4.0 0zM464.61 179.91a2.0 2.0 0 1 0 4.0 0a2.0 2.0 0 1 0 -4.0 0zM465.15 177.78a2.0 2.0 0 1 0 4.0 0a2.0 2.0 0 1 0 -4.0 0zM465.69 180.62a2.0 2.0 0 1 0 4.0 0a2.0 2.0 0 1 0 -4.0 0zM466.22 173.74a2.0 2.0 0 1 0 4.0 0a2.0 2.0 0 1 0 -4.0 0zM466.76 177.8a2.0 2.0 0 1 0 4.0 0a2.0 2.0 0 1 0 -4.0 0zM467.3 178.97a2.0 2.0 0 1 0 4.0 0a2.0 2.0 0 1 0 -4.0 0zM467.84 174.73a2.0 2.0 0 1 0 4.0 0a2.0 2.0 0 1 0 -4.0 0zM468.38 178.73a2.0 2.0 0 1 0 4.0 0a2.0 2.0 0 1 0 -4.0 0zM468.92 174.87a2.0 2.0 0 1 0 4.0 0a2.0 2.0 0 1 0 -4.0 0zM469.46 181.75a2.0 2.0 0 1 0 4.0 0a2.0 2.0 0 1 0 -4.0 0zM470 175.8a2.0 2.0 0 1 0 4.0 0a2.0 2.0 0 1 0 -4.0 0zM470.54 178.23a2.0 2.0 0 1 0 4.0 0a2.0 2.0 0 1 0 -4.0 0zM471.08 173.62a2.0 2.0 0 1 0 4.0 0a2.0 2.0 0 1 0 -4.0 0zM471.62 177.74a2.0 2.0 0 1 0 4.0 0a2.0 2.0 0 1 0 -4.0 0zM472.16 174.36a2.0 2.0 0 1 0 4.0 0a2.0 2.0 0 1 0 -4.0 0zM472.7 177.06a2.0 2.0 0 1 0 4.0 0a2.0 2.0 0 1 0 -4.0 0zM473.24 178.27a2.0 2.0 0 1 0 4.0 0a2.0 2.0 0 1 0 -4.0 0zM473.78 177.4a2.0 2.0 0 1 0 4.0 0a2.0 2.0 0 1 0 -4.0 0zM474.32 174.32a2.0 2.0 0 1 0 4.0 0a2.0 2.0 0 1 0 -4.0 0zM474.86 176.99a2.0 2.0 0 1 0 4.0 0a2.0 2.0 0 1 0 -4.0 0zM475.4 176.15a2.0 2.0 0 1 0 4.0 0a2.0 2.0 0 1 0 -4.0 0zM475.94 174.38a2.0 2.0 0 1 0 4.0 0a2.0 2.0 0 1 0 -4.0 0zM476.48 174.79a2.0 2.0 0 1 0 4.0 0a2.0 2.0 0 1 0 -4.0 0zM477.02 177.58a2.0 2.0 0 1 0 4.0 0a2.0 2.0 0 1 0 -4.0 0zM477.55 176.53a2.0 2.0 0 1 0 4.0 0a2.0 2.0 0 1 0 -4.0 0zM478.09 174a2.0 2.0 0 1 0 4.0 0a2.0 2.0 0 1 0 -4.0 0zM478.63 176.69a2.0 2.0 0 1 0 4.0 0a2.0 2.0 0 1 0 -4.0 0zM479.17 172.34a2.0 2.0 0 1 0 4.0 0a2.0 2.0 0 1 0 -4.0 0zM479.71 175.14a2.0 2.0 0 1 0 4.0 0a2.0 2.0 0 1 0 -4.0 0zM480.25 176.67a2.0 2.0 0 1 0 4.0 0a2.0 2.0 0 1 0 -4.0 0zM480.79 174.34a2.0 2.0 0 1 0 4.0 0a2.0 2.0 0 1 0 -4.0 0zM481.33 175.27a2.0 2.0 0 1 0 4.0 0a2.0 2.0 0 1 0 -4.0 0zM481.87 174.15a2.0 2.0 0 1 0 4.0 0a2.0 2.0 0 1 0 -4.0 0zM482.41 175.02a2.0 2.0 0 1 0 4.0 0a2.0 2.0 0 1 0 -4.0 0zM482.95 172.64a2.0 2.0 0 1 0 4.0 0a2.0 2.0 0 1 0 -4.0 0z" fill="#4c72b0"/>
<polyline points="404.56,279.69 405.1,279.6 405.64,279.43 406.18,279.15 406.72,278.75 407.26,278.17 407.8,277.36 408.34,276.29 408.88,274.92 409.42,273.28 409.96,271.48 410.49,269.64 411.03,267.93 411.57,266.49 412.11,265.35 412.65,264.45 413.19,263.6 413.73,262.56 414.27,261.15 414.81,259.34 415.35,257.24 415.89,255.04 416.43,252.84 416.97,250.64 417.51,248.35 418.05,245.9 418.59,243.33 419.13,240.75 419.67,238.35 420.21,236.25 420.75,234.47 421.29,232.92 421.82,231.44 422.36,229.88 422.9,228.17 423.44,226.35 423.98,224.52 424.52,222.77 425.06,221.15 425.6,219.63 426.14,218.11 426.68,216.55 427.22,214.91 427.76,213.23 428.3,211.57 428.84,210.02 429.38,208.6 429.92,207.36 430.46,206.29 431,205.4 431.54,204.66 432.08,204.06 432.62,203.57 433.16,203.15 433.69,202.76 434.23,202.36 434.77,201.97 435.31,201.61 435.85,201.28 436.39,200.95 436.93,200.53 437.47,199.95 438.01,199.18 438.55,198.32 439.09,197.48 439.63,196.75 440.17,196.12 440.71,195.53 441.25,194.86 441.79,194.08 442.33,193.25 442.87,192.45 443.41,191.77 443.95,191.22 444.49,190.75 445.02,190.29 445.56,189.83 446.1,189.37 446.64,188.94 447.18,188.59 447.72,188.29 448.26,188.01 448.8,187.71 449.34,187.39 449.88,187.05 450.42,186.72 450.96,186.43 451.5,186.17 452.04,185.91 452.58,185.61 453.12,185.27 453.66,184.88 454.2,184.48 454.74,184.09 455.28,183.73 455.82,183.4 456.35,183.07 456.89,182.74 457.43,182.4 457.97,182.06 458.51,181.74 459.05,181.45 459.59,181.17 460.13,180.91 460.67,180.65 461.21,180.4 461.75,180.14 462.29,179.9 462.83,179.67 463.37,179.44 463.91,179.22 464.45,178.99 464.99,178.79 465.53,178.6 466.07,178.43 466.61,178.25 467.15,178.07 467.69,177.88 468.22,177.69 468.76,177.53 469.3,177.42 469.84,177.34 470.38,177.29 470.92,177.24 471.46,177.15 472,177.02 472.54,176.87 473.08,176.72 473.62,176.6 474.16,176.53 474.7,176.47 475.24,176.41 475.78,176.33 476.32,176.22 476.86,176.09 477.4,175.95 477.94,175.83 478.48,175.72 479.02,175.62 479.55,175.5 480.09,175.37 480.63,175.24 481.17,175.12 481.71,175 482.25,174.89 482.79,174.76 483.33,174.62 483.87,174.48 484.41,174.35 484.95,174.28" fill="none" stroke="#dd8452" stroke-width="1.6" stroke-dasharray="1.5 2.33"/>
<clipPath id="c9"><rect x="526.04" y="167.85" width="87.75" height="117.7"/></clipPath>
<rect x="526.04" y="167.85" width="87.75" height="117.7" fill="#eaeaf2"/>
<path d="M529.72 167.85V285.55M583.67 167.85V285.55M526.04 194.05H613.79M526.04 222.85H613.79M526.04 251.65H613.79M526.04 280.45H613.79" stroke="#fff" stroke-width="0.6" fill="none" clip-path="url(#c9)"/>
<polyline points="529.72,280.45 530.26,280.45 530.8,280.31 531.34,280.16 531.88,280.02 532.42,279.87 532.96,279.3 533.5,278.43 534.04,278.01 534.58,273.83 535.12,275.4 535.65,272.1 536.19,277.84 536.73,271.39 537.27,251.94 537.81,272.25 538.35,276.25 538.89,267.49 539.43,278.72 539.97,267.74 540.51,271.81 541.05,273.47 541.59,249.92 542.13,250.22 542.67,254.16 543.21,264.9 543.75,258.08 544.29,249.09 544.83,230.91 545.37,247.19 545.91,247.24 546.45,243.46 546.98,235 547.52,236 548.06,256.55 548.6,232.88 549.14,224.87 549.68,238.18 550.22,227.61 550.76,235.89 551.3,223.9 551.84,226.06 552.38,227.1 552.92,223.99 553.46,213.92 554,222.38 554.54,222.76 555.08,218.26 555.62,215.75 556.16,218.68 556.7,216.95 557.24,214.63 557.78,219.66 558.32,213.3 558.85,213.41 559.39,217.22 559.93,203.31 560.47,208.87 561.01,210.63 561.55,207.72 562.09,203.72 562.63,239.7 563.17,192.61 563.71,206.63 564.25,204.32 564.79,206.94 565.33,197.52 565.87,209.41 566.41,218.24 566.95,201.45 567.49,200.11 568.03,200.89 568.57,205.66 569.11,200.18 569.65,203.15 570.18,186.85 570.72,209.14 571.26,197.27 571.8,203.95 572.34,201.91 572.88,188.27 573.42,188.41 573.96,203.19 574.5,194.13 575.04,191.92 575.58,199.86 576.12,190.49 576.66,188.75 577.2,189.75 577.74,198.99 578.28,186.43 578.82,189.87 579.36,190.98 579.9,193.53 580.44,187.45 580.98,186.21 581.51,191.08 582.05,188.24 582.59,184.87 583.13,195.07 583.67,186.83 584.21,180.8 584.75,189.59 585.29,183.58 585.83,185.1 586.37,192.61 586.91,185.08 587.45,181.16 587.99,182.04 588.53,187.62 589.07,183.79 589.61,186.2 590.15,175.64 590.69,185.95 591.23,183.89 591.77,183.58 592.31,183.55 592.85,181.21 593.38,172.88 593.92,185.7 594.46,181.49 595,183.47 595.54,175.2 596.08,185.7 596.62,176.09 597.16,180.15 597.7,178.44 598.24,180.97 598.78,175.62 599.32,177.48 599.86,178.88 600.4,180.42 600.94,178.2 601.48,175.12 602.02,179.77 602.56,177.03 603.1,172.59 603.64,176.19 604.18,181.81 604.71,171.88 605.25,175.66 605.79,178.33 606.33,174.62 606.87,175.9 607.41,173.79 607.95,172.12 608.49,178.34 609.03,176.57 609.57,171.87 610.11,172.62" fill="none" stroke="#4c72b0" stroke-width="1.5" stroke-linejoin="round"/>
<path d="M527.72 280.45a2.0 2.0 0 1 0 4.0 0a2.0 2.0 0 1 0 -4.0 0zM528.26 280.45a2.0 2.0 0 1 0 4.0 0a2.0 2.0 0 1 0 -4.0 0zM528.8 280.31a2.0 2.0 0 1 0 4.0 0a2.0 2.0 0 1 0 -4.0 0zM529.34 280.16a2.0 2.0 0 1 0 4.0 0a2.0 2.0 0 1 0 -4.0 0zM529.88 280.02a2.0 2.0 0 1 0 4.0 0a2.0 2.0 0 1 0 -4.0 0zM530.42 279.87a2.0 2.0 0 1 0 4.0 0a2.0 2.0 0 1 0 -4.0 0zM530.96 279.3a2.0 2.0 0 1 0 4.0 0a2.0 2.0 0 1 0 -4.0 0zM531.5 278.43a2.0 2.0 0 1 0 4.0 0a2.0 2.0 0 1 0 -4.0 0zM532.04 278.01a2.0 2.0 0 1 0 4.0 0a2.0 2.0 0 1 0 -4.0 0zM532.58 273.83a2.0 2.0 0 1 0 4.0 0a2.0 2.0 0 1 0 -4.0 0zM533.12 275.4a2.0 2.0 0 1 0 4.0 0a2.0 2.0 0 1 0 -4.0 0zM533.65 272.1a2.0 2.0 0 1 0 4.0 0a2.0 2.0 0 1 0 -4.0 0zM534.19 277.84a2.0 2.0 0 1 0 4.0 0a2.0 2.0 0 1 0 -4.0 0zM534.73 271.39a2.0 2.0 0 1 0 4.0 0a2.0 2.0 0 1 0 -4.0 0zM535.27 251.94a2.0 2.0 0 1 0 4.0 0a2.0 2.0 0 1 0 -4.0 0zM535.81 272.25a2.0 2.0 0 1 0 4.0 0a2.0 2.0 0 1 0 -4.0 0zM536.35 276.25a2.0 2.0 0 1 0 4.0 0a2.0 2.0 0 1 0 -4.0 0zM536.89 267.49a2.0 2.0 0 1 0 4.0 0a2.0 2.0 0 1 0 -4.0 0zM537.43 278.72a2.0 2.0 0 1 0 4.0 0a2.0 2.0 0 1 0 -4.0 0zM537.97 267.74a2.0 2.0 0 1 0 4.0 0a2.0 2.0 0 1 0 -4.0 0zM538.51 271.81a2.0 2.0 0 1 0 4.0 0a2.0 2.0 0 1 0 -4.0 0zM539.05 273.47a2.0 2.0 0 1 0 4.0 0a2.0 2.0 0 1 0 -4.0 0zM539.59 249.92a2.0 2.0 0 1 0 4.0 0a2.0 2.0 0 1 0 -4.0 0zM540.13 250.22a2.0 2.0 0 1 0 4.0 0a2.0 2.0 0 1 0 -4.0 0zM540.67 254.16a2.0 2.0 0 1 0 4.0 0a2.0 2.0 0 1 0 -4.0 0zM541.21 264.9a2.0 2.0 0 1 0 4.0 0a2.0 2.0 0 1 0 -4.0 0zM541.75 258.08a2.0 2.0 0 1 0 4.0 0a2.0 2.0 0 1 0 -4.0 0zM542.29 249.09a2.0 2.0 0 1 0 4.0 0a2.0 2.0 0 1 0 -4.0 0zM542.83 230.91a2.0 2.0 0 1 0 4.0 0a2.0 2.0 0 1 0 -4.0 0zM543.37 247.19a2.0 2.0 0 1 0 4.0 0a2.0 2.0 0 1 0 -4.0 0zM543.91 247.24a2.0 2.0 0 1 0 4.0 0a2.0 2.0 0 1 0 -4.0 0zM544.45 243.46a2.0 2.0 0 1 0 4.0 0a2.0 2.0 0 1 0 -4.0 0zM544.98 235a2.0 2.0 0 1 0 4.0 0a2.0 2.0 0 1 0 -4.0 0zM545.52 236a2.0 2.0 0 1 0 4.0 0a2.0 2.0 0 1 0 -4.0 0zM546.06 256.55a2.0 2.0 0 1 0 4.0 0a2.0 2.0 0 1 0 -4.0 0zM546.6 232.88a2.0 2.0 0 1 0 4.0 0a2.0 2.0 0 1 0 -4.0 0zM547.14 224.87a2.0 2.0 0 1 0 4.0 0a2.0 2.0 0 1 0 -4.0 0zM547.68 238.18a2.0 2.0 0 1 0 4.0 0a2.0 2.0 0 1 0 -4.0 0zM548.22 227.61a2.0 2.0 0 1 0 4.0 0a2.0 2.0 0 1 0 -4.0 0zM548.76 235.89a2.0 2.0 0 1 0 4.0 0a2.0 2.0 0 1 0 -4.0 0zM549.3 223.9a2.0 2.0 0 1 0 4.0 0a2.0 2.0 0 1 0 -4.0 0zM549.84 226.06a2.0 2.0 0 1 0 4.0 0a2.0 2.0 0 1 0 -4.0 0zM550.38 227.1a2.0 2.0 0 1 0 4.0 0a2.0 2.0 0 1 0 -4.0 0zM550.92 223.99a2.0 2.0 0 1 0 4.0 0a2.0 2.0 0 1 0 -4.0 0zM551.46 213.92a2.0 2.0 0 1 0 4.0 0a2.0 2.0 0 1 0 -4.0 0zM552 222.38a2.0 2.0 0 1 0 4.0 0a2.0 2.0 0 1 0 -4.0 0zM552.54 222.76a2.0 2.0 0 1 0 4.0 0a2.0 2.0 0 1 0 -4.0 0zM553.08 218.26a2.0 2.0 0 1 0 4.0 0a2.0 2.0 0 1 0 -4.0 0zM553.62 215.75a2.0 2.0 0 1 0 4.0 0a2.0 2.0 0 1 0 -4.0 0zM554.16 218.68a2.0 2.0 0 1 0 4.0 0a2.0 2.0 0 1 0 -4.0 0zM554.7 216.95a2.0 2.0 0 1 0 4.0 0a2.0 2.0 0 1 0 -4.0 0zM555.24 214.63a2.0 2.0 0 1 0 4.0 0a2.0 2.0 0 1 0 -4.0 0zM555.78 219.66a2.0 2.0 0 1 0 4.0 0a2.0 2.0 0 1 0 -4.0 0zM556.32 213.3a2.0 2.0 0 1 0 4.0 0a2.0 2.0 0 1 0 -4.0 0zM556.85 213.41a2.0 2.0 0 1 0 4.0 0a2.0 2.0 0 1 0 -4.0 0zM557.39 217.22a2.0 2.0 0 1 0 4.0 0a2.0 2.0 0 1 0 -4.0 0zM557.93 203.31a2.0 2.0 0 1 0 4.0 0a2.0 2.0 0 1 0 -4.0 0zM558.47 208.87a2.0 2.0 0 1 0 4.0 0a2.0 2.0 0 1 0 -4.0 0zM559.01 210.63a2.0 2.0 0 1 0 4.0 0a2.0 2.0 0 1 0 -4.0 0zM559.55 207.72a2.0 2.0 0 1 0 4.0 0a2.0 2.0 0 1 0 -4.0 0zM560.09 203.72a2.0 2.0 0 1 0 4.0 0a2.0 2.0 0 1 0 -4.0 0zM560.63 239.7a2.0 2.0 0 1 0 4.0 0a2.0 2.0 0 1 0 -4.0 0zM561.17 192.61a2.0 2.0 0 1 0 4.0 0a2.0 2.0 0 1 0 -4.0 0zM561.71 206.63a2.0 2.0 0 1 0 4.0 0a2.0 2.0 0 1 0 -4.0 0zM562.25 204.32a2.0 2.0 0 1 0 4.0 0a2.0 2.0 0 1 0 -4.0 0zM562.79 206.94a2.0 2.0 0 1 0 4.0 0a2.0 2.0 0 1 0 -4.0 0zM563.33 197.52a2.0 2.0 0 1 0 4.0 0a2.0 2.0 0 1 0 -4.0 0zM563.87 209.41a2.0 2.0 0 1 0 4.0 0a2.0 2.0 0 1 0 -4.0 0zM564.41 218.24a2.0 2.0 0 1 0 4.0 0a2.0 2.0 0 1 0 -4.0 0zM564.95 201.45a2.0 2.0 0 1 0 4.0 0a2.0 2.0 0 1 0 -4.0 0zM565.49 200.11a2.0 2.0 0 1 0 4.0 0a2.0 2.0 0 1 0 -4.0 0zM566.03 200.89a2.0 2.0 0 1 0 4.0 0a2.0 2.0 0 1 0 -4.0 0zM566.57 205.66a2.0 2.0 0 1 0 4.0 0a2.0 2.0 0 1 0 -4.0 0zM567.11 200.18a2.0 2.0 0 1 0 4.0 0a2.0 2.0 0 1 0 -4.0 0zM567.65 203.15a2.0 2.0 0 1 0 4.0 0a2.0 2.0 0 1 0 -4.0 0zM568.18 186.85a2.0 2.0 0 1 0 4.0 0a2.0 2.0 0 1 0 -4.0 0zM568.72 209.14a2.0 2.0 0 1 0 4.0 0a2.0 2.0 0 1 0 -4.0 0zM569.26 197.27a2.0 2.0 0 1 0 4.0 0a2.0 2.0 0 1 0 -4.0 0zM569.8 203.95a2.0 2.0 0 1 0 4.0 0a2.0 2.0 0 1 0 -4.0 0zM570.34 201.91a2.0 2.0 0 1 0 4.0 0a2.0 2.0 0 1 0 -4.0 0zM570.88 188.27a2.0 2.0 0 1 0 4.0 0a2.0 2.0 0 1 0 -4.0 0zM571.42 188.41a2.0 2.0 0 1 0 4.0 0a2.0 2.0 0 1 0 -4.0 0zM571.96 203.19a2.0 2.0 0 1 0 4.0 0a2.0 2.0 0 1 0 -4.0 0zM572.5 194.13a2.0 2.0 0 1 0 4.0 0a2.0 2.0 0 1 0 -4.0 0zM573.04 191.92a2.0 2.0 0 1 0 4.0 0a2.0 2.0 0 1 0 -4.0 0zM573.58 199.86a2.0 2.0 0 1 0 4.0 0a2.0 2.0 0 1 0 -4.0 0zM574.12 190.49a2.0 2.0 0 1 0 4.0 0a2.0 2.0 0 1 0 -4.0 0zM574.66 188.75a2.0 2.0 0 1 0 4.0 0a2.0 2.0 0 1 0 -4.0 0zM575.2 189.75a2.0 2.0 0 1 0 4.0 0a2.0 2.0 0 1 0 -4.0 0zM575.74 198.99a2.0 2.0 0 1 0 4.0 0a2.0 2.0 0 1 0 -4.0 0zM576.28 186.43a2.0 2.0 0 1 0 4.0 0a2.0 2.0 0 1 0 -4.0 0zM576.82 189.87a2.0 2.0 0 1 0 4.0 0a2.0 2.0 0 1 0 -4.0 0zM577.36 190.98a2.0 2.0 0 1 0 4.0 0a2.0 2.0 0 1 0 -4.0 0zM577.9 193.53a2.0 2.0 0 1 0 4.0 0a2.0 2.0 0 1 0 -4.0 0zM578.44 187.45a2.0 2.0 0 1 0 4.0 0a2.0 2.0 0 1 0 -4.0 0zM578.98 186.21a2.0 2.0 0 1 0 4.0 0a2.0 2.0 0 1 0 -4.0 0zM579.51 191.08a2.0 2.0 0 1 0 4.0 0a2.0 2.0 0 1 0 -4.0 0zM580.05 188.24a2.0 2.0 0 1 0 4.0 0a2.0 2.0 0 1 0 -4.0 0zM580.59 184.87a2.0 2.0 0 1 0 4.0 0a2.0 2.0 0 1 0 -4.0 0zM581.13 195.07a2.0 2.0 0 1 0 4.0 0a2.0 2.0 0 1 0 -4.0 0zM581.67 186.83a2.0 2.0 0 1 0 4.0 0a2.0 2.0 0 1 0 -4.0 0zM582.21 180.8a2.0 2.0 0 1 0 4.0 0a2.0 2.0 0 1 0 -4.0 0zM582.75 189.59a2.0 2.0 0 1 0 4.0 0a2.0 2.0 0 1 0 -4.0 0zM583.29 183.58a2.0 2.0 0 1 0 4.0 0a2.0 2.0 0 1 0 -4.0 0zM583.83 185.1a2.0 2.0 0 1 0 4.0 0a2.0 2.0 0 1 0 -4.0 0zM584.37 192.61a2.0 2.0 0 1 0 4.0 0a2.0 2.0 0 1 0 -4.0 0zM584.91 185.08a2.0 2.0 0 1 0 4.0 0a2.0 2.0 0 1 0 -4.0 0zM585.45 181.16a2.0 2.0 0 1 0 4.0 0a2.0 2.0 0 1 0 -4.0 0zM585.99 182.04a2.0 2.0 0 1 0 4.0 0a2.0 2.0 0 1 0 -4.0 0zM586.53 187.62a2.0 2.0 0 1 0 4.0 0a2.0 2.0 0 1 0 -4.0 0zM587.07 183.79a2.0 2.0 0 1 0 4.0 0a2.0 2.0 0 1 0 -4.0 0zM587.61 186.2a2.0 2.0 0 1 0 4.0 0a2.0 2.0 0 1 0 -4.0 0zM588.15 175.64a2.0 2.0 0 1 0 4.0 0a2.0 2.0 0 1 0 -4.0 0zM588.69 185.95a2.0 2.0 0 1 0 4.0 0a2.0 2.0 0 1 0 -4.0 0zM589.23 183.89a2.0 2.0 0 1 0 4.0 0a2.0 2.0 0 1 0 -4.0 0zM589.77 183.58a2.0 2.0 0 1 0 4.0 0a2.0 2.0 0 1 0 -4.0 0zM590.31 183.55a2.0 2.0 0 1 0 4.0 0a2.0 2.0 0 1 0 -4.0 0zM590.85 181.21a2.0 2.0 0 1 0 4.0 0a2.0 2.0 0 1 0 -4.0 0zM591.38 172.88a2.0 2.0 0 1 0 4.0 0a2.0 2.0 0 1 0 -4.0 0zM591.92 185.7a2.0 2.0 0 1 0 4.0 0a2.0 2.0 0 1 0 -4.0 0zM592.46 181.49a2.0 2.0 0 1 0 4.0 0a2.0 2.0 0 1 0 -4.0 0zM593 183.47a2.0 2.0 0 1 0 4.0 0a2.0 2.0 0 1 0 -4.0 0zM593.54 175.2a2.0 2.0 0 1 0 4.0 0a2.0 2.0 0 1 0 -4.0 0zM594.08 185.7a2.0 2.0 0 1 0 4.0 0a2.0 2.0 0 1 0 -4.0 0zM594.62 176.09a2.0 2.0 0 1 0 4.0 0a2.0 2.0 0 1 0 -4.0 0zM595.16 180.15a2.0 2.0 0 1 0 4.0 0a2.0 2.0 0 1 0 -4.0 0zM595.7 178.44a2.0 2.0 0 1 0 4.0 0a2.0 2.0 0 1 0 -4.0 0zM596.24 180.97a2.0 2.0 0 1 0 4.0 0a2.0 2.0 0 1 0 -4.0 0zM596.78 175.62a2.0 2.0 0 1 0 4.0 0a2.0 2.0 0 1 0 -4.0 0zM597.32 177.48a2.0 2.0 0 1 0 4.0 0a2.0 2.0 0 1 0 -4.0 0zM597.86 178.88a2.0 2.0 0 1 0 4.0 0a2.0 2.0 0 1 0 -4.0 0zM598.4 180.42a2.0 2.0 0 1 0 4.0 0a2.0 2.0 0 1 0 -4.0 0zM598.94 178.2a2.0 2.0 0 1 0 4.0 0a2.0 2.0 0 1 0 -4.0 0zM599.48 175.12a2.0 2.0 0 1 0 4.0 0a2.0 2.0 0 1 0 -4.0 0zM600.02 179.77a2.0 2.0 0 1 0 4.0 0a2.0 2.0 0 1 0 -4.0 0zM600.56 177.03a2.0 2.0 0 1 0 4.0 0a2.0 2.0 0 1 0 -4.0 0zM601.1 172.59a2.0 2.0 0 1 0 4.0 0a2.0 2.0 0 1 0 -4.0 0zM601.64 176.19a2.0 2.0 0 1 0 4.0 0a2.0 2.0 0 1 0 -4.0 0zM602.18 181.81a2.0 2.0 0 1 0 4.0 0a2.0 2.0 0 1 0 -4.0 0zM602.71 171.88a2.0 2.0 0 1 0 4.0 0a2.0 2.0 0 1 0 -4.0 0zM603.25 175.66a2.0 2.0 0 1 0 4.0 0a2.0 2.0 0 1 0 -4.0 0zM603.79 178.33a2.0 2.0 0 1 0 4.0 0a2.0 2.0 0 1 0 -4.0 0zM604.33 174.62a2.0 2.0 0 1 0 4.0 0a2.0 2.0 0 1 0 -4.0 0zM604.87 175.9a2.0 2.0 0 1 0 4.0 0a2.0 2.0 0 1 0 -4.0 0zM605.41 173.79a2.0 2.0 0 1 0 4.0 0a2.0 2.0 0 1 0 -4.0 0zM605.95 172.12a2.0 2.0 0 1 0 4.0 0a2.0 2.0 0 1 0 -4.0 0zM606.49 178.34a2.0 2.0 0 1 0 4.0 0a2.0 2.0 0 1 0 -4.0 0zM607.03 176.57a2.0 2.0 0 1 0 4.0 0a2.0 2.0 0 1 0 -4.0 0zM607.57 171.87a2.0 2.0 0 1 0 4.0 0a2.0 2.0 0 1 0 -4.0 0zM608.11 172.62a2.0 2.0 0 1 0 4.0 0a2.0 2.0 0 1 0 -4.0 0z" fill="#4c72b0"/>
<polyline points="529.72,280.23 530.26,280.16 530.8,280.02 531.34,279.78 531.88,279.42 532.42,278.93 532.96,278.3 533.5,277.5 534.04,276.56 534.58,275.48 535.12,274.32 535.65,273.14 536.19,272.05 536.73,271.17 537.27,270.57 537.81,270.24 538.35,270.01 538.89,269.67 539.43,268.95 539.97,267.69 540.51,265.89 541.05,263.68 541.59,261.26 542.13,258.8 542.67,256.39 543.21,254.05 543.75,251.73 544.29,249.48 544.83,247.36 545.37,245.45 545.91,243.8 546.45,242.35 546.98,240.99 547.52,239.62 548.06,238.14 548.6,236.53 549.14,234.83 549.68,233.08 550.22,231.36 550.76,229.66 551.3,228 551.84,226.38 552.38,224.83 552.92,223.39 553.46,222.09 554,220.96 554.54,219.97 555.08,219.11 555.62,218.33 556.16,217.6 556.7,216.87 557.24,216.09 557.78,215.24 558.32,214.3 558.85,213.32 559.39,212.38 559.93,211.58 560.47,210.98 561.01,210.57 561.55,210.24 562.09,209.85 562.63,209.3 563.17,208.58 563.71,207.78 564.25,207.05 564.79,206.46 565.33,206.02 565.87,205.63 566.41,205.16 566.95,204.55 567.49,203.78 568.03,202.93 568.57,202.08 569.11,201.31 569.65,200.65 570.18,200.07 570.72,199.52 571.26,198.92 571.8,198.23 572.34,197.45 572.88,196.67 573.42,195.94 573.96,195.29 574.5,194.72 575.04,194.16 575.58,193.6 576.12,193.04 576.66,192.48 577.2,191.98 577.74,191.52 578.28,191.1 578.82,190.7 579.36,190.31 579.9,189.92 580.44,189.54 580.98,189.17 581.51,188.82 582.05,188.48 582.59,188.12 583.13,187.74 583.67,187.34 584.21,186.96 584.75,186.62 585.29,186.31 585.83,186.01 586.37,185.68 586.91,185.32 587.45,184.93 587.99,184.54 588.53,184.16 589.07,183.82 589.61,183.51 590.15,183.22 590.69,182.93 591.23,182.62 591.77,182.28 592.31,181.93 592.85,181.59 593.38,181.29 593.92,181.04 594.46,180.82 595,180.6 595.54,180.34 596.08,180.04 596.62,179.72 597.16,179.39 597.7,179.08 598.24,178.81 598.78,178.59 599.32,178.4 599.86,178.22 600.4,178.02 600.94,177.78 601.48,177.5 602.02,177.21 602.56,176.93 603.1,176.68 603.64,176.46 604.18,176.27 604.71,176.09 605.25,175.91 605.79,175.71 606.33,175.49 606.87,175.27 607.41,175.05 607.95,174.83 608.49,174.61 609.03,174.4 609.57,174.23 610.11,174.13" fill="none" stroke="#dd8452" stroke-width="1.6" stroke-dasharray="1.5 2.33"/>
<rect x="179.3" y="17.7" width="55.9" height="24.8" rx="1.6" fill="#eaeaf2" fill-opacity="0.8" stroke="#ccc" stroke-opacity="0.8" stroke-width="0.72"/>
<path d="M181.9 23.9H199.1" stroke="#4c72b0" stroke-width="1.5"/><circle cx="190.5" cy="23.9" r="2.0" fill="#4c72b0"/>
<path d="M181.9 35.2H199.1" stroke="#dd8452" stroke-width="1.6" stroke-dasharray="1.5 2.33"/>
<g><text x="69.28" y="9.4" font-size="8.7" text-anchor="middle">train/box_loss</text><text x="29.08" y="144.85" font-size="7.95" text-anchor="middle">0</text><text x="83.03" y="144.85" font-size="7.95" text-anchor="middle">100</text><text x="18" y="42.75" font-size="7.95" text-anchor="end">0.10</text><text x="18" y="71.19" font-size="7.95" text-anchor="end">0.08</text><text x="18" y="99.63" font-size="7.95" text-anchor="end">0.06</text><text x="18" y="128.07" font-size="7.95" text-anchor="end">0.04</text><text x="194.44" y="9.4" font-size="8.7" text-anchor="middle">train/obj_loss</text><text x="154.24" y="144.85" font-size="7.95" text-anchor="middle">0</text><text x="208.19" y="144.85" font-size="7.95" text-anchor="middle">100</text><text x="143.16" y="40.75" font-size="7.95" text-anchor="end">0.025</text><text x="143.16" y="72.2" font-size="7.95" text-anchor="end">0.020</text><text x="143.16" y="103.65" font-size="7.95" text-anchor="end">0.015</text><text x="319.59" y="9.4" font-size="8.7" text-anchor="middle">train/cls_loss</text><text x="279.4" y="144.85" font-size="7.95" text-anchor="middle">0</text><text x="333.35" y="144.85" font-size="7.95" text-anchor="middle">100</text><text x="268.32" y="17" font-size="7.95" text-anchor="end">0.04</text><text x="268.32" y="46" font-size="7.95" text-anchor="end">0.03</text><text x="268.32" y="75" font-size="7.95" text-anchor="end">0.02</text><text x="268.32" y="104" font-size="7.95" text-anchor="end">0.01</text><text x="268.32" y="133" font-size="7.95" text-anchor="end">0.00</text><text x="444.75" y="9.4" font-size="8.7" text-anchor="middle">metrics/precision</text><text x="404.56" y="144.85" font-size="7.95" text-anchor="middle">0</text><text x="458.51" y="144.85" font-size="7.95" text-anchor="middle">100</text><text x="393.48" y="16.9" font-size="7.95" text-anchor="end">1.0</text><text x="393.48" y="39.4" font-size="7.95" text-anchor="end">0.8</text><text x="393.48" y="61.9" font-size="7.95" text-anchor="end">0.6</text><text x="393.48" y="84.4" font-size="7.95" text-anchor="end">0.4</text><text x="393.48" y="106.9" font-size="7.95" text-anchor="end">0.2</text><text x="393.48" y="129.4" font-size="7.95" text-anchor="end">0.0</text><text x="569.91" y="9.4" font-size="8.7" text-anchor="middle">metrics/recall</text><text x="529.72" y="144.85" font-size="7.95" text-anchor="middle">0</text><text x="583.67" y="144.85" font-size="7.95" text-anchor="middle">100</text><text x="518.64" y="43" font-size="7.95" text-anchor="end">0.6</text><text x="518.64" y="71.9" font-size="7.95" text-anchor="end">0.4</text><text x="518.64" y="100.8" font-size="7.95" text-anchor="end">0.2</text><text x="518.64" y="129.7" font-size="7.95" text-anchor="end">0.0</text><text x="69.28" y="163" font-size="8.7" text-anchor="middle">val/box_loss</text><text x="29.08" y="298.45" font-size="7.95" text-anchor="middle">0</text><text x="83.03" y="298.45" font-size="7.95" text-anchor="middle">100</text><text x="18" y="189.7" font-size="7.95" text-anchor="end">0.10</text><text x="18" y="223.4" font-size="7.95" text-anchor="end">0.08</text><text x="18" y="257.1" font-size="7.95" text-anchor="end">0.06</text><text x="194.44" y="163" font-size="8.7" text-anchor="middle">val/obj_loss</text><text x="154.24" y="298.45" font-size="7.95" text-anchor="middle">0</text><text x="208.19" y="298.45" font-size="7.95" text-anchor="middle">100</text><text x="143.16" y="180.8" font-size="7.95" text-anchor="end">0.05</text><text x="143.16" y="205.9" font-size="7.95" text-anchor="end">0.04</text><text x="143.16" y="231" font-size="7.95" text-anchor="end">0.03</text><text x="143.16" y="256.1" font-size="7.95" text-anchor="end">0.02</text><text x="143.16" y="281.2" font-size="7.95" text-anchor="end">0.01</text><text x="319.59" y="163" font-size="8.7" text-anchor="middle">val/cls_loss</text><text x="279.4" y="298.45" font-size="7.95" text-anchor="middle">0</text><text x="333.35" y="298.45" font-size="7.95" text-anchor="middle">100</text><text x="268.32" y="183.8" font-size="7.95" text-anchor="end">0.04</text><text x="268.32" y="211" font-size="7.95" text-anchor="end">0.03</text><text x="268.32" y="238.2" font-size="7.95" text-anchor="end">0.02</text><text x="268.32" y="265.4" font-size="7.95" text-anchor="end">0.01</text><text x="444.75" y="163" font-size="8.7" text-anchor="middle">metrics/mAP_0.5</text><text x="404.56" y="298.45" font-size="7.95" text-anchor="middle">0</text><text x="458.51" y="298.45" font-size="7.95" text-anchor="middle">100</text><text x="393.48" y="198.4" font-size="7.95" text-anchor="end">0.6</text><text x="393.48" y="226.5" font-size="7.95" text-anchor="end">0.4</text><text x="393.48" y="254.6" font-size="7.95" text-anchor="end">0.2</text><text x="393.48" y="282.7" font-size="7.95" text-anchor="end">0.0</text><text x="569.91" y="163" font-size="8.7" text-anchor="middle">metrics/mAP_0.5:0.95</text><text x="529.72" y="298.45" font-size="7.95" text-anchor="middle">0</text><text x="583.67" y="298.45" font-size="7.95" text-anchor="middle">100</text><text x="518.64" y="196.65" font-size="7.95" text-anchor="end">0.3</text><text x="518.64" y="225.45" font-size="7.95" text-anchor="end">0.2</text><text x="518.64" y="254.25" font-size="7.95" text-anchor="end">0.1</text><text x="518.64" y="283.05" font-size="7.95" text-anchor="end">0.0</text><text x="205.1" y="26.7" font-size="7.95">results</text><text x="205.1" y="38" font-size="7.95">smooth</text></g></g>
</svg>
</body></html>
